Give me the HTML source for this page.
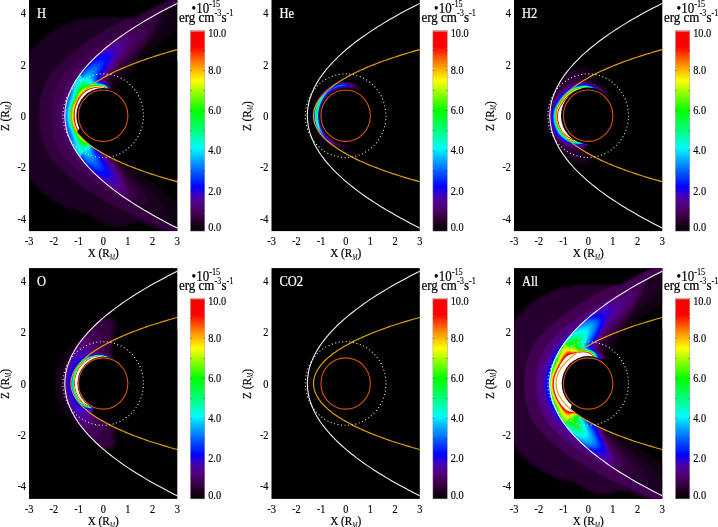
<!DOCTYPE html>
<html><head><meta charset="utf-8"><title>Energy deposition</title>
<style>
html,body{margin:0;padding:0;background:#fff;}
body{width:718px;height:527px;overflow:hidden;position:relative;font-family:"Liberation Serif","DejaVu Serif",serif;color:#000;}
svg{position:absolute;left:0;top:0;}
text{font-family:"Liberation Serif","DejaVu Serif",serif;}
.t{font-size:10.3px;fill:#000;stroke:#000;stroke-width:.14px;}
.l{font-size:11.2px;fill:#000;stroke:#000;stroke-width:.2px;}
.u{font-size:13px;fill:#000;stroke:#000;stroke-width:.2px;}
.n{font-size:12.5px;fill:#fff;stroke:#fff;stroke-width:.2px;}
</style></head><body>
<svg width="718" height="527" viewBox="0 0 718 527">
<defs>
<linearGradient id="cb" x1="0" y1="1" x2="0" y2="0">
<stop offset="0.000" stop-color="#000000"/>
<stop offset="0.040" stop-color="#1e0023"/>
<stop offset="0.080" stop-color="#3e004b"/>
<stop offset="0.120" stop-color="#500073"/>
<stop offset="0.160" stop-color="#4e00a0"/>
<stop offset="0.190" stop-color="#3200d2"/>
<stop offset="0.220" stop-color="#0000ff"/>
<stop offset="0.270" stop-color="#003cff"/>
<stop offset="0.320" stop-color="#007dff"/>
<stop offset="0.370" stop-color="#00beff"/>
<stop offset="0.410" stop-color="#00faff"/>
<stop offset="0.450" stop-color="#00ffc3"/>
<stop offset="0.500" stop-color="#00ff7d"/>
<stop offset="0.550" stop-color="#00ff3c"/>
<stop offset="0.600" stop-color="#00ff00"/>
<stop offset="0.650" stop-color="#55ff00"/>
<stop offset="0.700" stop-color="#aaff00"/>
<stop offset="0.750" stop-color="#ffff00"/>
<stop offset="0.800" stop-color="#ffb900"/>
<stop offset="0.850" stop-color="#ff6e00"/>
<stop offset="0.900" stop-color="#ff1e00"/>
<stop offset="0.920" stop-color="#ff0000"/>
<stop offset="1.000" stop-color="#ff0000"/>
</linearGradient>
<clipPath id="pc"><rect x="0" y="0" width="148.3" height="230.8"/></clipPath>
</defs>
<g transform="translate(29.0,0.3)">
<rect x="0" y="-1.0" width="148.3" height="231.8" fill="#000"/>
<g clip-path="url(#pc)">
<path fill="#110014" d="M135.2,.5l1-.5 12.1,0 0,28.5 -26.6,20.6 -6,5.1 -4,4.3 -10.5,13.7 -2.5,2.6 -6.8,6.3 -3.3,3.5 -1.9,2.9 -1,3.1 -4,7.9 -6.5,15 -.1,.6 -.4,.5 0,2.6 4,13.6 3.9,10.9 .1,2 .5,1.7 1,2.4 1.5,2.8 3,4.3 3.5,3.4 8.5,6.9 47.6,37.1 0,28.5 -18.4,0 -1.8-1 -4.3-1.7 -1.6-.8 -5-1.8 -4-1 -4-.5 -3.5-.1 -3.5,.4 -9,2.1 -3.5,.5 -5.5-.3 -3.5-.7 -5.5-1.8 -5.1-2.5 -5-3.1 -5.5-3.9 -9.5-2.2 -7.5-2.3 -7.5-3.1 -8-4.1 -7.6-4.9 -7-5.4 -6.5-6.2 -6-6.8 0-128.4 4-4.7 4.5-4.6 5-4.5 5-3.9 5.5-3.8 5.1-2.9 6-3 6-2.5 5-1.7 4.5-1.2 3.5-.6 5.5-.5 5.5-.9 37.1-.1 1.5-.4 3-.2 6.9-4.2 1.6-.7 2.5-1.5 1-.2 3.5-2 .8-.1 1-.5 1.3-.8 4.3-2.2 1.2-.8z"/>
<path fill="#1c0021" d="M138.2,.5l1-.5 9.1,0 0,3.4 -.5,0 -.5,.5 -.5,0 -.5,.5 -.5,0 -.5,.5 -.5,0 -.5,.5 -.5,0 -.5,.5 -.5,0 -.5,.5 -.5,0 -.5,.5 -.5,0 -.5,.5 -.5,0 -.5,.5 -.5,0 -.5,.5 -.5,0 -.5,.5 -.5,0 -.5,.6 -.5,0 -.7,.5 -.6,3 -.1,2 .3,1.5 1,2.5 0,1.5 -.4,1.5 -.6,1.5 -2.3,3.5 -11.2,13.5 -11,16.2 -3.5,4.5 -4,3.8 -14.1,11.1 -3.2,3 -1.6,2 -.6,1.4 -.2,1.1 .5,6 -4.3,11.5 -3.5,10 -.3,1 -.2,.5 -.2,1 -.3,.5 -.1,2.6 .6,4.2 2,9.6 1.5,5.8 1.9,5.9 -.3,2.5 .2,1.5 .9,2 6.3,9.7 3,4.1 3.5,3.7 24.1,23 8.1,8.1 5.2,6 1.9,2.5 1.1,2 .8,2 .3,2 -.4,1.1 -1,1.1 -1.5,.7 -2,.5 -3,.1 -3.5-.3 -.1,.3 .6,.5 .5,0 .5,.5 .5,0 .5,.5 .5,0 .5,.5 .5,0 1,1 .5,0 .5,.5 .5,0 .5,.5 .5,0 .5,.6 .5,0 .5,.5 .5,0 1,1 .5,0 .5,.5 .5,0 .5,.5 .5,0 .5,.5 .5,0 .5,.5 .5,0 .5,.5 .5,0 .5,.5 .5,0 .5,.5 .5,0 .5,.5 .5,0 .5,.5 .5,0 .5,.5 .5,0 .5,.5 .5,0 .5,.5 .5,0 .5,.5 .5,0 0,3.4 -14,0 -3.5-1.6 -2-1.1 -4.4-1.8 -1.2-.7 -5-1.8 -4-1.2 -4-.6 -3.5-.2 -3.5,.3 -10.4,2.2 -3.6,.5 -2,.1 -2-.1 -1.5-.7 -.5,0 -.5-.4 -.5,0 -.5-.4 -.5-.1 -.5-.3 -3.7-1.1 -2.3-1 -4-2 -6.4-4 -3.7-2.7 -8.7-1.8 -8.3-2.5 -8.5-3.5 -7.5-4 -7.6-5 -3.9-3.1 -3.5-3 -6.6-6.4 -6-7.3 0-120.2 1-1.3 4.5-5.4 3.9-4 4.3-4 4.9-4.1 5-3.5 5.7-3.5 5.8-3 5.8-2.5 4.2-1.5 5-1.5 4.5-1 5-.6 .5-.3 .5,0 1-.8 2-.5 35.1-.1 1-.1 .5-.4 .5,0 .5-.4 1,0 .5-.2 4,0 14.5-8.4 3.1-1.3 1.5-1 1-.2 1.5-.9 1-.2 .5-.4 .5-.1 .5-.5 .5,0 .5-.5 1-.1 1.5-.9 .8-.1 1.7-1z"/>
<path fill="#280030" d="M139.5,.5l1-.5 7.8,0 0,3.2 -.5,0 -.5,.5 -.5,0 -.5,.5 -.5,0 -.5,.5 -.5,0 -.5,.5 -.5,0 -.5,.5 -.5,0 -.5,.5 -.5,0 -.5,.5 -.5,0 -.5,.5 -.5,0 -.5,.5 -.5,0 -.5,.5 -.5,0 -.5,.5 -.5,0 -.5,.5 -.5,.1 -.5,.5 -.5,0 -1,1 -.5,.1 -.5,.5 -.6,.1 -.3,.5 -1,4 -1.8,5 -3.5,8 -3,5.5 -3.6,6.1 -4.3,6.7 -3,4.3 -2.5,3 -3,3.1 -12.2,10.4 -7.5,6 -3.2,3 -1.6,2 -.7,1.5 -.1,1.5 1.7,7 -4.4,13.5 -2.7,9 -.3,.6 -.1,.9 -.4,.8 -.2,3.3 .7,5.9 1.5,9.2 1,4.9 1.4,5.5 -1.2,3 -.1,1 .5,1.5 1,1.5 5.9,6.9 6,9 2.5,3.3 14.5,15.8 5.6,6.5 3.2,4.6 1.8,3.5 .3,1.5 0,1.5 -.4,.8 -.5,.7 -1,.6 -1.5,.5 -2,.2 -2.5-.1 -4-.4 0,.2 .5,0 1,1 .5,0 1,1.1 .5,0 .5,.5 .5,0 1,1 .5,0 .5,.5 .5,0 1,1 .5,0 .5,.6 .5,0 1,1 .5,0 .5,.5 .5,0 .5,.5 .5,0 1,1 .5,0 .5,.5 .5,0 .5,.5 .6,0 1,1 .5,0 .5,.5 .5,0 .5,.5 .5,0 .5,.5 .5,0 1,1 .5,0 .5,.5 .5,0 .5,.6 .5,0 .5,.5 .5,0 .5,.5 .5,0 1,1 .5,0 .5,.5 .5,0 .5,.5 .5,0 .5,.5 .5,0 .5,.5 .5,0 .5,.5 .5,0 .5,.5 .5,0 .5,.5 .5,0 .5,.5 .5,0 .5,.5 .5,0 .5,.5 .5,0 .5,.5 .5,0 .5,.5 .5,0 .5,.5 .5,0 0,3.2 -7.9,0 -.6-.2 -.5-.5 -1,0 -.5-.5 -1,0 -.5-.5 -.5,0 -.5-.5 -1,0 -.5-.5 -.5,0 -.5-.5 -1,0 -.5-.5 -.5,0 -.5-.5 -.5,0 -.5-.5 -1,0 -.5-.5 -.5,0 -.5-.5 -1,0 -.5-.5 -.5,0 -.5-.5 -.5,0 -.6-.5 -1,0 -.5-.5 -.5,0 -.5-.5 -.5,0 -.5-.5 -.5,0 -.5-.5 -1,0 -.5-.5 -.5,0 -.5-.5 -.5,0 -.5-.5 -1,0 -.5-.5 -.5,0 -.5-.5 -.5,0 -.5-.5 -1,0 -.5-.5 -.5,0 -.5-.5 -.5,0 -.5-.5 -.5,0 -.5-.5 -.5,0 -.5-.5 -.5,0 -.5-.5 -.5,0 -.5-.5 -.5,0 -.5-.5 -.5,0 -.5-.5 -1,0 -.5-.5 -.5,0 -.5-.5 -.5,0 -.5-.5 -.5,0 -.5-.5 -.5,0 -.5-.5 -.5,0 -.5-.5 -.5,0 -.5-.5 -.5,0 -.5-.5 -.5,0 -.5-.5 -.5,0 -.5-.5 -.5,0 -.5-.5 -.5,0 -.5-.5 -.5,0 -.5-.5 -.5,0 -.5-.5 -.5,0 -.5-.5 -.5,0 -1-1 -.5,0 -.5-.5 -.5,0 -.5-.5 -.5,0 -.5-.5 -.5,0 -.5-.5 -.5,0 -1-1 -.5,0 -.5-.5 -.5,0 -.5-.5 -.5,0 -1-1 -.5,0 -.5-.5 -.5,0 -.5-.5 -.6,0 -1-1 -.5,0 -.5-.5 -.5,0 -1-1 -.5,0 -.5-.5 -.5,0 -1-1 -.5,0 -.5-.5 -.5,0 -1-1 -.5,0 -1-1 -.5,0 -.5-.5 -.5,0 -1.5-1.5 -.5,0 -1-1 -.5,0 -1.5-1.5 -.5,0 -.5-.5 -.5,0 -1-1 -.5,0 -1-1 -.5,0 -1.5-1.5 -.5,0 -1.5-1.5 -.5,0 -2.5-2.5 -.5,0 -1.5-1.5 -.5,0 -2-2 -.5,0 -3.5-3.5 -.5,0 -5-5 -.5,0 -.9-.9 0-.5 -7-7 0-.5 -2-2 0-.5 -2-2 0-.5 -1-1 0-.5 -.5-.5 0-.5 -.5-.5 0-.5 -.5-.5 0-1 -.5-.5 0-.5 -.5-.5 0-.5 -.5-.5 0-1 -.5-.5 0-1 -.5-.5 0-1 -.5-.5 0-1 -.5-.5 0-1 -.5-.5 0-1 -.5-.5 0-1.5 -.5-.5 0-1.5 -.5-.5 0-2 -.5-.5 0-2.5 -.5-.5 0-3.5 -.5-.5 0-18.6 .5-.5 0-3.5 .5-.5 0-2.5 .5-.5 0-2 .5-.5 0-1.5 .5-.5 0-1.5 .5-.5 0-1 .5-.5 0-1 .5-.5 0-1 .5-.5 0-1 .5-.5 0-1 .5-.5 0-1 .5-.5 0-.5 .5-.5 0-.5 .5-.5 0-1 .5-.5 0-.5 .5-.5 0-.5 .5-.5 0-.5 1-1 0-.5 2-2 0-.5 2-2 0-.5 7-7 0-.5 .9-.9 .5,0 5-5 .5,0 3.5-3.5 .5,0 2-2 .5,0 1.5-1.5 .5,0 2.5-2.5 .5,0 1.5-1.5 .5,0 1.5-1.5 .5,0 1-1 .5,0 1-1 .5,0 .5-.5 .5,0 1.5-1.5 .5,0 1-1 .5,0 1.5-1.5 .5,0 .5-.5 .5,0 1-1 .5,0 1-1 .5,0 .5-.5 .5,0 1-1 .5,0 .5-.5 .5,0 1-1 .5,0 .5-.5 .5,0 1-1 .6,0 .5-.5 .5,0 .5-.5 .5,0 1-1 .5,0 .5-.5 .5,0 .5-.5 .5,0 1-1 .5,0 .5-.5 .5,0 .5-.5 .5,0 .5-.5 .5,0 .5-.5 .5,0 1-1 .5,0 .5-.5 .5,0 .5-.5 .5,0 .5-.5 .5,0 .5-.5 .5,0 .5-.5 .5,0 .5-.5 .5,0 .5-.5 .5,0 .5-.5 .5,0 .5-.5 .5,0 .5-.5 .5,0 .5-.5 .5,0 .5-.4 .5,0 .5-.4 .5,0 .5-.4 6.5-.1 .5-.1 7-4.3 5.5-3 1.6-1 3-1.4 1.6-1.1 4.4-2 1.5-1 1-.2 1.5-.9 1-.1 1.5-1 1,0 .5-.5 1-.1z"/>
<path fill="#34003f" d="M141.9,.5l1-.5 5.4,0 0,3 -.5,0 -.5,.5 -.5,0 -.5,.5 -.5,0 -.5,.5 -.5,0 -.5,.5 -.5,0 -.5,.5 -.5,0 -.5,.5 -.5,0 -.5,.5 -.5,0 -.5,.5 -.5,0 -.5,.5 -.5,0 -.5,.5 -.5,0 -.5,.5 -.5,0 -.5,.5 -.5,0 -.5,.5 -.5,0 -1,1.1 -.5,0 -.5,.5 -.5,0 -.5,.5 -.5,0 -.5,.5 -.5,0 -.5,.5 -.5,0 -1,1 -.5,0 -.5,.5 -.5,0 -.5,.6 -.5,0 -.5,.5 -.5,0 -1,1 -.6,0 -.5,.6 -.5,0 -.5,.6 -.5-.1 -.1,.2 -.4,.6 3.6-.4 2,.2 .5,.3 .3,.8 0,1.5 -1.2,4 -2.1,4.8 -3.1,5.7 -4,6.5 -3.5,4.7 -4,4.3 -17.6,16.6 -7.9,7 -2.5,2.5 -1.1,1.5 -.6,1.5 -.1,1.5 2,5.5 .7,2 -.1,.5 -4.8,16 -2,6.9 -.2,1.1 -.3,.6 -.3,3 .3,4.3 1,8.9 1,6.8 1.2,6 -.1,.5 -1.1,1.5 -.8,1.5 -.1,1 .2,1 1.4,2 6.8,7.3 2.5,3.1 7.5,11.8 8.5,10.8 3,4 2.1,3.5 1.1,2.6 .3,2 -.2,1 -.3,.6 -.8,.9 -.7,.4 -3.5,1.1 -.5,.4 -.5,.8 -.2,.8 .2,.5 .5,.5 .5,.1 1,1 .5,0 1,1 .5,0 .5,.6 .5,0 .8,.8 .2,.4 .5,0 1,1 .5,0 .5,.5 .5,0 1,1 .5,0 .5,.5 .5,0 1,1 .5,0 .5,.5 .5,0 1,1 .5,0 .5,.5 .5,0 .5,.5 .5,0 1,1 .5,0 .5,.5 .5,0 .5,.5 .6,0 1,1.1 .5,0 .5,.5 .5,0 .5,.5 .5,0 .5,.5 .5,0 1,1 .5,0 .5,.5 .5,0 .5,.5 .5,0 .5,.5 .5,0 .5,.5 .5,0 1,1 .5,0 .5,.5 .5,0 .5,.5 .5,0 .5,.5 .5,0 .5,.5 .5,0 .5,.5 .5,0 .5,.5 .5,0 .5,.5 .5,0 .5,.5 .5,0 .5,.5 .5,0 .5,.5 .5,0 .5,.5 .5,0 .5,.5 .5,0 .5,.5 .5,0 0,3 -7.5,0 -.5-.5 -.5,0 -.5-.5 -1,0 -.5-.5 -1,0 -.5-.5 -.5,0 -.5-.5 -1,0 -.5-.5 -.5,0 -.5-.5 -1,0 -.5-.5 -.4,0 -1.6-1 -3.5-1.4 -1.5-.8 -3.8-1.3 -1.8-1 -1,0 -.5-.5 -.5,0 -.5-.5 -.5,0 -.5-.5 -1,0 -.5-.5 -.5,0 -.5-.5 -.5,0 -.5-.5 -1,0 -.5-.5 -.5,0 -.5-.5 -.5,0 -.5-.5 -.5,0 -.5-.5 -.5,0 -.5-.5 -.5,0 -.5-.5 -.5,0 -.5-.5 -.5,0 -.5-.5 -.5,0 -.5-.5 -1,0 -.5-.5 -.5,0 -.5-.5 -.5,0 -.5-.5 -.5,0 -.5-.5 -.5,0 -.5-.5 -.5,0 -.5-.5 -.5,0 -.5-.5 -.5,0 -.5-.5 -.5,0 -.5-.5 -.5,0 -.5-.5 -.5,0 -.5-.5 -.5,0 -.5-.5 -.5,0 -.5-.5 -.5,0 -.5-.5 -.5,0 -.5-.5 -.5,0 -1-1 -.5,0 -.5-.5 -.5,0 -.5-.5 -.5,0 -.5-.5 -.5,0 -.5-.5 -.5,0 -1-1 -.5,0 -.5-.5 -.5,0 -.5-.5 -.5,0 -1-1 -.5,0 -.5-.5 -.5,0 -.5-.5 -.6,0 -1-1 -.5,0 -.5-.5 -.5,0 -1-1 -.5,0 -.5-.5 -.5,0 -1-1 -.5,0 -.5-.5 -.5,0 -1-1 -.5,0 -1-1 -.5,0 -.5-.5 -.5,0 -1.5-1.5 -.5,0 -1-1 -.5,0 -1.5-1.5 -.5,0 -.5-.5 -.5,0 -1-1 -.5,0 -1-1 -.5,0 -1.5-1.5 -.5,0 -1.5-1.5 -.5,0 -2.5-2.5 -.5,0 -1.5-1.5 -.5,0 -2-2 -.5,0 -3.5-3.5 -.5,0 -5-5 -.5,0 -.6-.6 0-.5 -7-7 0-.5 -2-2 0-.5 -2-2 0-.5 -1-1 0-.5 -.5-.5 0-.5 -.5-.5 0-.5 -.5-.5 0-1 -.5-.5 0-.5 -.5-.5 0-.5 -.5-.5 0-1 -.5-.5 0-1 -.5-.5 0-1 -.5-.5 0-1 -.5-.5 0-1 -.5-.5 0-1 -.5-.5 0-1.5 -.5-.5 0-1.5 -.5-.5 0-2 -.5-.5 0-2.5 -.5-.5 0-3.5 -.5-.5 0-18.6 .5-.5 0-3.5 .5-.5 0-2.5 .5-.5 0-2 .5-.5 0-1.5 .5-.5 0-1.5 .5-.5 0-1 .5-.5 0-1 .5-.5 0-1 .5-.5 0-1 .5-.5 0-1 .5-.5 0-1 .5-.5 0-.5 .5-.5 0-.5 .5-.5 0-1 .5-.5 0-.5 .5-.5 0-.5 .5-.5 0-.5 1-1 0-.5 2-2 0-.5 2-2 0-.5 7-7 0-.5 .6-.6 .5,0 5-5 .5,0 3.5-3.5 .5,0 2-2 .5,0 1.5-1.5 .5,0 2.5-2.5 .5,0 1.5-1.5 .5,0 1.5-1.5 .5,0 1-1 .5,0 1-1 .5,0 .5-.5 .5,0 1.5-1.5 .5,0 1-1 .5,0 1.5-1.5 .5,0 .5-.5 .5,0 1-1 .5,0 1-1 .5,0 .5-.5 .5,0 1-1 .5,0 .5-.5 .5,0 1-1 .5,0 .5-.5 .5,0 1-1 .6,0 .5-.5 .5,0 .5-.5 .5,0 1-1 .5,0 .5-.5 .5,0 .5-.5 .5,0 1-1 .5,0 .5-.5 .5,0 .5-.5 .5,0 .5-.5 .5,0 .5-.5 .5,0 1-1 .5,0 .5-.5 .5,0 .5-.5 .5,0 .5-.5 .5,0 .5-.5 .5,0 .5-.5 .5,0 .5-.5 .5,0 .5-.5 .5,0 .5-.5 .5,0 .5-.5 .5,0 .5-.5 1-.2 10,0 2-1 6-3.7 2.5-1.3 4.8-2.8 2.8-1.3 1.8-1.2 3.7-1.7 1.9-1.3z"/>
<path fill="#420053" d="M108.1,25l.1-.1 .3,.1 -.3,.3zM107.1,25.5l.1-.1 .8,.1 -.3,.3 -.5,0zM105.6,26l.1-.1 1.3,.1 -.3,.4 -.5,0 -1,1.1 -.5,0 0,.3 4-.7 3.5-.3 2.5,.3 1.3,.4 .8,.5 .8,1 .3,1.5 -.4,2 -1.1,2.5 -3.4,5.1 -5.4,6.5 -15.9,17 -11,10.9 -2,2.4 -.9,1.7 -.1,1 .1,1 2.6,5 1.2,3 -6.4,23.1 -.3,1.4 -.2,.5 -.1,1.5 -.3,.6 .4,8.6 .5,6.5 1.4,12.4 -2.1,2.5 -.7,1.5 .3,1.5 1,1.5 3.1,3.5 7.5,8 2,2.6 2.1,3.4 8.1,14.5 1.5,3 .8,2 .4,1.5 .1,2 -.5,7.1 -.4,2 .2,.5 .7,.2 1,1.1 .5,0 1,1.1 .5,0 1,1 .5,0 1,1 .5,0 0,.2 -1,0 -1-1 -.5,0 -.5-.5 -1,0 -1-1 -1,0 -.5-.5 -.5,0 -1-1 -1,0 -1-1 -1,0 -.5-.5 -.5,0 -1-1 -1,0 -1-1 -.5,0 -.5-.5 -.5,0 -.5-.5 -.5,0 -.5-.5 -.5,0 -.5-.5 -.5,0 -1-1 -.5,0 -.5-.5 -.5,0 -.5-.5 -.5,0 -.5-.5 -.5,0 -1-1 -.5,0 -.5-.5 -.5,0 -1-1 -.5,0 -.5-.5 -.5,0 -1-1 -.5,0 -.5-.5 -.5,0 -1-1 -.6,0 -.5-.5 -.5,0 -.5-.5 -.5,0 -1.5-1.5 -.5,0 -.5-.5 -.5,0 -1-1 -.5,0 -1-1 -.5,0 -1.5-1.5 -.5,0 -1-1 -.5,0 -.5-.5 -.5,0 -1.5-1.5 -.5,0 -1-1 -.5,0 -1.5-1.5 -.5,0 -.6-.7 0-.5 -.4-.3 -.5,0 -1-1.1 -.5,0 -1.5-1.5 -.5,0 -2.5-2.5 -.5,0 -3.5-3.5 -.5,0 -.1-.6 -.4-.4 -.5,0 -5.7-5.6 -1.5-1.5 0-.5 -3-3 0-.5 -.5-.5 0-.5 -.5-.5 0-.5 -.5-.5 0-.5 -.5-.5 0-.5 -.5-.5 0-.5 -.5-.5 0-.5 -.5-.5 0-.5 -.5-.5 0-1 -.5-.5 0-.5 -.5-.5 0-.5 -.5-.5 0-1 -.5-.5 0-1 -.5-.5 0-1 -.5-.5 0-1 -.5-.5 0-1.5 -.5-.5 0-1.5 -.5-.5 0-1.5 -.5-.5 0-2.5 -.5-.5 0-3.5 -.5-.5 0-15.6 .5-.5 0-3.5 .5-.5 0-2.5 .5-.5 0-1.5 .5-.5 0-1.5 .5-.5 0-1.5 .5-.5 0-1 .5-.5 0-1 .5-.5 0-1 .5-.5 0-1 .5-.5 0-.5 .5-.5 0-.5 .5-.5 0-1 .5-.5 0-.5 .5-.5 0-.5 .5-.5 0-.5 .5-.5 0-.5 .5-.5 0-.5 .5-.5 0-.5 .5-.5 0-.5 .5-.5 0-.5 3-3 0-.5 7.2-7.1 .5,0 .4-.4 .1-.6 .5,0 3.5-3.5 .5,0 2.5-2.5 .5,0 1.5-1.5 .5,0 1-1.1 .5,0 .4-.3 0-.5 .6-.7 .5,0 1.5-1.5 .5,0 1-1 .5,0 1.5-1.5 .5,0 .5-.5 .5,0 1-1 .5,0 1.5-1.5 .5,0 1-1 .5,0 1-1 .5,0 .5-.5 .5,0 1.5-1.5 .5,0 .5-.5 .5,0 .5-.5 .6,0 1-1 .5,0 .5-.5 .5,0 1-1 .5,0 .5-.5 .5,0 1-1 .5,0 .5-.5 .5,0 1-1 .5,0 .5-.5 .5,0 .5-.5 .5,0 .5-.5 .5,0 1-1 .5,0 .5-.5 .5,0 .5-.5 .5,0 .5-.5 .5,0 .5-.5 .5,0 1-1 1,0 1-1 .5,0 .5-.5 1,0 1-1 1,0 1-1 .5,0 .5-.5 1,0 1-1 1,0 .5-.5 .5,0zM107.1,205.3l.7,0 -.6,.1zM108.1,205.8l.2,0 -.1,.1z"/>
<path fill="#4b0067" d="M100.9,33.5l2.3,0 2,.4 1.3,.6 .7,.9 .4,1.1 -.1,1.5 -.6,2.1 -1,2 -2.6,4 -4.2,5.5 -12,14 -8.4,8.9 -1.9,2.6 -.6,1.5 -.1,1 .3,1 3,4 1,2 .8,2 -6,22.9 -.2,1.1 -.3,.9 -.1,1.6 -.4,.6 .5,14.8 .5,7.5 .6,5.2 -2.7,2.5 -.6,1 -.2,1 .2,1 .6,1 2.3,3 9.8,10.7 2,2.4 2.5,3.9 3.2,6 2.1,4.5 1.4,3.5 .9,3 .6,2.5 .3,3.6 -.1,2 -.5,1 -.4,.3 -1,.2 -2-.4 -1-.6 -.5,0 -1.5-1.4 -.5,0 -1-.9 -.5,0 -1.5-1.5 -.5,0 -1.5-1.4 -.5-.1 -1.5-1.4 -.5,0 -2-2 -.5,0 -2-2 -.5,0 -2-2 -.5,0 -3.1-3 -.5,0 -6-5.9 -.5,0 -2-1.8 -.5,0 -1.5-1.5 -.5,0 -.2-.2 0-.5 -.3-.3 -.5,0 -1.5-1.5 -.5,0 -1.5-1.5 -.5,0 -2.5-2.5 -.5,0 -3-3 -.5,0 -.2-.2 0-.5 -.3-.3 -.5,0 -6.2-6.2 0-.5 -1-1 0-.5 -.5-.5 0-.5 -1-1 0-.5 -.5-.5 0-.5 -.5-.5 0-.5 -.5-.5 0-.5 -.5-.5 0-.5 -.5-.5 0-.5 -.5-.5 0-1 -.5-.5 0-.5 -.5-.5 0-.5 -.5-.5 0-1 -.5-.5 0-1 -.5-.5 0-1 -.5-.5 0-1 -.5-.5 0-1 -.5-.5 0-1.5 -.5-.5 0-1.5 -.5-.5 0-2.5 -.5-.5 0-3.5 -.5-.5 0-12.6 .5-.5 0-3.5 .5-.5 0-2.5 .5-.5 0-1.5 .5-.5 0-1.5 .5-.5 0-1 .5-.5 0-1 .5-.5 0-1 .5-.5 0-1 .5-.5 0-1 .5-.5 0-.5 .5-.5 0-.5 .5-.5 0-1 .5-.5 0-.5 .5-.5 0-.5 .5-.5 0-.5 .5-.5 0-.5 .5-.5 0-.5 .5-.5 0-.5 1-1 0-.5 .5-.5 0-.5 1-1 0-.5 6.2-6.2 .5,0 .3-.3 0-.5 .2-.2 .5,0 3-3 .5,0 2.5-2.5 .5,0 1.5-1.5 .5,0 1.5-1.5 .5,0 .3-.3 0-.5 .2-.2 .5,0 1.5-1.5 .5,0 2-1.8 .5,0 6-5.9 .5,0 3.1-3 .5,0 2-2 .5,0 2-2 .5,0 2-2 .5,0 1.5-1.4 .5-.1 1.5-1.4 .5,0 1.5-1.5 .5,0 1-.9 .5,0 1.5-1.4 .5,0 1-.7 2-.5z"/>
<path fill="#50007c" d="M92.1,39.1l2.6-.4 2,.1 1.5,.4 1,.7 .5,.7 .4,1.5 -.2,1.5 -.7,2 -2.2,4 -3.5,5 -8.2,10.5 -8.3,9.5 -1.4,2 -.8,2 .1,1 .3,1 3.7,4 1.4,2.5 .5,1.5 -5.6,22.7 -.2,1.3 -.3,.8 -.1,1.7 -.5,.6 .2,17.5 .3,6 .4,4 -3,2.5 -.7,1 -.3,1 .2,1 .5,1 2.5,3.2 10.6,12.3 2.3,3 2.6,3.9 2,3.6 1.5,3.2 1.5,3.8 1.2,5 .1,2 -.3,1.4 -.8,.6 -1.2,.2 -3-.4 -4.5-1.3 -.5-.4 -.5,0 -1.5-1.5 -.5,0 -2-1.9 -.5,0 -2-2 -.5,0 -2-1.9 -.5,0 -3.1-3 -.5,0 -6-5.9 -.5,0 -.9-.9 -3-3 0-.5 -5-5 0-.5 -2.6-2.5 0-.5 -2-2 0-.5 -1.5-1.5 0-.5 -1.5-1.5 0-.5 -1-1 0-.5 -1-1 0-.5 -.5-.5 0-.5 -1-1 0-.5 -.5-.5 0-.5 -1-1 0-.5 -.5-.5 0-.5 -.5-.5 0-.5 -.5-.5 0-.5 -.5-.5 0-.5 -.5-.5 0-.5 -.5-.5 0-1 -.5-.5 0-.5 -.5-.5 0-.5 -.5-.5 0-1 -.5-.5 0-1 -.5-.5 0-1 -.5-.5 0-1 -.5-.5 0-1.5 -.5-.5 0-1.5 -.5-.5 0-2.5 -.5-.5 0-3.5 -.5-.5 0-9.6 .5-.5 0-3.5 .5-.5 0-2.5 .5-.5 0-1.5 .5-.5 0-1.5 .5-.5 0-1 .5-.5 0-1 .5-.5 0-1 .5-.5 0-1 .5-.5 0-.5 .5-.5 0-.5 .5-.5 0-1 .5-.5 0-.5 .5-.5 0-.5 .5-.5 0-.5 .5-.5 0-.5 .5-.5 0-.5 .5-.5 0-.5 1-1 0-.5 .5-.5 0-.5 1-1 0-.5 .5-.5 0-.5 1-1 0-.5 1-1 0-.5 1.5-1.5 0-.5 1.5-1.5 0-.5 2-2 0-.5 2.6-2.5 0-.5 5-5 0-.5 3.9-3.9 .5,0 6-5.9 .5,0 3.1-3 .5,0 2-1.9 .5,0 2-2 .5,0 2-1.9 .5,0 1.5-1.5 .5,0 .5-.4 2-.6z"/>
<path fill="#4f0092" d="M86.2,43.6l3.5-.5 1.5,.1 1.2,.4 .8,.5 .7,1 .2,1 0,1 -.5,2 -.9,2 -2.9,5 -6.1,8.5 -8,9.9 -1.4,2.1 -.6,1.5 0,1.5 .4,1 .9,1 2.7,2.1 .8,.9 1.3,2 .7,1.5 .1,.5 -5.4,22.5 -.2,1.5 -.3,.7 -.1,1.8 -.5,.6 -.2,18 .5,9.5 -3.3,2.5 -.8,1 -.3,1 .1,1 .8,1.5 3.8,5 9.7,12 3.8,5.3 2.5,4.4 2,4.8 .5,2 .1,1.5 -.3,1 -.8,1 -2,.5 -2.5-.2 -3.5-.8 -4.5-1.5 -1-.9 -.5,0 -2-2 -.5,0 -3.1-2.9 -.5,0 -6-5.9 -.5,0 -.8-.8 -3-3 0-.5 -5.1-5 0-.5 -2.5-2.5 0-.5 -2-2 0-.5 -1.5-1.5 0-.5 -1.5-1.5 0-.5 -1-1 0-.5 -1-1 0-.5 -.5-.5 0-.5 -1-1 0-.5 -.5-.5 0-.5 -1-1 0-.5 -.5-.5 0-.5 -.5-.5 0-.5 -.5-.5 0-.5 -.5-.5 0-.5 -.5-.5 0-.5 -.5-.5 0-1 -.5-.5 0-.5 -.5-.5 0-.5 -.5-.5 0-1 -.5-.5 0-1 -.5-.5 0-1 -.5-.5 0-1 -.5-.5 0-1.5 -.5-.5 0-1.5 -.5-.5 0-2.5 -.5-.5 -.1-3.5 -.5-.5 0-9.6 .5-.5 0-3.5 .5-.5 .1-2.5 .5-.5 0-1.5 .5-.5 0-1.5 .5-.5 0-1 .5-.5 0-1 .5-.5 0-1 .5-.5 0-1 .5-.5 0-.5 .5-.5 0-.5 .5-.5 0-1 .5-.5 0-.5 .5-.5 0-.5 .4-.5 0-.5 .5-.5 0-.5 .5-.5 0-.5 .5-.5 0-.5 1-1 0-.5 .5-.5 0-.5 1-1 0-.5 .5-.5 0-.5 1.1-1 0-.5 1-1 0-.5 1.5-1.5 0-.5 1.5-1.5 0-.5 2-2 0-.5 2.5-2.5 0-.5 5.1-5 0-.5 3-3 .8-.8 .5,0 6-5.9 .5,0 3.1-2.9 .5,0 2-2 .5,0 1-.9 1-.4z"/>
<path fill="#4700ad" d="M83.4,47.1l1.8-.2 1.5,.1 1,.3 1,.8 .5,1 .1,1 -.5,2.5 -1.5,3.5 -2.4,4 -3,4.5 -7.2,9.5 -1.5,2.5 -.5,1.5 0,1.5 .4,1 1,1 2.6,1.7 1.5,1.3 1.3,2 .8,1.5 0,.5 -5.1,22.4 -.3,1.6 -.2,.6 -.1,1.9 -.5,.6 -.5,18 .2,9.5 -3,2 -1.1,1 -.6,1 -.1,1 .5,1.5 2.1,3.2 11.3,14.8 2.9,4.5 1.9,3.5 1.3,3.5 .2,1.5 -.1,1 -.4,1 -.6,.5 -.9,.5 -1.5,.2 -3-.3 -4-1.1 -4.5-1.8 -1.6-1.4 -.5,0 -6-5.9 -.5,0 -3.7-3.7 0-.5 -5.1-5 0-.5 -2.5-2.5 0-.5 -2-2 0-.5 -1.6-1.5 0-.5 -1.5-1.5 0-.5 -1-1 0-.5 -1-1 0-.5 -.5-.5 0-.5 -1-1 0-.5 -.5-.5 0-.5 -1-1 0-.5 -.5-.5 0-.5 -.5-.5 0-.5 -.5-.5 0-.5 -.5-.5 0-.5 -.5-.5 0-.5 -.5-.5 0-1 -.5-.5 0-.5 -.5-.5 0-.5 -.5-.5 0-1 -.5-.5 0-1 -.5-.5 0-1 -.5-.5 0-1 -.5-.5 0-1.5 -.5-.5 0-1.5 -.5-.5 0-2.5 -.5-.5 0-3.5 -.5-.5 0-9.6 .5-.5 0-3.5 .5-.5 0-2.5 .5-.5 0-1.5 .5-.5 0-1.5 .5-.5 0-1 .5-.5 0-1 .5-.5 0-1 .5-.5 0-1 .5-.5 0-.5 .5-.5 0-.5 .5-.5 0-1 .5-.5 0-.5 .5-.5 0-.5 .5-.5 0-.5 .5-.5 0-.5 .5-.5 0-.5 .5-.5 0-.5 1-1 0-.5 .5-.5 0-.5 1-1 0-.5 .5-.5 0-.5 1-1 0-.5 1-1 0-.5 1.5-1.5 0-.5 1.6-1.5 0-.5 2-2 0-.5 2.5-2.5 0-.5 5.1-5 0-.5 2.7-2.7 1-1 .5,0 6-5.9 .5,0 1.6-1.4 3-1.2 3.5-1.2z"/>
<path fill="#3400cf" d="M79.1,50.6l2.6-.3 2,.4 .5,.4 .8,1 .2,1 -.1,1 -.8,3 -2,4 -2.1,3.5 -7,10 -1.1,2 -.5,1.5 0,1 .5,1.5 1,1 3.6,2.1 1,.8 1.6,2.1 .8,1.5 0,.5 -4.9,22.2 -.3,1.8 -.2,.5 -.1,2 -.5,.6 -.9,18.5 .1,9 -3.9,2.5 -.8,1 -.4,1.5 .4,1.5 2,3.3 9.9,13.7 2.1,3.5 1.5,3 .9,3 .2,1.5 -.2,1 -.8,1 -.5,.4 -2,.4 -2.5-.3 -3-.8 -4.1-1.6 -3-1.6 -3-2.9 -.5,0 -3.6-3.6 0-.5 -5.1-5 0-.5 -2.5-2.5 0-.5 -2-2 -.1-.5 -1.6-1.5 0-.5 -1.5-1.5 0-.5 -1-1 0-.5 -1-1 0-.5 -.5-.5 0-.5 -1-1 0-.5 -.5-.5 0-.5 -1-1 0-.5 -.5-.5 0-.5 -.5-.5 0-.5 -.5-.5 0-.5 -.4-.5 0-.5 -.5-.5 0-.5 -.5-.5 0-1 -.5-.5 0-.5 -.5-.5 0-.5 -.5-.5 0-1 -.5-.5 0-1 -.5-.5 0-1 -.5-.5 0-1 -.5-.5 0-1.5 -.5-.5 0-1.5 -.5-.5 0-2.5 -.5-.5 -.1-3.5 -.4-.5 -.1-9.6 .5-.5 .1-3.5 .4-.5 .1-2.5 .5-.5 0-1.5 .5-.5 0-1.5 .5-.5 0-1 .5-.5 0-1 .5-.5 0-1 .5-.5 0-1 .5-.5 0-.5 .5-.5 0-.5 .4-.5 0-1 .5-.5 0-.5 .5-.5 0-.5 .5-.5 0-.5 .5-.5 0-.5 .5-.5 0-.5 .5-.5 0-.5 1-1 0-.5 .5-.5 0-.5 1-1 0-.5 .5-.5 0-.5 1-1 0-.5 1-1 0-.5 1.5-1.5 0-.5 1.6-1.5 .1-.5 2-2 0-.5 2.5-2.5 0-.5 5.1-5 0-.5 3.6-3.6 .5,0 3-2.9 1-.6 5.1-2.3z"/>
<path fill="#1400ed" d="M76.4,53.6l2.8-.1 1.5,.6 .5,.6 .3,.9 .1,1 -.2,1.5 -.9,2.5 -1.7,3.5 -7.2,11.3 -.8,2.2 -.2,1.5 .3,1 .6,1 1.5,1 3.7,1.9 1.3,1.1 1.4,2 .5,1 0,.5 -5.2,24.4 -.1,2.1 -.5,.6 -1.2,18 -.1,9.5 -4.1,2.5 -.9,1 -.4,1.5 .4,1.5 1.7,3 9,13.5 2.4,5 .6,2.5 .1,1 -.2,1 -.7,1 -.5,.3 -2,.4 -3-.4 -3.6-1.2 -4-2 -3.5-2.1 -2-2 -.1-.5 -5-5 0-.5 -2.6-2.5 0-.5 -2-2 0-.5 -1.6-1.5 0-.5 -1.5-1.5 0-.5 -1-1 0-.5 -1-1 0-.5 -.5-.5 0-.5 -1-1 0-.5 -.5-.5 0-.5 -1-1 0-.5 -.5-.5 0-.5 -.5-.5 0-.5 -.5-.5 0-.5 -.5-.5 0-.5 -.5-.5 0-.5 -.5-.5 0-1 -.5-.5 0-.5 -.5-.5 0-.5 -.5-.5 0-1 -.5-.5 0-1 -.5-.5 0-1 -.5-.5 0-1 -.5-.5 0-1.5 -.5-.5 0-1.5 -.5-.5 0-2.5 -.5-.5 0-3.5 -.5-.5 0-9.6 .5-.5 0-3.5 .5-.5 0-2.5 .5-.5 0-1.5 .5-.5 0-1.5 .5-.5 0-1 .5-.5 0-1 .5-.5 0-1 .5-.5 0-1 .5-.5 0-.5 .5-.5 0-.5 .5-.5 0-1 .5-.5 0-.5 .5-.5 0-.5 .5-.5 0-.5 .5-.5 0-.5 .5-.5 0-.5 .5-.5 0-.5 1-1 0-.5 .5-.5 0-.5 1-1 0-.5 .5-.5 0-.5 1-1 0-.5 1-1 0-.5 1.5-1.5 0-.5 1.6-1.5 0-.5 2-2 0-.5 2.6-2.5 0-.5 5-5 .1-.5 2-2 3-1.9 3.5-1.7 3-1.2z"/>
<path fill="#000aff" d="M73,56.6l2.2-.3 1,.1 1,.3 .5,.4 .6,1 0,2 -.5,2 -1,2.5 -6.3,11 -.7,2 -.1,1 .1,1 .4,1 1,1 4.5,2.1 2,1.4 1.2,1.5 .9,1.5 -5.1,24.9 -.1,2.1 -.5,.6 -1.5,17.9 -.3,9.6 -4.3,2.5 -1,1 -.4,1.5 .4,1.5 1.2,2.5 7.2,11.5 1.7,3 .7,2 .6,2.5 -.2,1.8 -.5,.7 -.5,.4 -1,.3 -1,.1 -2.6-.4 -3.5-1.2 -3.5-1.7 -4-2.5 -4.5-4.5 -.1-.5 -2.5-2.5 0-.5 -2-2 0-.5 -1.7-1.5 0-.5 -1.5-1.5 0-.5 -1-1 0-.5 -1-1 0-.5 -.5-.5 0-.5 -1-1 0-.5 -.5-.5 0-.5 -1-1 0-.5 -.5-.5 0-.5 -.5-.5 0-.5 -.5-.5 0-.5 -.5-.5 0-.5 -.4-.5 0-.5 -.5-.5 0-1 -.5-.5 0-.5 -.5-.5 0-.5 -.5-.5 0-1 -.5-.5 0-1 -.5-.5 0-1 -.5-.5 0-1 -.5-.5 0-1.5 -.5-.5 0-1.5 -.5-.5 0-2.5 -.5-.5 -.1-3.5 -.4-.5 -.1-9.6 .5-.5 .1-3.5 .4-.5 .1-2.5 .5-.5 0-1.5 .5-.5 0-1.5 .5-.5 0-1 .5-.5 0-1 .5-.5 0-1 .5-.5 0-1 .5-.5 0-.5 .4-.5 0-.5 .5-.5 0-1 .5-.5 0-.5 .5-.5 0-.5 .5-.5 0-.5 .5-.5 0-.5 .5-.5 0-.5 .5-.5 0-.5 1-1 0-.5 .5-.5 0-.5 1-1 0-.5 .5-.5 0-.5 1-1 0-.5 1-1 0-.5 1.5-1.5 0-.5 1.7-1.5 0-.5 2-2 0-.5 2.5-2.5 .1-.5 4-4 2.5-1.8 3.5-2 3-1.3z"/>
<path fill="#0028ff" d="M69.4,60.1l2.2-.4 1,0 1,.3 1,1.1 .3,1.5 -.2,1.5 -.8,2 -4.8,10 -.5,2 .3,2 .5,1 1.4,1 4.4,1.7 2,1.1 1.1,1.2 1.3,2 -4.9,24.8 -.1,2.2 -.5,.6 -1.8,18.5 -.4,8.5 -.1,.5 -3.9,2 -1.3,1 -.7,1 -.2,1 .1,1 1.3,3 5.4,9.5 2.2,5 .2,1.5 -.3,1.5 -1,1.1 -1.5,.3 -2.5-.3 -3-1.1 -3-1.5 -3.5-2.3 -2.8-2.2 -2.7-2.5 0-.5 -2-2 0-.5 -1.7-1.5 0-.5 -1.6-1.5 0-.5 -1-1 0-.5 -1-1 0-.5 -.4-.5 -.1-.5 -.9-1 0-.5 -.5-.5 0-.5 -1-1 0-.5 -.5-.5 0-.5 -.5-.5 0-.5 -.5-.5 0-.5 -.5-.5 0-.5 -.5-.5 0-.5 -.5-.5 0-1 -.5-.5 0-.5 -.5-.5 0-.5 -.4-.5 0-1 -.5-.5 0-1 -.5-.5 0-1 -.5-.5 0-1 -.5-.5 0-1.5 -.5-.5 -.1-1.5 -.5-.5 0-2.5 -.5-.5 0-3.5 -.5-.5 0-9.6 .5-.5 0-3.5 .5-.5 0-2.5 .5-.5 0-1.5 .5-.5 0-1.5 .5-.5 0-1 .5-.5 0-1 .5-.5 0-1 .5-.5 0-1 .5-.5 0-.5 .5-.5 0-.5 .5-.5 0-1 .5-.5 0-.5 .5-.5 0-.5 .5-.5 0-.5 .5-.5 0-.5 .5-.5 0-.5 .5-.5 0-.5 .9-1 0-.5 .5-.5 0-.5 1-1 0-.5 .5-.5 0-.5 1-1 0-.5 1-1 0-.5 1.5-1.5 0-.5 1.8-1.5 0-.5 2-2 0-.5 1.5-1.5 3.5-2.8 3.5-2.4 3.5-1.8z"/>
<path fill="#0046ff" d="M67.4,63.1l1.7-.2 1.2,.2 .8,.6 .4,1.4 -.5,3 -3.3,8.5 -.2,2 .5,2 .8,1 .8,.5 5.1,1.8 2,1 1.5,1.3 1.2,1.9 -4.7,24.7 -.2,2.3 -.4,.6 -2,17 -.7,10 -.2,.5 -3.2,1.5 -1.7,1 -1,1 -.5,1 .1,1.5 .9,2.5 4.1,8.5 1.5,4 .1,1.5 -.1,1 -.8,.8 -1.5,.4 -1.5-.1 -2-.6 -2.5-1.2 -2.5-1.5 -2.5-1.9 -2.5-2.2 -3.9-4.2 -.1,.5 -.5,.2 -.2-.2 0-.5 -1.5-1.5 0-.5 -1-1 0-.5 -1-1 0-.5 -.5-.5 0-.5 -1-1 0-.5 -.5-.5 0-.5 -1-1 0-.5 -.5-.5 0-.5 -.5-.5 0-.5 -.5-.5 .1-.5 -.5-.5 0-.5 -.5-.5 0-.5 -.5-.5 0-1 -.5-.5 0-.5 -.5-.5 0-.5 -.5-.5 0-1 -.5-.5 0-1 -.5-.5 0-1 -.5-.5 0-1 -.5-.5 0-1.5 -.5-.5 0-1.5 -.5-.5 0-2.5 -.5-.5 0-3.5 -.5-.5 0-9.6 .5-.5 0-3.5 .5-.5 0-2.5 .5-.5 0-1.5 .5-.5 0-1.5 .5-.5 0-1 .5-.5 0-1 .5-.5 0-1 .5-.5 0-1 .5-.5 0-.5 .5-.5 0-.5 .5-.5 0-1 .4-.5 0-.5 .5-.5 0-.5 .5-.5 0-.5 .5-.5 0-.5 .5-.5 0-.5 .5-.5 0-.5 1-1 0-.5 .5-.5 0-.5 1-1 0-.5 .5-.5 0-.5 1-1 0-.5 1-1 0-.5 1.5-1.5 0-.5 .2-.2 .5,.2 0,.2 4-4.1 5-3.9 3.5-2z"/>
<path fill="#0067ff" d="M63.9,66.6l1.7-.4 1,0 1,.4 .6,1 .2,1 -.2,1.5 -1.5,5.5 -.3,2 .1,1.5 .7,2 1.2,1 1.1,.5 4.7,1.4 2,.8 1.7,1.3 1.4,2 -4.6,24.6 -.2,2.4 -.4,.6 -2.5,18.8 -.6,8.2 -.3,.5 -3.5,1.5 -1.7,1 -1.1,1 -.4,1 -.1,1 .7,3 2.9,7 .7,3 .1,1 -.3,1 -.9,.7 -1,.2 -2-.3 -3-1.4 -2.5-1.7 -2-1.6 -2.5-2.4 -1.8-2 -.2,0 0,.5 -.6,.5 0,.5 -.4,.2 -.2-.7 -1.5-1.5 0-.5 -1-1 0-.5 -1-1 0-.5 -.5-.5 0-.5 -.9-1 0-.5 -.5-.5 0-.5 -1-1 0-.5 -.5-.5 0-.5 -.5-.5 0-.5 -.5-.5 0-.5 -.5-.5 0-.5 -.5-.5 0-.5 -.4-.5 0-1 -.5-.5 0-.5 -.5-.5 .1-2 -.6-2.6 -1-2.8 -2-4.5 0-1.6 -.5-.5 -.1-3.5 -.5-.5 0-9.6 .5-.5 0-3.5 .5-.5 .1-2.5 .4-.5 .1-1.5 .5-.5 0-1.5 .5-.5 0-1 .5-.5 0-1 .5-.5 0-1 .5-.5 0-1 .4-.5 0-.5 .5-.5 0-.5 .5-.5 0-1 .5-.5 0-.5 .5-.5 0-.5 .5-.5 0-.5 .5-.5 0-.5 .5-.5 0-.5 .5-.5 0-.5 .9-1 0-.5 .5-.5 0-.5 1-1 0-.5 .5-.5 0-.5 1-1 0-.5 1-1 0-.5 1.5-1.5 0-.5 .2-.2 .4,.2 0,.5 .6,.5 0,.2 3-3 3-2.5 3-1.9z"/>
<path fill="#0087ff" d="M62.3,69.6l1.8-.1 1,.6 .2,.5 .3,1.5 -.4,4.5 0,2 .5,1.5 .9,1.5 1.6,1 6,1.6 2,.8 1.5,1.1 1.4,2 -4.4,24.5 -.2,2.5 -.4,.6 -2.5,17 -1,10 -.5,.5 -4.7,2 -1.4,1 -.7,1 -.3,1 .3,3 1.7,6 .2,2 -.2,1 -.4,.5 -.5,.3 -1,.1 -2-.5 -3-1.7 -2.5-2 -2.7-2.7 -.3,0 -.1,.5 -.5,.5 -.1,.5 -.5,.5 0,.5 -.3,.1 -.1-.6 -1.5-1.5 0-.5 -1-1 0-.5 -1-1 0-.5 -.5-.5 0-.5 -1-1 0-.5 -.5-.5 0-.5 -1-1 0-.5 -.5-.5 0-.5 -.5-.5 .1-.5 -.5-.5 0-.5 -.5-.5 .1-3.5 -.6-3.5 -3.7-10.5 -1-3.5 -.7-3.5 -.2-4.1 .2-3.5 .6-3 3.3-11 .6-2.5 .1-2.5 .3-.5 0-1 .5-.5 0-.5 .4-.5 0-.5 .5-.5 0-.5 .5-.5 0-.5 .5-.5 0-.5 .5-.5 0-.5 1-1 0-.5 .5-.5 0-.5 1-1 0-.5 .5-.5 0-.5 1-1 0-.5 1-1 0-.5 1.5-1.5 .1-.6 .3,.1 0,.5 .6,.5 0,.5 .6,.5 0,.2 2.5-2.4 2.5-2 2.5-1.5z"/>
<path fill="#00a8ff" d="M60.5,72.6l1.6,.1 .9,.9 .4,1 .7,4.5 1,2 .9,1 2.3,1 5.3,1.2 2.1,.7 2,1.3 1.3,1.8 -4.3,24.4 -.2,2.6 -.4,.6 -2,11.9 -1.3,9.6 -.5,5.5 -.7,.5 -5,2 -.8,.5 -1.1,1 -.5,1 -.1,2.5 .3,4.5 -.1,1.5 -.5,1 -1.2,.4 -1.5-.4 -1.5-.7 -2-1.5 -2-1.8 -1.2,1 0,.5 -.6,.5 0,.5 -.5,.5 0,.5 -.2,.1 -.1-.6 -1.5-1.5 0-.5 -1-1 0-.5 -1-1 0-.5 -.5-.5 0-.5 -1-1 0-.5 -.4-.5 0-.5 -1-1 0-.5 -.5-.5 .2-3.5 -.5-4 -1.2-4 -2.8-7.5 -1-3.5 -.9-4.5 -.2-4.6 .2-3.5 .8-4 2.9-9.5 1-3.5 .5-3.5 0-3 .5-.5 0-.5 .5-.5 0-.5 .5-.5 -.1-.5 1-1 0-.5 .5-.5 0-.5 1-1 0-.5 .5-.5 0-.5 1-1 0-.5 1-1 0-.5 1.5-1.5 .1-.6 .2,.1 0,.5 .5,.5 .1,.5 .5,.5 .1,.5 .6,.5 .2,0 1.8-1.6 2-1.4 2-1.1z"/>
<path fill="#00caff" d="M51.1,74.1l.1,.5 .5,.5 0,.5 .6,.5 0,.5 1.2,1 .1,.5 .3,0 2.2-1.7 1.5-.7 1.5-.4 1.5,.2 1,1.1 1.7,3.5 1.5,2 2.1,1 6.2,1.3 2.1,.5 2,1.1 1,1 .6,1.1 -4.1,24.3 -.2,2.7 -.5,.6 -2.9,16.9 -.8,6.1 -.4,4 -.8,.4 -4.3,1.6 -2.6,1.5 -.9,1.5 -1.2,5 -.6,1 -.9,.4 -1-.1 -1.5-.7 -2-1.4 0,.3 -.6,.5 -.1,.5 -1.1,1 -.1,.5 -.5,.5 0,.5 -.5,.5 -.1,.5 0-.5 -1.5-1.5 0-.5 -1-1 0-.5 -1-1 0-.5 -.5-.5 0-.5 -.5-.5 -.2-.5 -.8-6.5 -.9-4.5 -1.1-3.5 -3.2-8.5 -1.1-4 -.6-3.5 -.2-4.1 .2-3.5 .5-3.5 1.1-4 3.3-10.2 .9-4.8 .6-5 .5-.5 0-.5 .5-.5 0-.5 1-1 0-.5 .5-.5 0-.5 1-1 0-.5 1-1 0-.5 1.5-1.5z"/>
<path fill="#00e8ff" d="M51.1,75.1l.5,0 0,.5 .6,.5 0,.5 1.2,1 0,.5 .6,.5 .1,.5 1.5-1 1.5-.7 1.5-.3 1,.3 1,.7 3,3.8 .9,.7 2.6,.9 5.5,.9 3.1,.9 1,.5 1,.8 1,1.5 -4.1,24.5 -.1,2.5 -.5,.6 -3.4,18.9 -1,8.1 -5.5,2 -2,1 -1.1,1 -.9,2.1 -1.5,2.4 -.5,.3 -1,.3 -1-.2 -1.5-.8 -.1,.4 -.6,.5 0,.5 -.6,.5 0,.5 -1.2,1 0,.5 -.5,.1 -1.9-2.6 -1.4-3 -3.3-12 -4.2-11.5 -1.4-5.5 -.4-5.6 .3-4 .7-4 .8-3 3.3-9.7 2.8-11.3 .8-2.5 1-2 1-1.5z"/>
<path fill="#00fbf3" d="M52.3,77.1l.3,0 .6,.5 0,.5 .6,.5 .1,.5 .6,.5 .1,.3 1.5-.8 1-.3 1-.1 1,.3 1,.6 3,2.8 1,.6 2.1,.6 5.9,.9 3.1,.7 2,1.1 1,1 .4,.8 -4,24.5 -.1,2.5 -.5,.6 -2.9,15 -1.1,7 -.6,5 -6,2 -2.1,1 -1.1,1 -.9,1.5 -1.2,1.1 -1.5,.6 -1.5-.2 -.1,.5 -.6,.5 -.1,.5 -.6,.5 0,.5 -.6,.5 0,.4 -1.5-1.5 -1.5-2 -1-1.9 -1-2.5 -2.6-8 -4.6-12.5 -1.1-5 -.3-4.6 .2-4.5 .8-4 1-3.5 3.1-8.9 2.5-8.7 1-2.6 1.2-2.3 1.3-1.8z"/>
<path fill="#00fed5" d="M53,78.6l.7,0 0,.5 .6,.5 .1,.5 .7,.7 2-.7 1.5,.2 2,1 2,1.5 1.5,.6 2.5,.6 6,.7 2.6,.6 2,1.1 1,1 .3,.7 -3.9,24.5 -.1,2.5 -.5,.6 -.1,1 -2.8,13.5 -1.4,8 -.6,4.5 -6.5,2 -2.2,1 -2.3,2.2 -1,.5 -1,.1 -1.3,1.2 0,.5 -.6,.5 -.1,.5 -1.5-.9 -1.5-1.6 -1.5-2.4 -1.2-2.6 -6.9-18.5 -1.2-5 -.4-4.5 .2-5.1 .9-4.5 6.4-19 1.2-2.9 1.2-2.1 1.3-1.8z"/>
<path fill="#00ffb8" d="M53.3,80.1l.8-.5 .1,.5 .6,.5 .1,.5 .7,.5 1.5-.3 1.5,.1 2,.8 1.3,.9 1.7,.6 2.1,.4 6.4,.7 2.6,.5 1.5,.6 1,.6 1,1.1 .2,.5 -3.8,24.5 -.1,2.5 -.5,.6 -.1,1 -2.8,12.6 -1.5,7.8 -.8,5.6 -5.5,1.5 -2.9,1 -1.7,1 -1.1,.9 -1,.2 -.1,.4 -.6,.5 -.1,.5 -1.2,.7 -1-.3 -1-.7 -1.5-1.5 -1.5-2.4 -1.3-2.8 -5-12.5 -1.5-4 -1.1-4.5 -.4-5 .2-4.6 .9-5 1.1-3.5 4.8-13.5 1.3-3.1 1.5-2.6 1.5-1.9z"/>
<path fill="#00ff95" d="M53.8,81.6l.8-.4 1.3,.9 .2,.5 1.5-.2 1.5,.3 2.1,.9 1.9,.5 8.5,.7 2.6,.5 2.5,1 1,.8 .6,1 -3.7,24.5 -.1,2.5 -.5,.6 -.1,1 -3.3,14.2 -1.3,6.8 -.7,4.5 -.5,.5 -5.9,1.5 -3.3,1 -1.3,.5 -.6,.5 -.1,.5 -.7,.5 -.1,.3 -.5,.1 -1.5-.2 -1-.5 -1-.7 -1.5-1.9 -1.8-3.1 -4.9-11.5 -1.5-4 -1.1-4.5 -.6-5 .2-5.1 1-5 1.4-4.5 3.6-9.5 1.7-4.2 1.5-2.7 2-2.4z"/>
<path fill="#00ff73" d="M54.9,82.6l.7-.2 .8,.7 .2,.4 1.5-.1 4,1 8.5,.5 3.6,.5 2.5,1 1,.8 .5,.9 -3.7,24.5 -.1,2.5 -.4,.6 -.1,1 -3.3,13.5 -1.5,7 -.8,5 -.5,.5 -.7,.2 -9,1.9 -.7,.4 -.3,.5 -.5,.4 -1,.2 -2-.5 -1.5-1.1 -1.5-1.8 -1.6-2.7 -4.7-10.5 -1.5-4 -1.3-5.5 -.4-5.1 .2-4.5 1.1-5 1.5-4.5 4-10 1.7-3.5 1.5-2.2 2-1.9z"/>
<path fill="#00ff52" d="M55.7,83.6l.4-.1 1,.8 3,.4 10,.4 3.5,.3 1.6,.4 1.5,.7 1,.9 .4,.7 -3.6,24.5 -.1,2.5 -.4,.6 -.1,1 -3.8,15 -1.4,6.5 -.6,4 -.5,.3 -1,.3 -8,1.4 -1,.5 -2.5,.5 -1-.2 -1-.6 -1.4-1.2 -1.1-1.5 -2-3.7 -3.2-6.8 -1.9-4.5 -1.2-4 -.7-4 -.2-4.1 .4-4.5 1.1-5 1.4-4 4.2-10 1.6-3 1.5-2 2-1.7z"/>
<path fill="#00ff32" d="M55.5,84.6l1.1-.2 1,.8 11.5,0 4,.3 1.6,.3 1.5,.6 1.5,1.1 .2,.6 -3.4,24.5 -.1,2.5 -.4,.6 -.1,1 -3.8,14.5 -1.5,6.5 -.8,4.5 -.7,.4 -2,.4 -6.5,.7 -.5,.3 -2,.2 -1.5-.2 -1-.4 -1-.7 -1-1.1 -2-3 -2.7-5.1 -2.5-5.5 -1.5-4.5 -.9-4.5 -.2-4.1 .3-5 1.2-5 1.6-4.5 3.5-8 1.5-3 1.7-2.4 2-1.7z"/>
<path fill="#00ff14" d="M55.3,85.6l1.8-.2 .5,.4 .5,0 9.5-.5 5,.2 2.1,.4 1.5,.6 1.5,1.1 .1,.5 -3.3,24.5 -.1,2.5 -.4,.6 -.2,1 -4.2,15.5 -1.4,6 -.7,4 -.9,.3 -4,.6 -4.5,.5 -1.5,0 -2-.4 -2-1.3 -1.1-1.2 -1.4-2 -3.3-6 -2.4-5.5 -1.7-5.5 -.6-4.5 .1-5.1 .7-4.5 1.4-4.5 2.9-7 3.4-6.5 1-1.5 1-1 1.5-1.1z"/>
<path fill="#0eff00" d="M65.5,85.6l5.1-.1 3.6,.4 1.5,.4 1,.6 .9,.7 .1,.5 -3.2,24.5 -.1,2.5 -.5,.6 -.1,1 -4.2,15 -1.5,6 -.8,4.5 -1.2,.3 -3.5,.5 -4,.2 -2-.1 -1.5-.4 -1.5-.8 -1.4-1.2 -1.1-1.3 -2.7-4.2 -3.1-6.5 -1.6-4.5 -1-4.5 -.3-5.1 .3-4.5 1.2-5 1.9-5 3.6-7.5 1.6-2.5 1.1-1.4 2-1.6 2-.8 1.5-.2 1,.2z"/>
<path fill="#38ff00" d="M69.6,85.6l3,.1 2.6,.5 2,1.1 .4,.8 -3.1,24.5 -.1,2.5 -.5,.6 -.1,1 -4.2,14.5 -1.6,6 -1.1,5 -2.3,.4 -3,.2 -3,.1 -2-.3 -1.5-.4 -1.5-.9 -1.2-1.1 -1.3-1.5 -3.1-5 -3.1-6.5 -1.5-5 -.7-4.5 0-5.1 .7-4.5 1.5-5 2.9-6.5 2.8-5.1 1-1.4 1.5-1.5 2-1.2 2.5-.8 1,.1 6.5-.9z"/>
<path fill="#63ff00" d="M64.3,86.1l5.3-.4 4,.3 2.6,.7 1.2,.9 .1,.5 -3,24 -.1,3 -.5,.6 -.1,1 -4.7,15.5 -1.4,5.5 -.9,4 -.3,.5 -1.9,.3 -6,.1 -3-.7 -1.5-.8 -1.5-1.3 -2.5-3.1 -2.6-4.5 -2.3-5 -1.5-5 -.7-5 0-5.1 .9-5 1.9-5.5 3.1-6.5 2.7-4.2 2-2 2.5-1.3 2-.6 .5,.1z"/>
<path fill="#8dff00" d="M65.8,86.1l3.8-.3 3.5,.2 2.1,.4 1,.4 1.1,.8 .1,.5 -2.9,24 -.1,3 -.5,.6 -.1,1 -4.7,15 -1.5,5.5 -1,4.5 -.5,.4 -2,.3 -5.5,0 -3-.9 -1.5-.9 -1.5-1.3 -1.4-1.6 -1.4-2 -2.8-5 -2.1-5 -1.2-4.5 -.5-5 .2-5.1 1-5 1.9-5 2.9-6 1.4-2.2 1.5-1.9 2-1.9 2.5-1.3 1.5-.4z"/>
<path fill="#b8ff00" d="M67.3,86.1l3.8-.1 3.1,.2 2,.7 1,.7 .1,.5 -2.8,24 -.1,3 -.5,.6 -.1,1 -5,15.5 -1.6,5.5 -.9,4 -.7,.4 -2,.2 -5-.2 -1.5-.3 -1.5-.6 -1.5-1 -1.5-1.3 -2.8-3.7 -3-5.5 -2-5 -1-4.5 -.4-5.1 .4-5 1-4.5 2.2-5.5 2.9-5.5 1.3-2 1.4-1.6 2-1.7 3-1.4 5-1.2z"/>
<path fill="#e2ff00" d="M69,86.1l3.1,0 2.6,.3 2,.9 .4,.3 .1,.5 -2.7,24 -.1,3 -.5,.6 -.2,1 -5.1,15.5 -1.6,5.5 -.9,4 -1,.3 -2,.1 -4.5-.2 -1.5-.4 -1.5-.7 -1.7-1.1 -1.6-1.5 -2.9-4 -2.6-5 -1.9-5 -1-5 -.3-5.1 .6-5 1.2-4.5 2.3-5.5 2.8-5 2.6-3.1 2.5-1.9 3-1.2 5-1.1z"/>
<path fill="#fff400" d="M65.4,86.6l3.7-.4 3.5,0 2.6,.5 1.8,.9 .1,.5 -2.6,24 -.2,3 -.4,.6 -.2,1 -5.3,15.5 -1.6,5.5 -.9,4 -.8,.2 -2,.1 -4-.2 -3-1 -1.5-.9 -1.5-1.3 -2.8-3.4 -2.6-4.5 -1.9-4.5 -1.4-5 -.5-4.5 .1-5.1 1-5 1.8-5 2.5-5 2.8-4.1 2.5-2.3 2.5-1.5 1.5-.5 3-.8z"/>
<path fill="#ffd100" d="M66.3,86.6l3.8-.3 3.5,.1 2.6,.8 .7,.4 .1,.5 -2.6,24 -.1,3 -.4,.6 -.2,1 -5.4,15.5 -1.7,5.5 -1,4 -2,.2 -2.5-.1 -2-.2 -1.5-.4 -1.5-.7 -1.5-1 -1.5-1.3 -1.4-1.5 -2.6-4 -2.7-5.5 -1.6-5 -.7-5 .1-5.1 .9-5 1.7-5 2.8-5.5 2.8-4 2.2-2.1 3-1.7 4.5-1.4z"/>
<path fill="#ffad00" d="M67.2,86.6l2.9-.2 3,0 2.1,.4 1.6,.8 .1,.5 -2.5,24 -.1,3 -.4,.6 -.2,1 -5.4,15 -3.1,10 -2.6,.1 -3.5-.4 -1.5-.4 -1.5-.7 -1.5-1 -1.5-1.4 -2.9-3.7 -2.5-4.5 -1.8-4.5 -1.3-5 -.3-5.1 .3-4.5 1.1-5 1.8-4.5 2.7-5 2.5-3.5 2.4-2.1 3-1.6 5-1.6z"/>
<path fill="#ff8800" d="M68.1,86.6l2.5-.2 2.5,.1 2.1,.4 1.5,.7 0,.5 -2.3,24 -.1,3 -.5,.6 -.1,1 -5.8,15.5 -1.6,5 -1.1,4 -.6,.4 -.5,.1 -4.5-.4 -2-.5 -1.5-.8 -2.9-2.3 -2.8-3.5 -2.5-4.5 -2-5 -1.1-4.5 -.4-5.1 .4-4.5 1-4.5 1.9-5 2.7-5 2.7-3.5 2.5-2.1 3-1.6 5-1.5z"/>
<path fill="#ff6100" d="M69.1,86.6l2.5-.1 2,.1 1.6,.3 1.3,.7 .1,.5 -2.2,24 -.1,3 -.5,.6 -.2,1 -5.8,15.5 -1.7,5 -1.1,4 -.4,.2 -1,.2 -4-.4 -3-1.1 -1.5-1 -1.6-1.4 -2.8-3.5 -2.8-5 -2-5 -1-4.5 -.3-5.1 .5-4.5 1.2-5 2.1-5 2.6-4.5 2.6-3.2 2.5-2 3-1.5 5-1.5z"/>
<path fill="#ff3900" d="M70.4,86.6l2.2,0 2.1,.3 1.7,.7 .1,.5 -2.1,24 -.1,3 -.5,.6 -.2,.9 -6.2,16.1 -1.5,4.5 -1.1,4 -.7,.3 -1,0 -3.5-.5 -3-1.1 -1.7-1.2 -1.6-1.5 -1.3-1.5 -1.8-2.5 -2.4-4.5 -1.8-5 -1-5 -.1-5.1 .5-4.5 1.5-5 2-4.5 2.3-4 1.4-1.8 1.5-1.5 1.5-1.2 2-1.3 3.5-1.4 4.5-1.2z"/>
<path fill="#ff1200" d="M66.7,87.1l3.4-.4 3.5,.1 2.6,.7 .1,.1 .1,.5 -2,23.5 -.1,3.5 -.5,.6 -.2,.9 -6.2,15.6 -1.7,5 -1.2,4 -.4,.2 -1.5-.1 -3.5-.5 -1.5-.6 -1.5-.8 -3-2.7 -2.7-3.5 -2.6-5 -1.8-5 -.9-5 0-5.1 .7-5 1.6-5 2.5-5 2.7-3.9 2.5-2.5 3-1.9 4-1.6z"/>
<path fill="#ff0000" d="M67.3,87.1l2.8-.3 2.5-.1 2.1,.3 1.5,.6 -1.8,24 -.1,3.5 -.5,.6 -.2,.9 -6.6,16.1 -1.6,4.5 -1.1,4 -1.7,0 -3.5-.6 -1.5-.5 -1.5-.9 -3-2.7 -2.8-3.8 -2.3-4.5 -1.8-5 -.9-5 0-5.6 .8-5 1.7-5 2.6-5 2.5-3.5 2.6-2.5 3.1-1.9 4-1.5z"/>
<path fill="#ff0000" d="M67.9,87.1l4.7-.3 2.1,.3 1.4,.5 -1.8,24 0,3.5 -.5,.6 -.2,.9 -6.7,16.1 -1.7,4.5 -1.1,3.7 -.5,.3 -1.5-.1 -3.5-.8 -1.5-.7 -1.4-.9 -1.6-1.4 -1.5-1.6 -2.7-4 -2.4-5 -1.5-5 -.6-4.5 .1-5.1 .8-4.5 1.7-5 2.3-4.5 2.8-4 2.7-2.5 3.3-1.9 4.5-1.7z"/>
<path fill="#ffffff" d="M69.2,87.1l3.9-.1 1.6,.2 1.2,.4 -1.6,23.5 -.1,4 -.4,.6 -.2,.8 -7.1,16.2 -1.7,4.5 -1.1,3.5 -.6,.2 -1,0 -3.5-.9 -1.5-.7 -1.5-1.1 -1.7-1.5 -1.7-2 -2.5-4 -2.3-5 -1.2-4.5 -.5-5 .2-5.1 1-4.5 1.9-5 2.5-4.5 2.8-3.5 2.5-2.1 3-1.7 5-1.8z"/>
<ellipse cx="74.15" cy="115.40" rx="26.82" ry="27.82" fill="#000"/>
<path fill="#000" d="M74.2,89.8 76.7,90.1 79.3,90.4 81.9,90.7 84.5,91.0 87.1,91.3 89.7,91.1 92.3,90.0 94.9,92.0 97.5,90.9 100.1,91.5 102.7,89.7 105.3,90.9 107.9,89.0 110.5,89.2 113.1,85.6 115.7,84.4 118.3,80.2 120.9,78.0 123.5,73.4 126.1,71.8 128.7,67.2 131.2,64.8 133.8,62.7 136.4,63.7 139.0,61.8 141.6,62.3 144.2,60.9 146.8,62.5 149.4,61.0 152.0,61.6 151.4,178.4 148.8,179.1 146.2,177.8 143.6,178.5 141.0,176.1 138.4,176.7 135.8,175.3 133.2,176.0 130.6,173.5 128.0,174.1 125.4,172.7 122.8,173.2 120.2,170.7 117.7,171.3 115.1,169.7 112.5,170.2 109.9,167.6 107.3,167.9 104.7,166.1 102.1,166.4 99.5,165.3 96.9,164.3 94.3,163.2 91.7,162.0 89.1,160.9 86.5,159.7 83.9,158.4 81.3,157.1 78.7,155.8 76.1,154.4 73.5,152.9 70.9,151.4 68.3,149.8 65.7,148.1 63.2,146.3 60.6,144.4 59.3,143.4 58.1,142.4 56.4,140.9 54.4,139.1 51.9,136.7 50.7,135.3 49.4,133.8 48.0,131.9Z"/>
<g fill="none">
<path d="M159.8,233.4 154.5,230.8 149.2,228.2 144.2,225.7 139.2,223.1 134.3,220.5 129.6,218.0 124.9,215.4 120.4,212.8 116.0,210.3 111.8,207.7 107.6,205.2 103.6,202.6 99.6,200.0 95.8,197.5 92.1,194.9 88.6,192.3 85.1,189.8 81.8,187.2 78.5,184.6 75.4,182.1 72.5,179.5 69.6,176.9 66.8,174.4 64.2,171.8 61.7,169.3 59.3,166.7 57.0,164.1 54.8,161.6 52.8,159.0 50.8,156.4 49.0,153.9 47.3,151.3 45.7,148.7 44.3,146.2 42.9,143.6 41.7,141.0 40.6,138.5 39.6,135.9 38.7,133.4 37.9,130.8 37.3,128.2 36.8,125.7 36.4,123.1 36.1,120.5 35.9,118.0 35.8,115.4 35.9,112.8 36.1,110.3 36.4,107.7 36.8,105.1 37.3,102.6 37.9,100.0 38.7,97.4 39.6,94.9 40.6,92.3 41.7,89.8 42.9,87.2 44.3,84.6 45.7,82.1 47.3,79.5 49.0,76.9 50.8,74.4 52.8,71.8 54.8,69.2 57.0,66.7 59.3,64.1 61.7,61.5 64.2,59.0 66.8,56.4 69.6,53.9 72.5,51.3 75.4,48.7 78.5,46.2 81.8,43.6 85.1,41.0 88.6,38.5 92.1,35.9 95.8,33.3 99.6,30.8 103.6,28.2 107.6,25.6 111.8,23.1 116.0,20.5 120.4,18.0 124.9,15.4 129.6,12.8 134.3,10.3 139.2,7.7 144.2,5.1 149.2,2.6 154.5,0.0 159.8,-2.6" stroke="#f2f2f2" stroke-width="1.1"/>
<path d="M155.7,47.4 151.9,48.4 148.1,49.4 144.4,50.4 140.8,51.4 137.3,52.5 133.8,53.5 130.3,54.6 127.0,55.6 123.7,56.7 120.4,57.7 117.3,58.8 114.2,59.9 111.1,61.0 108.2,62.1 105.3,63.2 102.4,64.3 99.6,65.4 96.9,66.5 94.3,67.6 91.7,68.8 89.2,69.9 86.7,71.0 84.3,72.2 82.0,73.3 79.8,74.5 77.6,75.6 75.5,76.8 73.4,78.0 71.4,79.1 69.5,80.3 67.6,81.5 65.8,82.7 64.1,83.8 62.4,85.0 60.8,86.2 59.3,87.4 57.8,88.6 56.4,89.8 55.1,91.0 53.8,92.2 52.6,93.4 51.5,94.6 50.4,95.8 49.4,97.0 48.4,98.3 47.5,99.5 46.7,100.7 46.0,101.9 45.3,103.1 44.7,104.4 44.1,105.6 43.6,106.8 43.2,108.0 42.8,109.3 42.5,110.5 42.3,111.7 42.1,112.9 42.1,114.2 42.0,115.4 42.1,116.6 42.1,117.9 42.3,119.1 42.5,120.3 42.8,121.5 43.2,122.8 43.6,124.0 44.1,125.2 44.7,126.4 45.3,127.7 46.0,128.9 46.7,130.1 47.5,131.3 48.4,132.5 49.4,133.8 50.4,135.0 51.5,136.2 52.6,137.4 53.8,138.6 55.1,139.8 56.4,141.0 57.8,142.2 59.3,143.4 60.8,144.6 62.4,145.8 64.1,147.0 65.8,148.1 67.6,149.3 69.5,150.5 71.4,151.7 73.4,152.8 75.5,154.0 77.6,155.2 79.8,156.3 82.0,157.5 84.3,158.6 86.7,159.8 89.2,160.9 91.7,162.0 94.3,163.2 96.9,164.3 99.6,165.4 102.4,166.5 105.3,167.6 108.2,168.7 111.1,169.8 114.2,170.9 117.3,172.0 120.4,173.1 123.7,174.1 127.0,175.2 130.3,176.2 133.8,177.3 137.3,178.3 140.8,179.4 144.4,180.4 148.1,181.4 151.9,182.4 155.7,183.4" stroke="#e0a000" stroke-width="1.2"/>
<ellipse cx="74.15" cy="115.40" rx="40.29" ry="41.80" stroke="#e4e4e4" stroke-width="1.1" stroke-dasharray="1 2.58" stroke-linecap="butt"/>
<ellipse cx="74.15" cy="115.40" rx="24.72" ry="25.64" stroke="#d8520a" stroke-width="1.1"/>
</g>
</g>
<text class="n" transform="translate(8.0,18.0) scale(1,1.16)" text-anchor="start">H</text>
<g>
<text class="t" transform="translate(-3.0,17.0) scale(1,1.16)" text-anchor="end">4</text>
<text class="t" transform="translate(-3.0,68.3) scale(1,1.16)" text-anchor="end">2</text>
<text class="t" transform="translate(-3.0,119.6) scale(1,1.16)" text-anchor="end">0</text>
<text class="t" transform="translate(-3.0,170.9) scale(1,1.16)" text-anchor="end">-2</text>
<text class="t" transform="translate(-3.0,222.2) scale(1,1.16)" text-anchor="end">-4</text>
<text class="t" transform="translate(0.1,245.0) scale(1,1.16)" text-anchor="middle">-3</text>
<text class="t" transform="translate(24.8,245.0) scale(1,1.16)" text-anchor="middle">-2</text>
<text class="t" transform="translate(49.5,245.0) scale(1,1.16)" text-anchor="middle">-1</text>
<text class="t" transform="translate(74.2,245.0) scale(1,1.16)" text-anchor="middle">0</text>
<text class="t" transform="translate(98.9,245.0) scale(1,1.16)" text-anchor="middle">1</text>
<text class="t" transform="translate(123.6,245.0) scale(1,1.16)" text-anchor="middle">2</text>
<text class="t" transform="translate(148.3,245.0) scale(1,1.16)" text-anchor="middle">3</text>
<text class="l" transform="translate(74.2,257.1) scale(1,1.16)" text-anchor="middle">X (R<tspan dy="2" font-size="6.3" font-style="italic" stroke-width="0">M</tspan><tspan dy="-2">)</tspan></text>
<text class="l" transform="translate(-20.4,115.9) rotate(-90) scale(1,1.16)" text-anchor="middle">Z (R<tspan dy="2" font-size="6.3" font-style="italic" stroke-width="0">M</tspan><tspan dy="-2">)</tspan></text>
</g>
<g>
<rect x="161.4" y="30.1" width="14.4" height="200.7" fill="url(#cb)"/>
<rect x="161.4" y="30.1" width="14.4" height="1" fill="#e8e8e8"/>
<rect x="161.4" y="30.1" width="14.4" height="200.7" fill="none" stroke="#999" stroke-width="0.5"/>
<path d="M161.4,210.7h1.6M175.8,210.7h-1.6" stroke="#000" stroke-opacity=".45" stroke-width=".7"/>
<path d="M161.4,190.7h1.6M175.8,190.7h-1.6" stroke="#000" stroke-opacity=".45" stroke-width=".7"/>
<path d="M161.4,170.6h1.6M175.8,170.6h-1.6" stroke="#000" stroke-opacity=".45" stroke-width=".7"/>
<path d="M161.4,150.5h1.6M175.8,150.5h-1.6" stroke="#000" stroke-opacity=".45" stroke-width=".7"/>
<path d="M161.4,130.4h1.6M175.8,130.4h-1.6" stroke="#000" stroke-opacity=".45" stroke-width=".7"/>
<path d="M161.4,110.4h1.6M175.8,110.4h-1.6" stroke="#000" stroke-opacity=".45" stroke-width=".7"/>
<path d="M161.4,90.3h1.6M175.8,90.3h-1.6" stroke="#000" stroke-opacity=".45" stroke-width=".7"/>
<path d="M161.4,70.2h1.6M175.8,70.2h-1.6" stroke="#000" stroke-opacity=".45" stroke-width=".7"/>
<path d="M161.4,50.2h1.6M175.8,50.2h-1.6" stroke="#000" stroke-opacity=".45" stroke-width=".7"/>
<text class="t" transform="translate(179.2,230.9) scale(1,1.16)" text-anchor="start">0.0</text>
<text class="t" transform="translate(179.2,194.2) scale(1,1.16)" text-anchor="start">2.0</text>
<text class="t" transform="translate(179.2,154.0) scale(1,1.16)" text-anchor="start">4.0</text>
<text class="t" transform="translate(179.2,113.9) scale(1,1.16)" text-anchor="start">6.0</text>
<text class="t" transform="translate(179.2,73.7) scale(1,1.16)" text-anchor="start">8.0</text>
<text class="t" transform="translate(179.2,37.0) scale(1,1.16)" text-anchor="start">10.0</text>
<text class="u" transform="translate(176.9,12.6) scale(1,1.16)" text-anchor="middle">•10<tspan dy="-5" font-size="8.3" stroke-width=".1">-15</tspan></text>
<text class="u" transform="translate(150.0,21.6) scale(1,1.16)" text-anchor="start">erg cm<tspan dy="-5" font-size="8.3" stroke-width=".1">-3</tspan><tspan dy="5">s</tspan><tspan dy="-5" font-size="8.3" stroke-width=".1">-1</tspan></text>
</g>
</g>
<g transform="translate(271.5,0.3)">
<rect x="0" y="-1.0" width="148.3" height="231.8" fill="#000"/>
<g clip-path="url(#pc)">
<path fill="#110014" d="M71,81.1l3.2-.1 3.5,.3 4,1 2.5,1 3,1.7 2.5,2.1 1.6,2 .3,1 -.1,.5 -.8,.3 -1-.1 -7-1.7 -3.1-.5 -5.4-.2 -2.7,.2 -2.7,.5 -3.3,1 -3.3,1.5 -3,2 -2.6,2.3 -2.5,3 -2,3.2 -1.5,3.3 -1,3.1 -.5,2.4 -.3,4.8 .3,4.5 1,4.1 1,2.6 1.5,3 1.5,2.3 2,2.4 2.1,2.1 2.5,2 2.4,1.5 4.4,2 3.5,1 2.1,.4 3.1,.3 5.5,.3 .7,.5 -1,1 -3.2,1.4 -3.5,.7 -3.1,.2 -3-.1 -3-.5 -3.5-1 -2.5-1 -2.5-1.3 -2.5-1.6 -2.5-2.1 -1.8-1.7 -2.6-3 -1.4-2 -1.4-2.5 -1.6-3.5 -1.5-5 -.6-3 -.2-4 .4-6.1 .9-4 1.1-3 2.4-5 2.1-3 1.6-2 2.1-2.1 3-2.6 3-2.1 2.5-1.5 5-2.1 3.5-.8z"/>
<path fill="#1c0021" d="M70.6,81.6l3-.2 3.1,.3 3,.6 2,.6 2.5,1.1 2.6,1.6 1.6,1.5 .6,1 .1,.5 -.3,.5 -1.1,.2 -8.5-1.3 -3.5-.1 -3.9,.2 -2.9,.5 -3.4,1 -2.3,1 -2.7,1.5 -2.6,2 -2.3,2.3 -2.5,3.2 -1.5,2.6 -1.5,3.4 -1,3.3 -.5,2.7 -.2,3.5 .2,4.4 .5,2.7 1,3.3 1,2.4 1.5,2.8 2,2.9 1.5,1.7 2.5,2.4 1.9,1.5 4.3,2.5 4.8,1.9 6.5,1.6 .6,.5 -.4,.5 -1.6,.6 -2.1,.3 -2.5,.1 -3-.2 -2.5-.5 -2.5-.7 -3-1.3 -3-1.6 -2-1.4 -2-1.7 -2.1-2.1 -2.1-2.5 -2-3 -1.6-3 -1-2.5 -1.4-5.5 -.5-3.5 0-2.6 .4-5.5 .5-2.5 1.1-3.5 2.3-5 1.6-2.5 1.9-2.5 2.4-2.5 2.5-2.3 5-3.4 3-1.5 2.5-1 3.5-.9z"/>
<path fill="#280030" d="M69.2,82.1l2.4-.3 3.1,0 3.5,.5 2,.5 3,1.2 2,1.1 1.7,1.5 .5,1 -.2,.6 -1,.2 -9.5-.8 -3.1,0 -3.7,.5 -2.2,.5 -3,1 -2.2,1 -2.5,1.5 -2.5,2 -2.9,3 -1.5,2 -2,3.5 -1,2.3 -1,3 -.7,3.7 -.3,4.1 .5,5.4 1,3.8 1.5,3.7 2,3.4 2,2.6 1.5,1.7 4,3.4 4.3,2.5 7.4,3 .6,.5 -.8,.6 -3,.3 -2.5-.2 -2.5-.4 -3-1 -2.5-1.1 -2.5-1.4 -2-1.4 -2-1.7 -2.2-2.2 -2-2.5 -1.7-2.5 -1.3-2.5 -1.1-2.5 -1-3 -.6-2.5 -.4-3 -.2-3.6 .3-4.5 .5-2.5 .9-3.5 1-2.5 1.4-3 1.6-2.5 1.9-2.5 1.9-2.1 2-1.9 2-1.7 3-2.1 2.5-1.4 3.5-1.5 3-.9z"/>
<path fill="#34003f" d="M71.1,82.1l2.5-.1 2.6,.2 4.5,1 2,.9 1.7,1 1.2,1 .5,1 -.3,.5 -1.1,.2 -9-.5 -4.1,.3 -2.5,.4 -2.3,.6 -2.7,1 -2.1,1 -2.4,1.5 -2.5,2 -2,2.1 -2,2.6 -1.5,2.4 -1.5,3.1 -1,2.9 -.5,1.9 -.6,4.5 0,4.6 .6,3.8 1.5,4.8 2,4 3,4.2 2,2.1 2,1.8 4,2.7 6.8,3.6 .1,.5 -.4,.1 -2.5,.2 -2.5-.3 -3-.9 -2.5-1 -2.5-1.3 -2.5-1.7 -2-1.7 -3.6-3.9 -1.7-2.5 -1.4-2.5 -2.1-5 -.9-3.5 -.4-3 -.2-2.5 .1-3.1 .4-3.5 .5-2.5 1.5-4.5 2.6-5 1.3-2 2.6-3 2.3-2.2 2.5-2.1 5-3.1 3-1.4 2.5-.8 2.5-.6z"/>
<path fill="#420053" d="M69.1,82.6l2.5-.3 2.6,0 4.5,.7 2,.6 2,1 1.4,1 .4,.5 .2,.5 -.5,.4 -1,.2 -8-.1 -5.3,.5 -2.2,.5 -3.1,1 -3.1,1.5 -2.3,1.5 -2.4,2 -2.2,2.3 -2,2.7 -1.5,2.6 -1.5,3.4 -1,3.2 -.5,2.4 -.3,2.9 0,4.6 .8,4.7 1,3.3 2,4.2 2.5,3.8 3.5,3.8 3.5,2.8 4.7,2.9 1.3,1 -.5,.5 -1.5,0 -2.5-.5 -2.5-.8 -2-1 -2.5-1.4 -2-1.5 -2.5-2.2 -3.4-4.1 -1.3-2 -1.5-3 -1.7-4.5 -1-5.5 -.2-3 .1-3.1 .8-5 .8-3 1-2.5 2.1-4 3.4-4.5 3.9-3.8 2.5-1.9 2.5-1.6 5-2.4 2-.6z"/>
<path fill="#4b0067" d="M70.9,82.6l3.8,0 4,.7 3.2,1.3 1.3,1 .2,.5 -.6,.5 -.6,.1 -8,.2 -5.4,.7 -4.7,1.5 -2.1,1 -2.5,1.5 -2.4,1.9 -2,2.1 -2,2.5 -1.5,2.3 -1.5,3 -1,2.6 -1,3.7 -.4,2.4 -.1,5.1 .5,4.3 1,3.8 1.5,3.6 2.5,4.3 2.5,3.1 3.5,3.3 4.8,3.6 .6,.5 .2,.5 -1.6,.1 -2.5-.6 -2-.8 -2.5-1.4 -2-1.4 -3.7-3.4 -2.1-2.5 -1.3-2 -1.2-2 -1.4-3 -1-3 -.6-2.5 -.6-5 .2-5.6 .9-4.5 1-3 1.1-2.5 1.3-2.5 1.7-2.5 3.2-3.7 4-3.5 3-2 2.5-1.4 2.5-1.1 2.5-.9 2.5-.6z"/>
<path fill="#50007c" d="M68.7,83.1l3.9-.4 4.1,.3 3.5,1.1 1.6,1 .4,.5 -.2,.5 -.8,.2 -8.1,.5 -5.1,.8 -3.2,1 -2.2,1 -4,2.4 -2,1.8 -2,2.1 -2,2.6 -1.5,2.5 -1.5,3.2 -1,2.9 -1,4.9 -.2,3.7 .3,4 .9,4.5 1.5,4.1 2,3.7 2.5,3.5 2.5,2.7 4.7,4 .9,1 -.6,.3 -.5-.1 -1.5-.3 -2-.8 -2.5-1.4 -2-1.5 -2-1.7 -1.9-2 -2.9-4 -2-4 -1.6-5 -.8-5.5 .1-5.1 .8-5 1.6-4.5 2.3-4.5 1.8-2.5 1.6-1.9 4-3.8 4.5-3.1 5-2.4z"/>
<path fill="#4f0092" d="M69.8,83.1l3.8-.2 3.6,.5 2,.6 1.2,.6 .6,.5 .1,.5 -1.3,.5 -7.2,.5 -5.3,1 -4.2,1.5 -2,1.1 -2.2,1.4 -1.8,1.5 -2,2 -2,2.4 -1.5,2.3 -1.5,2.9 -1,2.4 -1,3.4 -.5,2.5 -.3,4.1 .2,4.6 .6,3.1 1.5,4.7 1.5,3.1 2.5,3.9 2.5,3 4.7,4.7 -.2,.4 -.5,0 -1.5-.5 -2-.9 -2.5-1.7 -2-1.6 -3.4-3.7 -2.8-4.5 -2-5 -1.1-4.5 -.3-5.1 .3-5 1.1-4.5 2-5 2.5-4 3.2-3.8 4-3.4 4.5-3 4.5-2 3-.9z"/>
<path fill="#4700ad" d="M71.8,83.1l2.9,.1 2.4,.4 1.5,.5 1,.5 .5,.5 -.3,.5 -.6,.2 -7.6,.8 -4.9,1 -4,1.5 -3.6,2.2 -2,1.6 -1.8,1.7 -1.7,2 -1.5,2.2 -2.5,4.7 -1.5,4.6 -.8,4.5 -.1,4.1 .4,4.3 1,4.1 1.5,3.8 1.5,2.9 3,4.3 4.6,5.1 0,.5 -.6,0 -2-.8 -2-1.3 -3.5-2.9 -3.3-4 -2.5-4.5 -1.6-4.5 -.9-5 -.2-5.6 .7-5 1.6-5 2-4 2.8-4 3.9-3.9 4.5-3.4 4.5-2.4 4.5-1.6 2.5-.5z"/>
<path fill="#3400cf" d="M68.8,83.6l3.3-.3 3.1,.2 2.6,.6 .9,.5 .4,.5 -.9,.5 -7.6,.9 -4.5,1.1 -4,1.6 -3.7,2.4 -1.8,1.5 -2,2.1 -3,4.1 -1.5,2.8 -1,2.3 -1.5,5.3 -.5,3.9 0,4.1 .5,4 1,3.8 1.5,3.8 2,3.6 2,2.8 3.7,4.5 .1,.5 -.8,0 -2-1 -1.5-1.1 -3-2.7 -3-3.9 -2.3-4.3 -1.6-4.5 -.9-5 -.1-5.1 .7-4.5 1.1-4 2-4.5 2.2-3.5 3.4-3.9 4-3.3 4.5-2.8 4-1.9z"/>
<path fill="#1400ed" d="M69.8,83.6l2.8-.2 2.6,.3 1.7,.4 1,.5 .1,.5 -1.6,.5 -6.8,1 -3.5,.8 -4,1.6 -3.5,2.2 -3.5,3.2 -3,3.9 -2.5,4.6 -1.6,4.7 -.9,4.5 -.2,3.6 .3,4 .9,4.5 1,3 1.5,3.4 2,3.3 3.9,5.3 .2,.5 -.6,.1 -1.5-.8 -1.5-1 -2-1.8 -1.5-1.7 -2.7-3.8 -2.1-4.5 -1.4-5 -.6-4.5 .1-4.6 .9-5 1.6-4.5 2.1-4 2.6-3.5 3-3.1 4-3.1 4.8-2.8 3.7-1.5z"/>
<path fill="#000aff" d="M67.9,84.1l2.7-.4 2.5,0 2.8,.4 1,.5 -.1,.5 -.6,.2 -7.1,1.2 -4.5,1.3 -3.5,1.6 -3.5,2.4 -3.5,3.6 -3,4.3 -2,4.2 -1.5,4.8 -.6,3.4 -.2,3.6 .2,3.5 .6,3.5 1,3.5 1.4,3.5 1.9,3.5 3.4,5 .2,.5 -.4,.1 -1.5-.7 -1.5-1.2 -3-3.2 -2.3-3.5 -1.9-4 -1.4-5 -.5-4 0-4.6 .8-5 1.5-4.5 1.7-3.5 2.4-3.5 2.7-3 3.5-3 4.7-3 4.3-2z"/>
<path fill="#0028ff" d="M69.1,84.1l2-.2 2,0 1.3,.2 1.2,.5 -.5,.5 -6.5,1.3 -4.5,1.3 -3.5,1.7 -2.5,1.7 -3,2.9 -3,3.8 -2.5,4.6 -1.6,4.2 -.9,4.1 -.4,3.9 .1,4.1 .6,3.5 .7,2.9 1.3,3.6 2,4 2.7,4.5 0,.5 -1-.4 -1.5-1.2 -3-3.4 -2.2-3.5 -1.9-4.5 -1.1-4.5 -.4-4.5 .3-4.6 .9-4.5 1.2-3.5 2.1-4 2.6-3.6 3-3.1 3.6-2.8 5-3 3.5-1.5z"/>
<path fill="#0046ff" d="M67.7,84.6l3.9-.4 2.4,.4 -.6,.5 -5.8,1.3 -3.5,1 -3,1.4 -3,2 -3,2.9 -3,3.9 -2.5,4.5 -1.6,4 -.9,4 -.4,3.5 -.1,3.6 .4,3.5 .6,3 .9,3 1.4,3.5 2.9,5.5 .2,.5 -.4,.2 -1-.7 -1.5-1.4 -2.5-3.3 -2-3.8 -1.3-3.5 -.9-4.5 -.3-4.1 .3-4.5 .9-4 1.5-4 1.8-3.4 2.5-3.5 2.5-2.6 3.1-2.5 4.7-3 4.2-2z"/>
<path fill="#0067ff" d="M69.5,84.6l2.1,0 -.1,.5 -5.4,1.4 -4,1.3 -2,1.1 -3,2.4 -2.5,2.7 -2.7,3.6 -2,3.5 -1.5,3.5 -1,3.5 -.7,4 -.2,3.6 .2,3.5 .4,3 .9,3.5 1.5,4 2.2,4.5 .1,.5 -.2,.5 -1-.8 -1.5-1.6 -2-3 -2-4.2 -1.2-3.9 -.6-4 0-4.6 .5-4 1.1-4 1.5-3.5 2-3.5 2.2-2.7 3-2.9 4.1-2.9 5.4-3 3.9-1.5z"/>
<path fill="#0087ff" d="M56.1,91.1l.5,0 -4.2,5.5 -2.9,5 -1.8,5 -1.1,5 -.2,5.1 .5,5 1.4,5.5 2.5,6 .1,.5 -.3,.1 -1.5-1.4 -2-2.9 -1.5-3 -1-2.8 -.7-3 -.5-3 0-3.6 .2-3 .5-3 .9-3 1.1-2.6 1.5-2.9 2-2.8 2-2.3 2-1.7z"/>
<path fill="#00a8ff" d="M54.6,92.6l-.1,.5 -3.5,5.5 -2,4 -1.6,4.5 -.9,4.5 -.2,4.6 .3,4.5 1.3,5.5 2.1,6 -.4,.2 -1.5-1.7 -1.5-2.4 -1-2.2 -1-2.9 -.7-3 -.4-3 0-3.1 .2-3 .5-3 .9-2.9 1-2.5 1.5-2.8 1.5-2.3 2-2.3 2-1.8z"/>
<path fill="#00caff" d="M53,94.1l.2,0 -.1,.5 -2.9,5 -1.8,4 -1.3,4.5 -.7,4 -.2,4.1 .3,4.5 .8,4 1.8,5.8 0,.7 -1-.9 -1.5-2.4 -1-2.1 -1-3 -.6-2.6 -.4-3 0-3.1 .1-2.5 .4-2.5 .8-3 1.1-3 1-2 1.6-2.5 1.5-1.9 1.5-1.6z"/>
<path fill="#00e8ff" d="M52.1,95.1l.1,.5 -2.8,5.5 -1.4,3.5 -1,3.5 -.7,4 -.2,3.6 .2,4 .6,4 1.6,6 -.4,.1 -1-1.3 -1-1.9 -1.6-4.4 -.5-2.5 -.3-3 .1-5.1 1.1-5 1.7-4.4 2.5-4.1 1.5-1.7z"/>
<path fill="#00fbf3" d="M50.7,96.6l.4-.3 .3,.3 -2.2,4.5 -1.3,3.5 -1.1,4 -.7,4 -.1,3.6 .1,3 .7,4.5 1,4.5 0,.5 -.2,0 -1.5-2.4 -1-2.6 -.6-2 -.7-4.5 .1-5.1 .7-4.2 1.5-4.4 2-3.7 1.5-2.1z"/>
<path fill="#00fed5" d="M50,97.6l.6-.4 0,.6 -2.1,4.8 -1.2,3.5 -.8,3.5 -.5,3.5 0,5.6 .4,3.5 .9,4.5 0,.5 -.2,.3 -1.5-2.8 -1.1-3.5 -.6-4.5 .1-4.6 .6-3.8 1.5-4.6 2-3.7z"/>
<path fill="#00ffb8" d="M49.5,98.6l.1-.1 .2,.1 -.2,1 -1.6,4 -1.1,3.5 -.9,5.5 -.2,5.6 .9,7 -.1,1 -1-1.9 -.5-1.4 -.8-3.2 -.4-4 .2-4 .9-4.6 1.1-3.1 1.5-3 1-1.4z"/>
<path fill="#00ff95" d="M48.6,100.1l.3,0 -.1,.5 -1.9,6 -1.1,6 -.1,4.6 .5,6 -.1,1.3 -1-2.3 -.5-2 -.5-3.6 0-4 .5-3.3 1-3.6 1.5-3.4z"/>
<path fill="#00ff73" d="M48,101.6l.1-.1 0,.6zM47.5,102.1l.1-.1 .5,.1 -1.7,6 -.7,4 -.2,4.1 .2,5.5 -.1,.8 -.5-1.1 -.7-3.2 -.2-3.1 .1-3 .3-2.1 1-3.9 1-2.4z"/>
<path fill="#00ff52" d="M47,103.6l.1-.1 0,1.1 -.8,3 -.6,3.5 -.6,9 -.5-2 -.2-1.9 .2-5.2 1-4.3 1-2.4z"/>
<path fill="#00ff32" d="M46,106.6l.1-.4 0,1.6 -.8,4.3 -.2,3.9 -.5-.6 0-2.4 .5-3.7 .5-1.8z"/>
<ellipse cx="74.15" cy="115.40" rx="25.46" ry="26.41" fill="#000"/>
<g fill="none">
<path d="M159.8,233.4 154.5,230.8 149.2,228.2 144.2,225.7 139.2,223.1 134.3,220.5 129.6,218.0 124.9,215.4 120.4,212.8 116.0,210.3 111.8,207.7 107.6,205.2 103.6,202.6 99.6,200.0 95.8,197.5 92.1,194.9 88.6,192.3 85.1,189.8 81.8,187.2 78.5,184.6 75.4,182.1 72.5,179.5 69.6,176.9 66.8,174.4 64.2,171.8 61.7,169.3 59.3,166.7 57.0,164.1 54.8,161.6 52.8,159.0 50.8,156.4 49.0,153.9 47.3,151.3 45.7,148.7 44.3,146.2 42.9,143.6 41.7,141.0 40.6,138.5 39.6,135.9 38.7,133.4 37.9,130.8 37.3,128.2 36.8,125.7 36.4,123.1 36.1,120.5 35.9,118.0 35.8,115.4 35.9,112.8 36.1,110.3 36.4,107.7 36.8,105.1 37.3,102.6 37.9,100.0 38.7,97.4 39.6,94.9 40.6,92.3 41.7,89.8 42.9,87.2 44.3,84.6 45.7,82.1 47.3,79.5 49.0,76.9 50.8,74.4 52.8,71.8 54.8,69.2 57.0,66.7 59.3,64.1 61.7,61.5 64.2,59.0 66.8,56.4 69.6,53.9 72.5,51.3 75.4,48.7 78.5,46.2 81.8,43.6 85.1,41.0 88.6,38.5 92.1,35.9 95.8,33.3 99.6,30.8 103.6,28.2 107.6,25.6 111.8,23.1 116.0,20.5 120.4,18.0 124.9,15.4 129.6,12.8 134.3,10.3 139.2,7.7 144.2,5.1 149.2,2.6 154.5,0.0 159.8,-2.6" stroke="#f2f2f2" stroke-width="1.1"/>
<path d="M155.7,47.4 151.9,48.4 148.1,49.4 144.4,50.4 140.8,51.4 137.3,52.5 133.8,53.5 130.3,54.6 127.0,55.6 123.7,56.7 120.4,57.7 117.3,58.8 114.2,59.9 111.1,61.0 108.2,62.1 105.3,63.2 102.4,64.3 99.6,65.4 96.9,66.5 94.3,67.6 91.7,68.8 89.2,69.9 86.7,71.0 84.3,72.2 82.0,73.3 79.8,74.5 77.6,75.6 75.5,76.8 73.4,78.0 71.4,79.1 69.5,80.3 67.6,81.5 65.8,82.7 64.1,83.8 62.4,85.0 60.8,86.2 59.3,87.4 57.8,88.6 56.4,89.8 55.1,91.0 53.8,92.2 52.6,93.4 51.5,94.6 50.4,95.8 49.4,97.0 48.4,98.3 47.5,99.5 46.7,100.7 46.0,101.9 45.3,103.1 44.7,104.4 44.1,105.6 43.6,106.8 43.2,108.0 42.8,109.3 42.5,110.5 42.3,111.7 42.1,112.9 42.1,114.2 42.0,115.4 42.1,116.6 42.1,117.9 42.3,119.1 42.5,120.3 42.8,121.5 43.2,122.8 43.6,124.0 44.1,125.2 44.7,126.4 45.3,127.7 46.0,128.9 46.7,130.1 47.5,131.3 48.4,132.5 49.4,133.8 50.4,135.0 51.5,136.2 52.6,137.4 53.8,138.6 55.1,139.8 56.4,141.0 57.8,142.2 59.3,143.4 60.8,144.6 62.4,145.8 64.1,147.0 65.8,148.1 67.6,149.3 69.5,150.5 71.4,151.7 73.4,152.8 75.5,154.0 77.6,155.2 79.8,156.3 82.0,157.5 84.3,158.6 86.7,159.8 89.2,160.9 91.7,162.0 94.3,163.2 96.9,164.3 99.6,165.4 102.4,166.5 105.3,167.6 108.2,168.7 111.1,169.8 114.2,170.9 117.3,172.0 120.4,173.1 123.7,174.1 127.0,175.2 130.3,176.2 133.8,177.3 137.3,178.3 140.8,179.4 144.4,180.4 148.1,181.4 151.9,182.4 155.7,183.4" stroke="#e0a000" stroke-width="1.2"/>
<ellipse cx="74.15" cy="115.40" rx="40.29" ry="41.80" stroke="#e4e4e4" stroke-width="1.1" stroke-dasharray="1 2.58" stroke-linecap="butt"/>
<ellipse cx="74.15" cy="115.40" rx="24.72" ry="25.64" stroke="#d8520a" stroke-width="1.1"/>
</g>
</g>
<text class="n" transform="translate(8.0,18.0) scale(1,1.16)" text-anchor="start">He</text>
<g>
<text class="t" transform="translate(-3.0,17.0) scale(1,1.16)" text-anchor="end">4</text>
<text class="t" transform="translate(-3.0,68.3) scale(1,1.16)" text-anchor="end">2</text>
<text class="t" transform="translate(-3.0,119.6) scale(1,1.16)" text-anchor="end">0</text>
<text class="t" transform="translate(-3.0,170.9) scale(1,1.16)" text-anchor="end">-2</text>
<text class="t" transform="translate(-3.0,222.2) scale(1,1.16)" text-anchor="end">-4</text>
<text class="t" transform="translate(0.1,245.0) scale(1,1.16)" text-anchor="middle">-3</text>
<text class="t" transform="translate(24.8,245.0) scale(1,1.16)" text-anchor="middle">-2</text>
<text class="t" transform="translate(49.5,245.0) scale(1,1.16)" text-anchor="middle">-1</text>
<text class="t" transform="translate(74.2,245.0) scale(1,1.16)" text-anchor="middle">0</text>
<text class="t" transform="translate(98.9,245.0) scale(1,1.16)" text-anchor="middle">1</text>
<text class="t" transform="translate(123.6,245.0) scale(1,1.16)" text-anchor="middle">2</text>
<text class="t" transform="translate(148.3,245.0) scale(1,1.16)" text-anchor="middle">3</text>
<text class="l" transform="translate(74.2,257.1) scale(1,1.16)" text-anchor="middle">X (R<tspan dy="2" font-size="6.3" font-style="italic" stroke-width="0">M</tspan><tspan dy="-2">)</tspan></text>
<text class="l" transform="translate(-20.4,115.9) rotate(-90) scale(1,1.16)" text-anchor="middle">Z (R<tspan dy="2" font-size="6.3" font-style="italic" stroke-width="0">M</tspan><tspan dy="-2">)</tspan></text>
</g>
<g>
<rect x="161.4" y="30.1" width="14.4" height="200.7" fill="url(#cb)"/>
<rect x="161.4" y="30.1" width="14.4" height="1" fill="#e8e8e8"/>
<rect x="161.4" y="30.1" width="14.4" height="200.7" fill="none" stroke="#999" stroke-width="0.5"/>
<path d="M161.4,210.7h1.6M175.8,210.7h-1.6" stroke="#000" stroke-opacity=".45" stroke-width=".7"/>
<path d="M161.4,190.7h1.6M175.8,190.7h-1.6" stroke="#000" stroke-opacity=".45" stroke-width=".7"/>
<path d="M161.4,170.6h1.6M175.8,170.6h-1.6" stroke="#000" stroke-opacity=".45" stroke-width=".7"/>
<path d="M161.4,150.5h1.6M175.8,150.5h-1.6" stroke="#000" stroke-opacity=".45" stroke-width=".7"/>
<path d="M161.4,130.4h1.6M175.8,130.4h-1.6" stroke="#000" stroke-opacity=".45" stroke-width=".7"/>
<path d="M161.4,110.4h1.6M175.8,110.4h-1.6" stroke="#000" stroke-opacity=".45" stroke-width=".7"/>
<path d="M161.4,90.3h1.6M175.8,90.3h-1.6" stroke="#000" stroke-opacity=".45" stroke-width=".7"/>
<path d="M161.4,70.2h1.6M175.8,70.2h-1.6" stroke="#000" stroke-opacity=".45" stroke-width=".7"/>
<path d="M161.4,50.2h1.6M175.8,50.2h-1.6" stroke="#000" stroke-opacity=".45" stroke-width=".7"/>
<text class="t" transform="translate(179.2,230.9) scale(1,1.16)" text-anchor="start">0.0</text>
<text class="t" transform="translate(179.2,194.2) scale(1,1.16)" text-anchor="start">2.0</text>
<text class="t" transform="translate(179.2,154.0) scale(1,1.16)" text-anchor="start">4.0</text>
<text class="t" transform="translate(179.2,113.9) scale(1,1.16)" text-anchor="start">6.0</text>
<text class="t" transform="translate(179.2,73.7) scale(1,1.16)" text-anchor="start">8.0</text>
<text class="t" transform="translate(179.2,37.0) scale(1,1.16)" text-anchor="start">10.0</text>
<text class="u" transform="translate(176.9,12.6) scale(1,1.16)" text-anchor="middle">•10<tspan dy="-5" font-size="8.3" stroke-width=".1">-15</tspan></text>
<text class="u" transform="translate(150.0,21.6) scale(1,1.16)" text-anchor="start">erg cm<tspan dy="-5" font-size="8.3" stroke-width=".1">-3</tspan><tspan dy="5">s</tspan><tspan dy="-5" font-size="8.3" stroke-width=".1">-1</tspan></text>
</g>
</g>
<g transform="translate(514.0,0.3)">
<rect x="0" y="-1.0" width="148.3" height="231.8" fill="#000"/>
<g clip-path="url(#pc)">
<path fill="#110014" d="M62.6,66.6l5-.4 4.5,.4 2.6,.7 1.9,.8 1.7,1 1.2,1 1.2,1.5 .6,1.5 .1,1.5 -.2,2.5 .4,1.5 1.9,2 6.2,5.1 3.1,3.4 1.1,1.5 1.1,2 1.3,3 .4,2 -.1,1.5 -.3,.5 -21.6,15.5 -.1,6.6 1.5,22 -.4,2.3 -1.3,3.2 0,1 .5,1 .8,.8 4.1,3.2 .9,1.5 .1,1.5 -.4,1 -.6,1 -1,1 -1.6,1.1 -3.6,1.5 -4.5,.7 -4.5,0 -5-1 -2.5-.8 -2.5-1.1 -1.5-.9 -1-1 -.1-.5 -1.5-1.5 -.1-.5 -1.5-1.5 0-.5 -1-1 0-.5 -1-1 -.1-.5 -.9-1 -.1-.5 -1-1 0-.5 -.5-.5 0-.5 -.5-.5 0-.5 -1-1 -.1-.5 -.4-.5 -.1-.5 -.5-.5 0-.5 -.5-.5 -.1-.5 -.4-.5 -.1-.5 -3.2-4.5 -2-3.5 -1.6-3.5 -1.4-4 -.8-3 -.5-4 -.1-3.5 .3-3.6 .4-3 .6-2 1.9-4.5 4.4-8.7 .1-.8 1-1.5 .1-1 1-1.5 0-.5 .5-.5 0-.5 .5-.5 0-.5 .5-.5 .1-.5 .4-.5 .1-.5 .9-1 0-.5 .5-.5 .1-.5 .4-.5 .1-.5 .9-1 .1-.5 1-1 0-.5 1-1 0-.5 1-1 0-.5 1.5-1.5 .1-.5 1.5-1.5 .1-.5 1-1 2-1.1 2.5-1.1z"/>
<path fill="#1c0021" d="M64.2,69.6l2.4,0 2.5,.4 1.9,.6 1.5,1 1,1.5 .1,1 0,2.5 .5,1.5 1.5,1 7.6,3.9 3.5,2.4 2,1.6 2.9,3.1 1.5,2 1.8,4 .3,1.5 -20.5,17.4 -.2,.7 0,6 1.2,22 -1,2 -1.6,1.6 -2.8,2.4 -.7,.8 -.2,.7 0,.5 .4,1 2,2.5 .9,1.5 .1,1 -.4,1 -1,1 -1.8,.8 -2,.5 -2,.2 -2.5-.2 -3-.6 -2.5-.8 -2.5-1.2 -2.5-1.5 -2-1.6 -2-2 -1.7-2.1 -2.6-4 -4.1-7 -.3-1 -.9-1.5 -.3-1 -.4-.5 -.2-1 -1.8-4 -1.5-4.5 -.9-4 -.5-6 .1-3.1 .4-4 2-7 2.4-6 1.5-3.5 4.8-9.2 2.2-3.8 1.4-2 1.9-2.1 2-1.7 2-1.4 2.5-1.3 2.5-1 2.5-.7z"/>
<path fill="#280030" d="M62.5,73.1l2.1,.2 1.5,.7 .9,1.1 .9,2 1,1 .9,.5 4.4,2 3,.9 3.5,1.4 2,1 3.5,2.3 2.5,2.1 2.5,2.8 1.4,2 1.1,2.5 0,.6 -19,18.7 -.3,.8 0,5.5 .8,22.5 -.6,1 -1.5,1.4 -3.7,2.1 -3.8,2.5 -.4,.5 -.5,1 -.1,1 .5,2 -.2,1 -.4,.5 -.9,.4 -1.5,.2 -2-.2 -2.5-.9 -2-1 -2.5-1.7 -3-2.7 -3.5-3.7 -2.5-2.9 -2-2.8 -3.3-5.7 -1.6-4 -1.1-3.5 -1.4-6 -.4-6.5 .5-6.1 1.4-5.5 2.9-7.2 3-5.4 7.5-10.3 3.5-3.9 2.2-1.7 2.3-1.3 2.5-.8z"/>
<path fill="#34003f" d="M57.7,79.6l1.9-.4 2,0 8,1.1 6.6,1.7 4,1.5 3,1.5 4.5,3.3 3.1,3.3 1.1,1.5 .7,1.5 -.1,.5 -17.8,19.8 -.4,.8 .5,28 -1.2,1.3 -1.5,1 -4.5,2.1 -4.5,1.4 -2.5,.6 -2.5,.2 -2.5-.3 -1.5-.4 -2-1 -2-1.2 -2.5-1.9 -2.5-2.2 -2-2.1 -1.5-2 -2.4-4 -1.4-3.5 -1-3 -1-3.5 -.5-3 -.4-6 .3-6.1 1.1-4.5 1.5-4 1.8-3.9 1.5-2.7 3-4.1 3-3.4 2.5-2.5 4.5-3.6 2-1.2z"/>
<path fill="#420053" d="M61.6,81.6l4.5-.3 4.5,.2 5.6,1.3 3.5,1.2 3,1.5 4,2.8 3.3,3.3 1.3,2 -16.6,21.2 -.5,.9 0,28 -2.1,1.5 -4.5,1.9 -3.5,.8 -3.5,.2 -2.5-.2 -3-.6 -2.5-.8 -2-1 -2.5-1.6 -2.5-2 -2-1.9 -2-2.4 -1.3-1.9 -1.2-2.5 -1.3-3 -.9-3 -1.2-5.5 -.3-6.6 .5-5.5 1.3-5 .9-2 2.3-4.5 3-4.5 4.2-4.5 2-1.8 2.5-1.9 2.5-1.5 2-.9 2-.7z"/>
<path fill="#4b0067" d="M62.2,82.6l3.9-.4 4.5,0 5.1,1.1 2,.6 3.5,1.4 4,2.5 2.5,2.1 2,2.2 .2,.5 -14.7,21.3 -1,1.7 -.6,28.1 -2,1.2 -4,1.6 -2.5,.5 -2.5,.2 -3-.2 -3-.5 -2-.6 -2.5-1 -2.5-1.4 -2.5-1.7 -2.5-2.1 -1.9-2 -1.6-2.1 -1-1.7 -1.3-2.7 -1.1-3 -1.4-5.5 -.5-6 .1-3.6 .3-3 1.1-4 1.5-3.5 2.6-4.5 2-3 2.1-2.5 2.5-2.5 4.1-3.3 4.5-2.5 2.5-.9z"/>
<path fill="#50007c" d="M63.6,83.1l3.5-.4 4,.1 4.6,.9 2,.6 3,1.2 2.5,1.5 3.5,2.5 1.5,1.5 .3,.6 -14.3,24 -1,27.6 -.2,.5 -1.4,.7 -4,1.6 -2.5,.4 -2.5,.1 -2.5-.2 -3-.5 -2.5-.7 -2.5-1.1 -2.5-1.4 -2.5-1.8 -2.5-2.1 -1.8-2 -1.6-2 -1.1-2 -1.1-2.5 -1.1-3 -1.2-5 -.4-3 -.1-3.5 .5-5.6 1.4-4.5 1.2-2.5 2.6-4.5 2.9-4 4.3-4.4 2-1.7 2.5-1.7 2.5-1.4 2.5-1z"/>
<path fill="#4f0092" d="M63.9,83.6l3.2-.4 4,0 5.6,1.2 3,1.1 2.5,1.2 4,2.8 1.1,1.1 .1,.5 -13.2,24.5 -1.6,27.6 -.5,.6 -4,1.6 -2.5,.5 -2.5,.1 -2.5-.2 -3-.5 -2.5-.7 -2.5-1.1 -2.5-1.4 -2.5-1.7 -2.5-2.1 -2-2.1 -1.2-1.5 -1.4-2.5 -1.2-2.5 -1.1-3 -1.2-5 -.4-6 .5-5.6 1.3-4 1.2-2.5 2.7-4.5 3.3-4.5 4-4 2-1.7 2.5-1.6 2.5-1.4 2.5-1z"/>
<path fill="#4700ad" d="M67.9,83.6l4.2,.1 3.6,.8 3,.9 2,.9 2,1.1 3.5,2.6 .2,.6 -11.7,23.8 -.2,.7 -.3,.5 -2.1,27.6 -.5,.5 -3,1.2 -1.5,.4 -2.5,.3 -3-.1 -3-.5 -2.5-.6 -2.5-1 -2-1 -3-1.9 -2-1.6 -2-1.9 -2.1-2.3 -1.2-2 -1.5-3 -1.2-3 -.8-3 -.4-2 -.3-3 .1-6.1 .3-2.5 .4-1.5 2-4.5 4.4-7 2-2.5 2.8-2.9 4-3.2 2.5-1.5 2.5-1.2 4.5-1.5 2.5-.4z"/>
<path fill="#3400cf" d="M66.1,84.1l3-.2 2.5,.1 5.1,1 3.5,1.3 2,1.1 3.1,2.2 .1,.5 -10.7,24.1 -.2,.9 -.3,.4 -2.7,27.7 -.6,.5 -3.3,1.1 -2,.4 -2.5,0 -2.5-.2 -3-.7 -2.5-.8 -2.5-1.1 -2.5-1.5 -2.5-1.8 -2-1.7 -2.1-2.2 -1.1-1.5 -1.7-3 -2-5 -1-4.5 -.3-3.5 0-3.1 .5-4.5 1.7-4.5 4.2-7 1.4-2 2.1-2.5 4.3-3.9 2.5-1.8 2-1.2 4.5-1.9 3-.8z"/>
<path fill="#1400ed" d="M64.9,84.6l3.2-.4 3,0 4.6,.8 5,1.8 3.5,2.3 .2,.5 -9.7,24.5 -.2,1 -.3,.4 -3.2,27.7 -1.4,.7 -1.5,.5 -2,.4 -2.5,.1 -3-.3 -2.5-.5 -2-.6 -2.5-1 -2.5-1.4 -2.5-1.7 -2.1-1.7 -2-2 -1.4-1.7 -1.4-2.3 -1.4-3 -1-2.5 -1.2-4.5 -.3-3 0-3 .5-5.6 1.3-3.5 1.3-2.5 3-5 3.1-4 4.1-4 4-2.9 2.5-1.3 2.5-1z"/>
<path fill="#000aff" d="M67.1,84.6l4.5-.1 4.6,.9 3,1 2,1 1.9,1.2 .4,.5 -8.8,24.9 -.2,1.1 -.4,.6 -3.6,27.5 -1.4,.7 -2,.5 -4,.2 -2.5-.3 -3.5-.8 -2.5-1 -2-.9 -2.5-1.6 -2.5-1.8 -2-1.9 -1.9-2.1 -1.3-2 -1.5-3 -1.1-2.5 -.9-3 -.4-2 -.3-2.5 0-5.1 .5-4 1.8-4.5 4.2-7 1.5-2 2.2-2.5 4.2-3.7 4.5-2.9 2.5-1.1 2.5-.8 2.5-.6z"/>
<path fill="#0028ff" d="M65.7,85.1l2.4-.3 3-.1 3.6,.6 2,.5 3,1.1 3,1.7 -8,25.2 -.3,1.3 -.3,.6 -4.1,27.5 -.9,.4 -1.5,.4 -3.5,.3 -2.5-.2 -3-.6 -2-.6 -2.5-1 -2.5-1.4 -2.5-1.7 -2-1.6 -2-2 -1.3-1.5 -1.5-2.5 -1.4-3 -1-2.5 -1-4 -.3-3 -.1-3 .5-5.1 1.2-3.5 1.3-2.5 3-5 3.1-4 4-3.9 4-2.9 2.5-1.3 2.5-1.1 3-.9z"/>
<path fill="#0046ff" d="M68,85.1l3.6-.1 4.1,.7 4.5,1.7 1.3,.7 .4,.5 -7.2,25.1 -.3,1.4 -.3,.6 -4.5,27.5 -3,.7 -3.5,.1 -2.5-.4 -3-.7 -2.5-.9 -2-1 -2.5-1.5 -2.4-1.8 -2.1-2 -1.8-2 -2.6-4.5 -1-2.5 -1-3 -.5-2 -.2-2.5 0-5.6 .5-3.5 .9-2.5 1.2-2.5 4.4-7 2-2.5 2.1-2.1 4-3.3 4-2.4 2.5-1 2.5-.8z"/>
<path fill="#0067ff" d="M66,85.6l4.1-.4 3,.2 4.1,1 3.9,1.7 -6.4,25.3 -.3,1.7 -.3,.6 -4.8,27 -.3,.5 -.9,.2 -2,.3 -2,.1 -2.5-.3 -3-.6 -2.5-.8 -2.5-1.2 -4.5-2.9 -2-1.8 -1.9-2 -1.2-1.5 -1.6-3 -2-5 -.9-4 -.3-5.6 .5-4.5 1.5-4 4.2-7 3.1-4 4.1-3.9 4-2.7 4.5-2.1 3-.9z"/>
<path fill="#0087ff" d="M67.8,85.6l3.8-.2 3.1,.5 4.5,1.5 1.2,.7 -5.7,25.1 -.3,1.9 -.3,.6 -5.3,27 -.5,.5 -1.2,.2 -3.5,.1 -2-.2 -3.5-.8 -2.5-.9 -2-1 -2.5-1.6 -2.5-1.8 -2-1.9 -1.9-2.1 -2.5-4.5 -1-2.5 -.9-3 -.7-4 0-5.1 .6-4 1.6-4 4-6.5 1.4-2 2.2-2.5 4.2-3.8 2-1.4 2.5-1.4 2.5-1.1 2.5-.9z"/>
<path fill="#00a8ff" d="M65.8,86.1l3.8-.4 3,.1 4.6,1 2.1,.8 .3,.5 -4.9,24.8 -.4,2.2 -.2,.6 -5.7,27 -1.2,.5 -2.6,.1 -2.5-.2 -3-.6 -2-.6 -2.5-1.1 -4.5-2.8 -2.2-1.8 -2-2 -1.2-1.5 -1.4-2.5 -2.1-5 -1.1-4 -.3-5.5 .5-5.1 1.1-3 1.3-2.5 3.1-5 2.6-3.5 3.7-3.7 4-3 2.5-1.4 2.5-1.1z"/>
<path fill="#00caff" d="M67.1,86.1l3.5-.3 2.5,.2 4.1,1 1.6,.6 0,.5 -4.5,27 -.2,.6 -6.1,27 -.9,.3 -3,.1 -2-.2 -3-.7 -2.5-.8 -2-.9 -2.5-1.4 -2.5-1.8 -3.7-3.6 -1.2-1.5 -1.4-2.5 -2-5 -.8-3 -.2-1.5 -.1-5.6 .4-4 1.6-4 4.2-7 3.2-3.9 4-3.7 4-2.7 4.5-2 2.5-.7z"/>
<path fill="#00e8ff" d="M68.3,86.1l3.3-.2 1.5,.2 3.1,.7 2,.8 -3.9,27.5 -6.6,27.6 -1.6,.3 -2.5-.1 -5-1 -2.5-.9 -2.5-1.2 -2.5-1.6 -2-1.6 -2.1-1.9 -1.7-2 -2.5-4.5 -1-2.5 -.9-3 -.5-4 0-5.1 .6-3.5 2-4.5 4.4-7 3.7-4.2 3.5-3 4.5-2.7 4.5-1.7z"/>
<path fill="#00fbf3" d="M70.1,86.1l1.5,0 2.6,.3 2.5,.7 1,.5 -3.4,27.5 -6.8,27.1 -.4,.5 -2,.2 -2-.2 -5-1.1 -2-.7 -2.5-1.3 -2.5-1.6 -2-1.6 -3.6-3.7 -1.2-2 -1.5-3 -.9-2.5 -.9-3 -.5-4.5 .2-5.1 .7-3 1-2.5 1.1-2 4.5-7 1.7-2 2.5-2.5 1.9-1.6 2.5-1.7 4-2.1 4.5-1.4z"/>
<path fill="#00fed5" d="M66.7,86.6l2.9-.3 2.5-.1 3.6,.7 .8,.2 .7,.5 -2.9,27.5 -7.2,27.1 -.5,.4 -2,.1 -2.5-.3 -2.5-.5 -2.5-.8 -2.5-1.1 -4.5-3 -2.1-1.8 -1.8-2 -.8-1 -1.7-3 -2-5 -.8-4 -.2-5.1 .5-4.5 1.2-3 1-2 3.4-5.5 2.7-3.5 4.1-4 4-2.7 4.5-2.1z"/>
<path fill="#00ffb8" d="M67.5,86.6l2.6-.3 2,.1 3.6,.6 1,.6 -2.5,27.5 -7.4,27.1 -.7,.3 -1.5,.1 -2.5-.3 -3-.7 -4-1.6 -2.5-1.4 -2.5-1.8 -1.8-1.6 -1.9-2 -1.1-1.5 -1.4-2.5 -2-5 -.8-3.5 -.2-5.6 .5-4.5 1.4-3.5 4.2-7 3.1-3.9 4-3.8 4-2.6 4.5-2z"/>
<path fill="#00ff95" d="M68.7,86.6l2.4-.1 1.5,.1 3,.5 .6,.5 -2,27.5 -7.8,27.1 -.8,.2 -1.5,0 -2.5-.4 -2.5-.6 -2.5-.9 -2-.9 -4.5-3.1 -2-1.8 -1.9-2 -1.2-2 -1.3-2.5 -1.8-5 -.5-2 -.2-2 0-5.6 .6-3.5 1-2.5 1-2 4.1-6.5 1.7-2.1 2.3-2.4 3.7-3 4-2.4 4.5-1.7z"/>
<path fill="#00ff73" d="M70.6,86.6l1.5,0 2.6,.4 .4,.1 .5,.5 -1.4,27.5 -8.2,27.1 -.9,.1 -2-.2 -5-1.2 -4-1.8 -2.5-1.6 -2-1.6 -3.5-3.7 -1.2-2 -1.4-3 -1.7-5 -.5-4.5 .2-5.1 .3-2 .6-1.5 1.9-4 4.2-6.5 1.7-2 2.9-2.8 4-3 4.5-2.3 4-1.3z"/>
<path fill="#00ff52" d="M67.1,87.1l4.5-.4 3,.4 .4,.5 -.8,27.5 -8.6,26.8 -.5,.2 -1,0 -2-.3 -3-.7 -4-1.7 -4.5-2.9 -2-1.8 -1.9-2 -1-1.5 -1.4-2.5 -1.9-5 -.6-2.5 -.2-1.5 -.1-5.1 .5-4 1.4-3.5 3.9-6.5 3.2-4 3.6-3.5 4-2.7 4.5-2.1z"/>
<path fill="#00ff32" d="M67.9,87.1l4.2-.2 1.9,.2 .4,.5 -.2,27.5 -8.9,26.6 -1.2,.3 -5-1.1 -2.5-.9 -2-1 -2.5-1.6 -2-1.6 -1.8-1.6 -1.7-2 -2.3-4 -1-2.5 -1-3 -.6-4 0-4.6 .5-3.5 1.7-4 4-6.5 3.2-3.9 3.5-3.3 4-2.6 4.5-2z"/>
<path fill="#00ff14" d="M68.9,87.1l3.2-.1 1.2,.1 .5,.5 .3,27.5 -9.3,26.6 -.7,.1 -2-.3 -3-.7 -2.5-1 -2-1 -4-2.7 -2-1.9 -1.8-2 -2.5-4.5 -1-2.5 -.9-3 -.5-4 .1-4.6 .4-3 1-2.5 1-2 4-6.5 1.7-2.1 2.3-2.4 3.2-2.7 4-2.5 2.5-1.1 2.5-.9z"/>
<path fill="#0eff00" d="M70.2,87.1l2.2,0 .8,.5 .9,27.5 -9.5,26.1 -.5,.5 -4.5-.9 -2.5-.9 -2-1 -2.5-1.5 -2-1.5 -1.8-1.7 -1.8-2 -1.3-2 -1.3-2.5 -1.7-5 -.4-1.5 -.3-3 .2-5.1 .5-3 1.1-2.5 1.1-2 4.1-6.5 1.7-2 2.4-2.5 3.5-2.8 4.5-2.5 4.5-1.5z"/>
<path fill="#38ff00" d="M67.1,87.6l2-.3 2.5-.1 1.1,.4 1.4,27.5 -.2,1.1 -9.8,25 -1,.3 -4.5-1.2 -4-1.8 -2.5-1.7 -2-1.6 -3.3-3.5 -2.4-4.5 -1.6-4.5 -.6-4 .1-4.6 .4-3.5 1.5-3.5 3.9-6.5 3-3.7 3.5-3.4 4-2.8 4-1.9z"/>
<path fill="#63ff00" d="M67.7,87.6l1.9-.2 2.4,.2 2.1,27.5 -.2,1.1 -10.2,25 -.6,.1 -4.5-1.1 -4-1.9 -4-2.8 -1.9-1.8 -1.7-2 -1.5-2.5 -1.2-2.5 -1.4-4.5 -.5-3.5 0-4.6 .5-3.5 1.5-3.5 3.9-6.5 3.3-4 3.5-3.3 3.5-2.4 4.5-2.1z"/>
<path fill="#8dff00" d="M68.4,87.6l1.2-.1 1.5,.1 3,27.5 -.5,1.5 -10.5,24.6 -4.5-1.1 -4-1.9 -4-2.9 -3.5-3.6 -2.4-4.5 -.9-2.5 -.9-3 -.4-4 .2-4.6 .5-3 1.9-4 4.1-6.5 1.6-2 2.3-2.4 3.5-2.9 3.5-2.1 4.5-1.8z"/>
<path fill="#b8ff00" d="M69.3,87.6l.5,0 3.8,24.6 .4,3.5 -11,25 -.9,.2 -3.5-.9 -4-2 -4-2.9 -3.3-3.4 -2.4-4.5 -1.7-5 -.4-2 -.2-2.5 .3-5.1 .5-2.5 1.8-4 4.2-6.5 1.6-2 2.6-2.7 3.5-2.8 4-2.2 4-1.5z"/>
<path fill="#e2ff00" d="M66.7,88.1l1.9,0 5,24.8 .4,2.8 -11.4,25 -.5,.1 -3.5-1 -4-1.9 -4-2.9 -3.1-3.3 -1.3-2 -1.2-2.5 -1.7-5 -.5-4 .1-4.6 .4-3 1.5-3.5 4-6.5 2.8-3.5 3.5-3.3 3.5-2.5 4-2z"/>
<path fill="#fff400" d="M65.1,88.6l2-.3 .4,.3 6.5,26.5 -.4,1.4 -11.5,24.2 -4-1.2 -4-2.1 -3.5-2.6 -3-3.2 -2.2-3.9 -1.7-4.5 -.5-2 -.2-2 -.1-4.6 .5-3.5 1.3-3.5 3.6-6 2.6-3.5 3.2-3.3 3-2.4 3.5-2.1z"/>
<path fill="#ffd100" d="M65.5,88.6l.7,0 7.4,25.1 .4,2 -12.1,24.5 -.8,.2 -4-1.4 -3.5-2 -3.5-2.8 -2.7-3 -1.4-2.5 -1.1-2.5 -1.4-4.5 -.5-4 .2-4.1 .4-3 1.3-3 3.9-6.5 2.7-3.5 3.1-3.1 3.5-2.6 3.5-1.9 2.5-1 1-.1z"/>
<path fill="#ffad00" d="M64.2,89.1l.8,0 8.6,24.9 .4,1.7 -12.4,24.2 -.1,.3 -.4,.1 -4-1.4 -3.5-2.1 -3.3-2.6 -2.7-3 -2.2-4 -1.6-4.5 -.6-3.5 0-4.6 .4-3.5 1.2-3 3.8-6.5 2.2-3 3.3-3.5 3-2.4 3-1.9z"/>
<path fill="#ff8800" d="M63,89.6l.6,0 10,24.6 .4,1.5 -12.9,24.3 -1-.1 -2.5-.9 -3.5-2 -3.5-2.7 -2.9-3.1 -2.4-4.5 -1.3-4 -.6-3.5 -.1-4.1 .4-4 1-2.5 1.3-2.5 4.1-6.5 3.1-3.5 2.9-2.5 3-2.1 2-1.1 1.5-.4z"/>
<path fill="#ff6100" d="M62.1,90.1l11.5,24.2 .4,1.4 -13,24 -.4,.1 -.5,0 -2.5-.9 -3.5-2 -3.5-2.7 -2.8-3 -2.1-4 -1.5-4 -.7-3.5 -.1-4 .4-4.1 .6-2 1.4-3 4.1-6.5 2.2-2.6 3.5-3.4 3-2.2 2.5-1.3 .5-.1z"/>
<path fill="#ff3900" d="M60.5,91.1l.6,0 12.5,23.3 .3,1.3 -13.3,23.9 -.5,.1 -3-1.2 -3.5-2.1 -3-2.4 -2.6-2.8 -2.2-4 -1.4-4 -.6-2.5 -.3-4.5 .3-4.1 .7-2.5 1.4-3 3.4-5.5 2.3-3 3-3 3.1-2.5z"/>
<path fill="#ff1200" d="M59.6,91.6l14,23 .3,1.1 -13.4,23.5 -.4,.2 -1-.1 -2-.9 -3.5-2.1 -3-2.4 -2.5-2.7 -1.7-3 -1.6-4 -.9-3.5 -.3-3.5 .1-3.6 .5-3 1.6-3.5 3-5 2.1-3 3.2-3.4 2.5-2.2z"/>
<path fill="#ff0000" d="M58.1,92.6l.4,0 15.1,22.1 .3,1 -13.8,23.5 -.5,.1 -3-1.2 -3.5-2.2 -2.6-2.2 -2.3-2.5 -1.9-3.5 -1.4-3.5 -.9-3.5 -.3-3 .1-3.6 .4-3 .7-2 1.3-2.5 3.1-5 2.2-3 3.4-3.5z"/>
<path fill="#ff0000" d="M57.1,93.6l.3,0 16.2,21.1 .3,1 -14.3,23.5 -3-1.2 -3-1.9 -2.9-2.4 -2.3-2.5 -1.8-3 -1.4-3.5 -1-3.5 -.3-3 0-3.6 .4-3.5 1.7-4 3.4-5.5 1.8-2.5 3.4-3.6z"/>
<path fill="#ffffff" d="M55.1,95.6l18.5,19.2 .3,.9 -14.8,23 -.5,0 -1.5-.7 -3.5-2.1 -2.7-2.2 -2.3-2.6 -1.2-1.9 -1.7-3.5 -.9-3 -.6-3 -.2-3 .2-3.6 .3-2 1-2.5 1.3-2.5 3.9-6 1.9-2.3z"/>
<ellipse cx="74.15" cy="115.40" rx="27.19" ry="28.21" fill="#000"/>
<g fill="none">
<path d="M159.8,233.4 154.5,230.8 149.2,228.2 144.2,225.7 139.2,223.1 134.3,220.5 129.6,218.0 124.9,215.4 120.4,212.8 116.0,210.3 111.8,207.7 107.6,205.2 103.6,202.6 99.6,200.0 95.8,197.5 92.1,194.9 88.6,192.3 85.1,189.8 81.8,187.2 78.5,184.6 75.4,182.1 72.5,179.5 69.6,176.9 66.8,174.4 64.2,171.8 61.7,169.3 59.3,166.7 57.0,164.1 54.8,161.6 52.8,159.0 50.8,156.4 49.0,153.9 47.3,151.3 45.7,148.7 44.3,146.2 42.9,143.6 41.7,141.0 40.6,138.5 39.6,135.9 38.7,133.4 37.9,130.8 37.3,128.2 36.8,125.7 36.4,123.1 36.1,120.5 35.9,118.0 35.8,115.4 35.9,112.8 36.1,110.3 36.4,107.7 36.8,105.1 37.3,102.6 37.9,100.0 38.7,97.4 39.6,94.9 40.6,92.3 41.7,89.8 42.9,87.2 44.3,84.6 45.7,82.1 47.3,79.5 49.0,76.9 50.8,74.4 52.8,71.8 54.8,69.2 57.0,66.7 59.3,64.1 61.7,61.5 64.2,59.0 66.8,56.4 69.6,53.9 72.5,51.3 75.4,48.7 78.5,46.2 81.8,43.6 85.1,41.0 88.6,38.5 92.1,35.9 95.8,33.3 99.6,30.8 103.6,28.2 107.6,25.6 111.8,23.1 116.0,20.5 120.4,18.0 124.9,15.4 129.6,12.8 134.3,10.3 139.2,7.7 144.2,5.1 149.2,2.6 154.5,0.0 159.8,-2.6" stroke="#f2f2f2" stroke-width="1.1"/>
<path d="M155.7,47.4 151.9,48.4 148.1,49.4 144.4,50.4 140.8,51.4 137.3,52.5 133.8,53.5 130.3,54.6 127.0,55.6 123.7,56.7 120.4,57.7 117.3,58.8 114.2,59.9 111.1,61.0 108.2,62.1 105.3,63.2 102.4,64.3 99.6,65.4 96.9,66.5 94.3,67.6 91.7,68.8 89.2,69.9 86.7,71.0 84.3,72.2 82.0,73.3 79.8,74.5 77.6,75.6 75.5,76.8 73.4,78.0 71.4,79.1 69.5,80.3 67.6,81.5 65.8,82.7 64.1,83.8 62.4,85.0 60.8,86.2 59.3,87.4 57.8,88.6 56.4,89.8 55.1,91.0 53.8,92.2 52.6,93.4 51.5,94.6 50.4,95.8 49.4,97.0 48.4,98.3 47.5,99.5 46.7,100.7 46.0,101.9 45.3,103.1 44.7,104.4 44.1,105.6 43.6,106.8 43.2,108.0 42.8,109.3 42.5,110.5 42.3,111.7 42.1,112.9 42.1,114.2 42.0,115.4 42.1,116.6 42.1,117.9 42.3,119.1 42.5,120.3 42.8,121.5 43.2,122.8 43.6,124.0 44.1,125.2 44.7,126.4 45.3,127.7 46.0,128.9 46.7,130.1 47.5,131.3 48.4,132.5 49.4,133.8 50.4,135.0 51.5,136.2 52.6,137.4 53.8,138.6 55.1,139.8 56.4,141.0 57.8,142.2 59.3,143.4 60.8,144.6 62.4,145.8 64.1,147.0 65.8,148.1 67.6,149.3 69.5,150.5 71.4,151.7 73.4,152.8 75.5,154.0 77.6,155.2 79.8,156.3 82.0,157.5 84.3,158.6 86.7,159.8 89.2,160.9 91.7,162.0 94.3,163.2 96.9,164.3 99.6,165.4 102.4,166.5 105.3,167.6 108.2,168.7 111.1,169.8 114.2,170.9 117.3,172.0 120.4,173.1 123.7,174.1 127.0,175.2 130.3,176.2 133.8,177.3 137.3,178.3 140.8,179.4 144.4,180.4 148.1,181.4 151.9,182.4 155.7,183.4" stroke="#e0a000" stroke-width="1.2"/>
<ellipse cx="74.15" cy="115.40" rx="40.29" ry="41.80" stroke="#e4e4e4" stroke-width="1.1" stroke-dasharray="1 2.58" stroke-linecap="butt"/>
<ellipse cx="74.15" cy="115.40" rx="24.72" ry="25.64" stroke="#d8520a" stroke-width="1.1"/>
</g>
</g>
<text class="n" transform="translate(8.0,18.0) scale(1,1.16)" text-anchor="start">H2</text>
<g>
<text class="t" transform="translate(-3.0,17.0) scale(1,1.16)" text-anchor="end">4</text>
<text class="t" transform="translate(-3.0,68.3) scale(1,1.16)" text-anchor="end">2</text>
<text class="t" transform="translate(-3.0,119.6) scale(1,1.16)" text-anchor="end">0</text>
<text class="t" transform="translate(-3.0,170.9) scale(1,1.16)" text-anchor="end">-2</text>
<text class="t" transform="translate(-3.0,222.2) scale(1,1.16)" text-anchor="end">-4</text>
<text class="t" transform="translate(0.1,245.0) scale(1,1.16)" text-anchor="middle">-3</text>
<text class="t" transform="translate(24.8,245.0) scale(1,1.16)" text-anchor="middle">-2</text>
<text class="t" transform="translate(49.5,245.0) scale(1,1.16)" text-anchor="middle">-1</text>
<text class="t" transform="translate(74.2,245.0) scale(1,1.16)" text-anchor="middle">0</text>
<text class="t" transform="translate(98.9,245.0) scale(1,1.16)" text-anchor="middle">1</text>
<text class="t" transform="translate(123.6,245.0) scale(1,1.16)" text-anchor="middle">2</text>
<text class="t" transform="translate(148.3,245.0) scale(1,1.16)" text-anchor="middle">3</text>
<text class="l" transform="translate(74.2,257.1) scale(1,1.16)" text-anchor="middle">X (R<tspan dy="2" font-size="6.3" font-style="italic" stroke-width="0">M</tspan><tspan dy="-2">)</tspan></text>
<text class="l" transform="translate(-20.4,115.9) rotate(-90) scale(1,1.16)" text-anchor="middle">Z (R<tspan dy="2" font-size="6.3" font-style="italic" stroke-width="0">M</tspan><tspan dy="-2">)</tspan></text>
</g>
<g>
<rect x="161.4" y="30.1" width="14.4" height="200.7" fill="url(#cb)"/>
<rect x="161.4" y="30.1" width="14.4" height="1" fill="#e8e8e8"/>
<rect x="161.4" y="30.1" width="14.4" height="200.7" fill="none" stroke="#999" stroke-width="0.5"/>
<path d="M161.4,210.7h1.6M175.8,210.7h-1.6" stroke="#000" stroke-opacity=".45" stroke-width=".7"/>
<path d="M161.4,190.7h1.6M175.8,190.7h-1.6" stroke="#000" stroke-opacity=".45" stroke-width=".7"/>
<path d="M161.4,170.6h1.6M175.8,170.6h-1.6" stroke="#000" stroke-opacity=".45" stroke-width=".7"/>
<path d="M161.4,150.5h1.6M175.8,150.5h-1.6" stroke="#000" stroke-opacity=".45" stroke-width=".7"/>
<path d="M161.4,130.4h1.6M175.8,130.4h-1.6" stroke="#000" stroke-opacity=".45" stroke-width=".7"/>
<path d="M161.4,110.4h1.6M175.8,110.4h-1.6" stroke="#000" stroke-opacity=".45" stroke-width=".7"/>
<path d="M161.4,90.3h1.6M175.8,90.3h-1.6" stroke="#000" stroke-opacity=".45" stroke-width=".7"/>
<path d="M161.4,70.2h1.6M175.8,70.2h-1.6" stroke="#000" stroke-opacity=".45" stroke-width=".7"/>
<path d="M161.4,50.2h1.6M175.8,50.2h-1.6" stroke="#000" stroke-opacity=".45" stroke-width=".7"/>
<text class="t" transform="translate(179.2,230.9) scale(1,1.16)" text-anchor="start">0.0</text>
<text class="t" transform="translate(179.2,194.2) scale(1,1.16)" text-anchor="start">2.0</text>
<text class="t" transform="translate(179.2,154.0) scale(1,1.16)" text-anchor="start">4.0</text>
<text class="t" transform="translate(179.2,113.9) scale(1,1.16)" text-anchor="start">6.0</text>
<text class="t" transform="translate(179.2,73.7) scale(1,1.16)" text-anchor="start">8.0</text>
<text class="t" transform="translate(179.2,37.0) scale(1,1.16)" text-anchor="start">10.0</text>
<text class="u" transform="translate(176.9,12.6) scale(1,1.16)" text-anchor="middle">•10<tspan dy="-5" font-size="8.3" stroke-width=".1">-15</tspan></text>
<text class="u" transform="translate(150.0,21.6) scale(1,1.16)" text-anchor="start">erg cm<tspan dy="-5" font-size="8.3" stroke-width=".1">-3</tspan><tspan dy="5">s</tspan><tspan dy="-5" font-size="8.3" stroke-width=".1">-1</tspan></text>
</g>
</g>
<g transform="translate(29.0,268.1)">
<rect x="0" y="0.0" width="148.3" height="230.8" fill="#000"/>
<g clip-path="url(#pc)">
<path fill="#110014" d="M76.1,48.1l.6,.2 1-.3 1-.1 2.5,.4 2.5,.6 1.5,.7 1.5,1.1 1,1.4 .5,1.5 .2,1.5 -.4,5 -3.6,26.5 0,1 .4,1 2.6,3 .6,1 .1,.5 -5.4,9.3 -1.4,2.7 -1.4,10 1.3,9.5 4.2,26.6 2.7,20 .3,3 0,2 -.3,1.5 -.4,1 -.7,1 -1.3,1.2 -1.5,.8 -1.5,.5 -4.5,.7 -1.5-.4 -.5,.2 -.2-.5 -1.8-.7 -4.6-3.5 -4.5-3.9 -10.5-9.9 -8.5-6.9 -2.7-2.6 -4.3-4.8 -4.2-5.7 -2.1-3.5 -3-6.5 -1.7-5 -.8-3.5 -.3-2.5 -.5-2 -.1-2.5 .1-8.6 .5-2.5 .3-2.5 .8-3.5 1.5-4.5 1.5-3.5 1.4-3 2.4-4 4.4-6 4.1-4.5 2.6-2.5 8.6-7 10.5-9.9 4.5-3.9 4.6-3.5 1.8-.7z"/>
<path fill="#1c0021" d="M75.7,49.6l1.5-.1 2.5,.2 3.5,.9 1,.5 1,.7 .5,.8 .5,1 .2,2 -.2,2.5 -3.7,28 .1,1 .8,1.5 3.2,3 .7,1 -8.2,15.5 -.4,1 -.9,6 5.6,36.1 2.7,20.5 .2,4.5 -.1,1 -.5,1.1 -.8,.9 -1.2,.8 -3,.9 -4,.5 -1.5-.4 -2.6-1.2 -.4-.6 -1.6-1 -2-1.7 -6.2-5.8 -8.5-9 -4.5-5.5 -4.5-6 -5.5-8.5 -.5-1 -1.6-2.5 -2.8-6 -1.4-4 -.3-2 -.5-1.5 -.2-2.5 -.5-1.5 -.1-4 .1-6.6 .5-1.5 .3-3 .4-1 .2-1.5 .8-2.5 .7-2 2.8-6 5.9-9.5 4.6-6.5 4-5 7.7-8.5 4.6-4.7 5.5-5 2.6-1.8 .4-.6z"/>
<path fill="#280030" d="M73.8,51.1l1.4-.4 1,0 3,.3 2,.4 1.5,.6 .7,.6 1,1.5 .2,1.5 -.1,3 -3.5,27 .2,1 1,1.5 1,1.1 2.4,1.9 .9,1 -6,12.5 -3.7,7 -.3,1 -.4,2.5 5.7,36.6 2.6,20 .2,4 -.2,1 -.5,1 -1.2,1.1 -1.1,.4 -1.9,.5 -4,.4 -1.5-.2 -2.1-1.2 -5-3.9 -5-5.2 -.5-.1 -4.1-4.3 -5.2-6 -3.5-4.5 -3.5-5 -2.4-4 -2.4-4.5 -1.7-3.5 -2.1-5.5 -1.3-4.5 -.7-3 -.6-4 -.2-4.5 .2-6.1 .6-4 1.2-5 2.9-8 2.4-5 2.5-4.5 3.6-5.5 3-4 4.1-5 3.6-4 3.6-3.8 .5-.1 3.7-3.6 .2-.5 1.1-1.1 5-3.9z"/>
<path fill="#34003f" d="M72.6,52.6l2.1-.3 4.5,.6 2,.8 .9,1.4 .3,1.5 -.1,2.5 -2.2,19.5 -.7,5 0,1.5 .3,1 .7,1 2.8,2.6 2.5,1.9 -5.9,13.5 -3,6 -1.1,1.9 -.2,.6 -.8,1 -.2,1.1 .2,1.7 2,11.5 3.4,23.3 2.3,21.5 -.3,2 -.4,.9 -.8,.6 -1,.5 -1.7,.5 -3.5,.3 -2.1-.2 -1-.5 -2-1.5 -7.6-7.1 -4.9-5.2 -.5-.2 -1.9-2.6 -.6-.2 -1-1.3 -.5-1 -.5-.1 -1.3-1.9 -.9-1 -4.5-6.5 -2.1-3.5 -2.4-4.5 -1.6-3.5 -2-5.5 -1.4-5 -.6-3 -.5-4 -.1-3.5 .1-6.1 .5-4 1.1-5 1.2-4 1.7-4.5 2.1-4.5 2.4-4.5 3.5-5.5 1.8-2.4 .2-.1 .6-1 .9-1 1.3-1.9 .5-.1 .5-1 1-1.3 .6-.2 1.9-2.6 .5-.2 4.9-5.2 5.3-5 2.9-2.5z"/>
<path fill="#420053" d="M65.3,60.1l.8-.2 .5,.2 2,2 2.6,3.5 2.1,4 1.4,3.7 1,4.4 -.2,4.9 .3,1.5 1.5,1.5 7.4,5.5 -5.8,15 -2.1,4.5 -1.8,3.5 -.3,.4 -.1,.6 -.5,.6 -.1,5.5 .2,7.3 1.5,23.7 -.5,3.4 -1.6,4.8 -2,4.1 -3,4.2 -1.5,1.6 -1,.6 -1-.3 -2-1.4 -3.5-3.2 -4-4.2 -4.5-5.5 -.4-.1 -.1-.5 -1-1.4 -.4-.1 0-.5 -.6-.8 -.5-.1 0-.6 -.5-.8 -.5-.1 0-.6 -.5-.2 -.6-.8 .1-.5 -.5-.2 -1.1-1.8 .1-.6 -.5-.1 -.2-.3 .2-.5 -.5-.1 -.3-.4 -3.4-7 -2.5-7 -1.6-7 -.5-4 -.2-4 .2-6.1 .5-3.5 1-5 1.1-3.5 1.4-4 3.5-7.5 .8-1.4 .5-.1 -.2-.5 .2-.3 .5-.1 -.1-.6 1.1-1.8 .5-.2 -.1-.5 .4-.5 .2-.3 .5-.2 -.1-.5 .6-.2 .5-.8 -.1-.5 .6-.2 .6-.8 0-.5 .4-.1 1-1.4 .1-.5 .4-.1 4-4.9 4.5-4.8 3.5-3.2z"/>
<path fill="#4b0067" d="M57.1,69.1l1.1,0 2.4,1.3 2.5,1.9 2.5,2.4 3.2,3.9 .8,3.5 1.1,1.5 2.7,1.5 4.3,1.6 3.5,2 2,1.7 .5,.2 -1.8,6 -2.9,8 -2,5 -2.3,4.8 -.1,.7 -.5,.6 -1.4,8 -3.9,28.5 -2.3,3 -2.9,2.9 -3.5,2.6 -1.5,.8 -1,.3 -1-.4 -1-.7 -2-2 -2.5-2.9 -4.1-5.6 -1.4-2.4 -.5-.1 .1-.5 -1.6-3 -.3,0 0-.5 -.2-.4 -.5-.1 .2-.5 -.2-.4 -.5-.1 .2-.5 -.2-.5 -.4,0 .2-.5 -.3-.6 -.5,0 -.2-.4 .3-.5 -.1-.2 -.5,0 -.2-.3 .4-.5 -.2-.4 -.5,0 -.1-.1 .3-.5 -.2-.7 -.5,.1 -.2-.4 .4-.5 -.2-.5 -.5,.1 -.2-.6 .3-.5 -.1-.5 -.5,.2 -.3-.7 .4-.5 -.1-.5 -.5,.1 -.2-.6 .4-.5 -.2-.8 -.5,.3 -.3-1 .5-.5 -.2-.7 -.5,.3 -.3-1.1 .5-.5 -.2-1 -.5,.4 -.4-1.9 .5-.5 -.1-1 -.5,.7 -.1-.7 -.3-2.5 .5-.5 -.1-2.3 -.5,1.8 -.2-4 .2-4.6 .5,1.8 .1-2.3 -.5-.5 .3-2.5 .1-.7 .5,.7 .1-1 -.5-.5 .2-1 .2-.9 .5,.4 .2-1 -.5-.5 .3-1.1 .5,.3 .2-.7 -.5-.5 .3-1 .5,.3 .2-.8 -.4-.5 .2-.6 .5,.1 .1-.5 -.4-.5 .3-.7 .5,.2 .1-.5 -.3-.5 .2-.6 .5,.1 .2-.5 -.4-.5 .2-.4 .5,.1 0-.2 .2-.5 -.3-.5 .1-.1 .5,0 .2-.4 -.4-.5 .2-.3 .5,0 .1-.2 -.3-.5 .2-.4 .5,0 .3-.6 -.2-.5 .4,0 .2-.5 -.2-.5 .5-.1 .2-.4 -.2-.5 .5-.1 .2-.4 0-.5 .3,0 1.6-3 -.1-.5 .5-.1 1.4-2.4 2.1-2.9 4-5.1 2.5-2.5z"/>
<path fill="#50007c" d="M52.3,75.1l.8-.4 1.5,.1 2,.6 2.5,1.1 2.5,1.5 2.2,1.6 1.1,2.5 .7,1 .6,.5 1.1,.5 9.9,2.8 4,2 1.5,1.2 .3,.5 -4.7,14.5 -3.3,8.5 -.3,.7 -.1,.8 -.4,.5 -.2,1.1 -.4,.4 -.1,1.1 -.4,.4 0,1.1 -.5,.7 -.6,2.8 -.3,.5 -.2,1 -.3,.5 -.1,1 -7.1,24.5 -.3,.5 -1.6,1.3 -3,1.8 -3,1.3 -2.5,.5 -1-.2 -1-.7 -2.5-2.8 -3.5-5.2 -2.5-4.6 -2-4.3 -1.5-3.9 -1.5-5 -1-4.6 -.5,.5 -.2-.6 .6-.5 -.4-3 -.5,.9 -.2-1.4 .6-.5 -.2-4.5 .2-5.1 -.6-.5 .2-1.4 .5,.9 .4-3 -.6-.5 .2-.6 .5,.5 1-4.7 1.5-4.9 2.5-6.2 3.5-6.6 4-5.8 1.5-1.7z"/>
<path fill="#4f0092" d="M51,79.6l3.1,0 3.5,.7 2,.8 1.5,2.1 1.5,1.1 2,.5 5.5,.6 6.1,1.5 1.5,.5 3,1.4 1.8,1.3 0,.5 -4.5,14.5 -2.5,7 -.8,2.1 -.1,.9 -.4,.5 -.2,1.1 -.4,.3 -.2,1.2 -.3,.3 -.2,1.2 -.3,.5 -.2,1 -.3,.5 -.2,1 -6,18 -.8,1.1 -2.1,1.9 -.8,1 -2.2,4.5 -.4,.4 -3,1.2 -3.5,.5 -3-.3 -1-.5 -1-.9 -2.5-3.4 -3-5.5 -2.5-5.9 -2-6.7 -1-5.2 -.5-6.1 .2-5.7 .8-6.1 1-4.3 2-6 3-6.6 3-5.1 2-2.3 1-.7z"/>
<path fill="#4700ad" d="M51.4,83.6l2.2-.3 2,0 .5,.2 1.2,1.1 .8,.5 2,.5 9,.1 3.5,.5 4.6,1.2 3.5,1.6 1.6,1.1 -4.9,16 -2.7,8 -.1,1 -.5,.5 0,.6 -1,2.2 -7.5,22.1 -1,.8 -2,.8 -4.1,2.1 -1.1,1 -1.4,2 -.9,.3 -2,0 -1.5-.3 -1.5-.5 -1.5-.7 -1.5-1.1 -1-1 -2.5-3.4 -2.5-5 -2-5.6 -1.5-6.7 -.5-4.7 0-6.2 .5-4.7 1.5-6.8 2-5.6 2.5-4.9 2.5-3.4 1-1 1.5-1.1z"/>
<path fill="#3400cf" d="M64.8,86.1l4.3-.2 3.5,.5 5.1,1.3 3.5,1.7 .8,.7 -4.6,15.5 -2.7,8.4 -.1,1.1 -.4,.5 -.1,.6 -1,2 -7.6,22 -.9,.7 -3.5,1 -8,.6 -2.5,.4 -.5,0 -1-.7 -2-2 -3.2-4 -2.6-4.5 -1.7-4.5 -1.3-5.5 -.5-5.5 .3-5.4 1-5.6 1.5-4.6 2.3-4.5 3.2-4.5 2-2.2 1.5-1.4 1.5-.7 3.5,.1z"/>
<path fill="#1400ed" d="M63.5,86.6l5.1-.4 3.5,.3 5.6,1.4 3,1.4 1,.8 -7,23.8 -.1,1.2 -.4,.5 -.1,.6 -1,1.9 -8,22.1 -.5,.3 -3,.8 -3.5,0 -2-.3 -2-.6 -2-.9 -1.5-1 -1.6-1.3 -1.9-2 -2.9-4 -2.3-4.5 -1.5-5 -.6-4.5 .1-5.1 .9-5 1.6-4.5 2.3-4.5 3.2-4 3.2-3 3-1.8 4-1.5z"/>
<path fill="#000aff" d="M65.4,86.6l3.7-.3 4,.5 4.6,1.2 3,1.4 .4,.2 .3,.5 -6.7,23.7 -.1,1.3 -.4,.5 -.1,.6 -.5,.5 -8.8,23.5 -3.2,.8 -3-.1 -3.5-1 -2-.9 -2-1.4 -1.5-1.3 -1.9-2.1 -2.8-4 -2.2-4.5 -1.3-4.5 -.5-5 .3-5.1 1.1-5 2-5 2.1-3.5 3.2-3.8 3.5-3 3.5-1.9 4.5-1.5z"/>
<path fill="#0028ff" d="M67.6,86.6l1.5-.1 3,.3 4.6,1 4,1.7 .2,.1 .1,.5 -6.3,23.6 -.1,1.4 -.4,.5 -.1,.6 -.5,.5 -9.1,23 -.4,.4 -2,.5 -3-.1 -3.5-1 -2-1 -2-1.4 -1.5-1.3 -1.9-2.1 -2.7-4 -2.1-4.5 -1.2-4 -.4-3 -.1-2.5 .1-3.1 .3-2.5 1.3-5 2-4.5 2.3-3.5 3.4-3.8 3-2.4 4-2.1 4.5-1.4z"/>
<path fill="#0046ff" d="M65,87.1l4.1-.4 3,.2 4.6,1 4,1.7 -6,23.9 -.1,1.6 -.4,.5 -.1,.6 -.5,.5 -9.5,23 -1.5,.6 -1.5,.1 -3.5-.6 -2-.7 -2-1.1 -3-2.4 -3.3-3.9 -2.5-4.5 -1.5-4 -.5-2 -.4-3 -.1-5.1 .6-4 1.5-5 1.1-2.5 1.4-2.5 2.6-3.5 3.6-3.4 3.5-2.3 3.5-1.5z"/>
<path fill="#0067ff" d="M66.1,87.1l3.5-.3 4,.5 4.1,1 2.6,1.3 -5.6,23.8 -.2,1.7 -.3,.5 -.1,.6 -.5,.5 -9.8,23 -.7,.3 -1,.2 -2.5-.2 -3.5-1 -2-1.1 -2-1.4 -2.8-2.8 -2.5-3.5 -2-4 -1.6-5 -.5-4.5 .2-5.1 .9-4.5 1.6-4.5 1.9-3.5 3.2-4 3.1-2.9 3.5-2.2 4-1.7z"/>
<path fill="#0087ff" d="M67,87.1l2.6-.2 4,.5 4.1,1 2.2,1.2 -5.2,23.6 -.2,1.9 -.3,.4 -.2,.7 -.4,.5 -10,22.8 -1,.5 -2.5-.1 -2-.4 -1.5-.6 -2-1 -2-1.4 -1.5-1.3 -1.4-1.5 -2.8-4 -2.2-4.5 -1.3-4.5 -.4-5 .3-4.6 1.1-5 1.9-4.5 2.1-3.5 2.9-3.5 3.3-2.8 4-2.3 4.5-1.7z"/>
<path fill="#00a8ff" d="M68.1,87.1l2-.1 3.5,.4 3.6,.9 1.8,.8 .6,.5 -4.9,23.5 -.2,2 -.3,.4 -.2,.7 -.9,1.5 -9.5,21.5 -.4,.5 -.6,.1 -3-.2 -3.5-1.2 -2-1.1 -2-1.5 -2.9-3.1 -2.3-3.5 -2.1-4.5 -1.1-4 -.5-5 .2-3.1 .3-2.5 1.1-4.5 2-4.5 2.7-4 2.7-3 3.4-2.7 3.5-2 4.5-1.5z"/>
<path fill="#00caff" d="M69.6,87.1l3,.2 4.1,.9 2.1,.9 .4,.5 -4.5,23.3 -.2,2.2 -.3,.4 -.2,.7 -.9,1.5 -9.6,21.5 -.4,.4 -.5,.1 -3-.2 -2-.6 -2-.9 -3.5-2.5 -2.6-2.8 -2.7-4 -1.9-4.5 -1.1-4 -.3-5.1 .4-5 1.4-5 2-4.5 2.4-3.5 3.3-3.5 3.6-2.6 4-2 4-1.3 2.5-.4z"/>
<path fill="#00e8ff" d="M65.8,87.6l3.3-.4 3.5,.2 4.6,1 1.5,.7 .1,.5 -4.1,23.1 -.2,2.4 -.3,.4 -.2,.7 -.9,1.5 -9.8,21.5 -.7,.4 -1.5,0 -3-.6 -2-.9 -2-1.2 -2.7-2.2 -3.2-4 -2.4-4.5 -1.5-4.5 -.6-4 .1-5.1 .6-4 1.4-4.5 2-4 3-4 2.8-2.8 3.5-2.5 4-1.9z"/>
<path fill="#00fbf3" d="M66.2,87.6l2.9-.4 3.5,.2 4.6,1.1 1.4,.6 0,.5 -3.9,23 -.2,2.5 -.3,.4 -.2,.7 -.9,1.5 -9.9,21.5 -.6,.3 -1,.1 -1.5-.2 -2-.6 -3.5-1.7 -3-2.4 -1.8-2 -1.4-2 -1.5-2.5 -1.1-2.5 -1.5-4.5 -.5-4 .1-4.6 .9-5 1.4-4 2.1-4 2.6-3.5 3.2-3 4-2.7 3.5-1.6z"/>
<path fill="#00fed5" d="M66.6,87.6l3-.3 3,.2 4.6,1 1.3,.6 0,.5 -3.8,22.8 -.2,2.7 -.3,.4 -.2,.7 -.9,1.5 -10,21.5 -.5,.3 -1,0 -2.5-.4 -1.5-.6 -3.5-1.9 -2.8-2.4 -3.1-4 -2.3-4.5 -1.4-4.5 -.6-4.5 .2-4.1 .7-4.5 1.5-4.5 2.1-4 2.7-3.5 3.5-3.3 3.5-2.3 4-1.8z"/>
<path fill="#00ffb8" d="M67,87.6l2.6-.3 4,.4 3.6,.9 1.1,.5 0,.5 -3.6,22.7 -.2,2.8 -.3,.4 -.2,.7 -.9,1.5 -10.1,21.5 -.4,.2 -1,0 -2-.3 -2-.7 -3.5-1.9 -2.7-2.3 -3-4 -2.1-4 -1.6-4.5 -.6-4.5 .1-5.1 1-5 1.5-4 2.2-4 2.8-3.5 2.9-2.7 4-2.6 3.5-1.5z"/>
<path fill="#00ff95" d="M67.5,87.6l2.1-.2 3.5,.3 3.6,.7 1.5,.7 -3.5,23.1 -.2,2.9 -.3,.4 -.2,.7 -.9,1.5 -10.3,21.5 -1.2,.1 -2-.3 -1.5-.5 -3-1.5 -3-2.3 -1.8-2 -1.5-2 -2.4-4.5 -1.5-4.5 -.7-4.5 .2-5.1 1-5 1.4-4 1.9-3.5 3.2-4 3.2-2.9 3.5-2.3 4-1.7 3-.8z"/>
<path fill="#00ff73" d="M68,87.6l2.1-.1 3,.2 3.1,.6 1.8,.8 -3.3,22.9 -.2,3.1 -1.4,2.6 -10.5,21.5 -2-.1 -2-.5 -1.5-.6 -2-1.1 -2-1.5 -2.6-2.7 -2.7-4 -1.8-4 -1.2-4 -.5-5 .4-5.1 1.1-4.5 1.7-4 2.4-4 2.7-3 2-1.9 2-1.4 3.5-2 4-1.4z"/>
<path fill="#00ff52" d="M68.5,87.6l1.6-.1 3,.3 3.1,.6 1.7,.7 -3.2,22.8 -.3,3.2 -1.4,2.6 -10.4,21.2 -.5,.2 -1.5-.1 -2-.5 -1.5-.6 -2.5-1.5 -1.5-1.1 -1.2-1.1 -1.7-2 -2.3-3.5 -2-4.5 -1.1-4 -.3-4.5 .3-5.1 1.1-4.5 1.9-4.5 2.7-4 2.6-2.9 3.5-2.8 3.5-2 4.5-1.6z"/>
<path fill="#00ff32" d="M69.1,87.6l4,.2 3.1,.6 1.5,.7 -3,22.6 -.3,3.4 -1.4,2.6 -10.4,21 -.5,.3 -1.5-.1 -2-.5 -2-.9 -3.5-2.4 -2.7-2.9 -2.6-4 -2-4.5 -.9-4 -.3-4.6 .4-4.5 1.2-5 1.8-4 2.2-3.5 3.2-3.5 3.2-2.6 4-2.2 4-1.4z"/>
<path fill="#00ff14" d="M66.1,88.1l3-.5 3,.1 4.1,.8 1.4,.6 -2.9,22.4 -.3,3.6 -12,23.6 -.8,.3 -2.5-.5 -1.5-.6 -3.5-2.1 -1.5-1.2 -1.3-1.4 -2.6-3.5 -2-4 -1.4-4.5 -.6-4 .1-4.6 .7-4 1.4-4.5 2.1-4 2.6-3.5 3.5-3.4 3.5-2.4 3.5-1.6z"/>
<path fill="#0eff00" d="M66.4,88.1l2.7-.4 3,.1 3.6,.6 1.7,.7 -2.7,22.2 -.3,3.8 -12.2,23.6 -.6,.2 -2-.3 -1.5-.6 -3.5-1.9 -2.7-2.4 -3-4 -2.1-4 -1.4-4.5 -.6-4 .1-4.6 .9-5 1.4-4 2.2-4 2.3-3 3.4-3.3 3.5-2.4 3.5-1.6z"/>
<path fill="#38ff00" d="M66.7,88.1l2.4-.4 3,.1 3.6,.6 1.6,.7 -2.6,22 -.3,4 -12.3,23.6 -.5,.2 -2-.4 -1.5-.5 -3.5-2 -2.6-2.3 -2.7-3.5 -2.4-4.5 -1.4-4.5 -.6-4.5 .1-4.1 .8-4.5 1.5-4.5 1.9-3.5 2.6-3.5 3.3-3.2 3.5-2.4 3.5-1.6z"/>
<path fill="#63ff00" d="M66.9,88.1l2.7-.4 2.5,.1 3.6,.7 1.4,.6 -2.4,21.8 -.3,4.2 -12.5,23.6 -.3,.1 -2-.4 -1.5-.5 -2-1 -2-1.4 -1.6-1.3 -1.3-1.5 -2.4-3.5 -2-4 -1.4-4.5 -.4-4.5 .2-4.1 .7-4 1.5-4.5 1.9-3.5 3.1-4 2.7-2.6 4-2.7 3.5-1.6z"/>
<path fill="#8dff00" d="M67.2,88.1l2.4-.3 2.5,.1 3.6,.6 1.2,.6 -2.2,21.6 -.3,4.4 -12.8,23.6 -1.5-.2 -2-.7 -2-1 -2-1.4 -1.4-1.2 -1.4-1.5 -2.4-3.5 -2-4 -1.4-4.5 -.4-4.5 .1-4.1 1-5 1.5-4 2-3.5 2.8-3.5 3.1-2.9 3.5-2.3 3.5-1.6z"/>
<path fill="#b8ff00" d="M67.4,88.1l2.2-.3 2.5,.1 3.6,.7 1.1,.5 -2.1,21.3 -.3,4.7 -12.8,23.5 -1-.1 -2-.5 -1.5-.7 -3.5-2.4 -2.6-2.7 -2.6-4 -1.6-3.5 -1.2-4 -.4-4.5 .2-4.6 .9-4.5 1.5-4 2-3.5 2.8-3.5 3-2.8 3.5-2.3 3.5-1.6z"/>
<path fill="#e2ff00" d="M67.7,88.1l1.9-.2 2.5,0 3.6,.7 .9,.5 -1.9,20.9 -.3,5.1 -12.8,23.2 -1,.2 -3-1 -2-1.2 -2-1.5 -1.2-1.1 -1.7-2 -2-3 -1.8-4 -1.2-4 -.5-4.5 .3-4.6 .9-4.5 1.5-4 2-3.5 2.8-3.5 2.9-2.7 4-2.7 4.5-1.8z"/>
<path fill="#fff400" d="M68,88.1l1.6-.2 2.5,.1 2.6,.4 .9,.2 .9,.5 -1.8,20.6 -.3,5.4 -12.9,23.1 -.9,.2 -2-.6 -2-.9 -3.5-2.6 -2.7-3.1 -2.1-3.5 -1.5-3.5 -1.1-4 -.4-4.5 .4-5.1 1.1-4.5 1.4-3.5 2.1-3.5 2.9-3.5 2.9-2.5 3.5-2.3 4.5-1.8z"/>
<path fill="#ffd100" d="M68.2,88.1l1.4-.2 2.5,.1 2.6,.4 1.6,.7 -1.6,20.1 -.4,5.9 -12.9,23.1 -.8,.2 -1.5-.4 -2-.9 -2-1.3 -2-1.6 -2.2-2.5 -2.5-4 -1.6-3.5 -1.1-4 -.3-4.5 .3-5.1 1.2-4.5 1.4-3.5 2.1-3.5 2.9-3.5 3.3-2.8 4-2.4 4-1.5z"/>
<path fill="#ffad00" d="M68.5,88.1l2.1-.1 2.5,.2 2.2,.4 .9,.5 -1.5,19.7 -.4,6.3 -13,23.1 -.7,.1 -1.5-.4 -2-.9 -3.5-2.4 -2.6-2.9 -2.6-4 -1.5-3.5 -1.1-4 -.4-4.5 .4-5.1 1-4 1.6-4 2.4-4 2.8-3.2 3-2.6 4-2.4 4-1.5z"/>
<path fill="#ff8800" d="M68.7,88.1l1.9-.1 3,.3 1.5,.3 .9,.5 -1.3,19.1 -.4,6.9 -13.2,23.1 -.5,.1 -1.5-.4 -2-.9 -3.5-2.5 -2.2-2.3 -2.6-4 -1.8-4 -1.1-4 -.4-4.5 .4-5.1 .9-4 1.9-4.5 2.2-3.5 2.7-3.1 3-2.6 4-2.4 4-1.6z"/>
<path fill="#ff6100" d="M69,88.1l2.1,0 2.5,.2 1.4,.3 .8,.5 -1.5,26 -13.2,22.9 -.5,.2 -1.5-.4 -2-.9 -3.5-2.5 -1.3-1.2 -1.6-2 -1.9-3 -1.9-4.5 -1-3.5 -.3-4.5 .3-5.1 1-4 1.9-4.5 2.5-4 2.8-3 3.5-2.8 3.5-2 4-1.5z"/>
<path fill="#ff3900" d="M69.3,88.1l4.3,.2 1.3,.3 .8,.5 -1.4,26 -13.2,22.7 -.5,.4 -2-.6 -1.5-.8 -3.5-2.4 -2.4-2.7 -2.3-3.5 -2-4.5 -1-4 -.3-4.6 .4-4.5 1-4 1.8-4.5 2.6-4 2.7-2.9 3.5-2.9 3.5-2 4-1.4z"/>
<path fill="#ff1200" d="M69.6,88.1l4,.2 1.2,.3 .7,.5 -1.2,26 -13.2,22.6 -.5,.4 -.5-.1 -1.5-.5 -2-1 -3.5-2.6 -2.2-2.7 -2.5-4 -1.6-4 -.9-4.5 -.2-4.6 .5-4.5 1.2-4 2-4.5 2.5-3.5 2.7-2.9 3-2.3 3.5-2 4.5-1.6z"/>
<path fill="#ff0000" d="M66.6,88.6l2.5-.4 2.5,0 2.6,.3 .5,.1 .7,.5 -1.1,26 -13.4,22.6 -.3,.3 -.5,0 -1.5-.5 -2-1.1 -3.5-2.6 -2.2-2.6 -2.1-3.5 -1.6-3.5 -1-3.5 -.5-4.5 .3-4.6 .8-4 1.4-4 1.6-3 3-4 2.8-2.7 3.5-2.4 3.5-1.7z"/>
<path fill="#ff0000" d="M66.7,88.6l2.9-.4 2.5,0 2.5,.4 .6,.5 -.9,26 -13.5,22.6 -.7,.2 -1.5-.5 -2-1 -3-2.2 -2.2-2.5 -2.6-4 -1.5-3.5 -1-3.5 -.5-4 .2-4.6 .8-4.5 1.5-4 1.9-3.5 2.7-3.5 2.7-2.6 4-2.8 3-1.4z"/>
<path fill="#ffffff" d="M67,88.6l2.6-.4 2.5,0 2.3,.4 .6,.5 -.8,26 -13.6,22.5 -.5,.2 -3-1.2 -3.5-2.5 -2.8-3.4 -1.9-3 -1.5-3.5 -1.1-4 -.4-4.5 .3-4.6 .8-3.5 1.4-4 1.9-3.5 2.7-3.5 3.1-2.9 3.5-2.4 3.5-1.6z"/>
<ellipse cx="74.15" cy="115.40" rx="25.71" ry="26.67" fill="#000"/>
<path fill="#000" d="M74.2,89.8 76.7,90.1 79.3,90.4 81.9,90.7 84.5,91.0 87.1,91.3 89.7,91.1 92.3,90.0 94.9,92.0 97.5,90.9 100.1,91.5 102.7,89.7 105.3,90.9 107.9,89.0 110.5,89.2 113.1,85.6 115.7,84.4 118.3,80.2 120.9,78.0 123.5,73.4 126.1,71.8 128.7,67.2 131.2,64.8 133.8,62.7 136.4,63.7 139.0,61.8 141.6,62.3 144.2,60.9 146.8,62.5 149.4,61.0 152.0,61.6 151.4,179.7 148.8,178.3 146.2,179.0 143.6,176.7 141.0,177.3 138.4,176.0 135.8,176.6 133.2,174.2 130.6,174.8 128.0,173.4 125.4,174.0 122.8,171.4 120.2,172.0 117.7,170.5 115.1,171.0 112.5,168.4 109.9,168.8 107.3,167.1 104.7,167.4 102.1,166.4 99.5,165.3 96.9,164.3 94.3,163.2 91.7,162.0 89.1,160.9 86.5,159.7 83.9,158.4 81.3,157.1 78.7,155.8 76.1,154.4 73.5,152.9 70.9,151.4 68.3,149.8 65.7,148.1 63.2,146.3Z"/>
<g fill="none">
<path d="M159.8,233.4 154.5,230.8 149.2,228.2 144.2,225.7 139.2,223.1 134.3,220.5 129.6,218.0 124.9,215.4 120.4,212.8 116.0,210.3 111.8,207.7 107.6,205.2 103.6,202.6 99.6,200.0 95.8,197.5 92.1,194.9 88.6,192.3 85.1,189.8 81.8,187.2 78.5,184.6 75.4,182.1 72.5,179.5 69.6,176.9 66.8,174.4 64.2,171.8 61.7,169.3 59.3,166.7 57.0,164.1 54.8,161.6 52.8,159.0 50.8,156.4 49.0,153.9 47.3,151.3 45.7,148.7 44.3,146.2 42.9,143.6 41.7,141.0 40.6,138.5 39.6,135.9 38.7,133.4 37.9,130.8 37.3,128.2 36.8,125.7 36.4,123.1 36.1,120.5 35.9,118.0 35.8,115.4 35.9,112.8 36.1,110.3 36.4,107.7 36.8,105.1 37.3,102.6 37.9,100.0 38.7,97.4 39.6,94.9 40.6,92.3 41.7,89.8 42.9,87.2 44.3,84.6 45.7,82.1 47.3,79.5 49.0,76.9 50.8,74.4 52.8,71.8 54.8,69.2 57.0,66.7 59.3,64.1 61.7,61.5 64.2,59.0 66.8,56.4 69.6,53.9 72.5,51.3 75.4,48.7 78.5,46.2 81.8,43.6 85.1,41.0 88.6,38.5 92.1,35.9 95.8,33.3 99.6,30.8 103.6,28.2 107.6,25.6 111.8,23.1 116.0,20.5 120.4,18.0 124.9,15.4 129.6,12.8 134.3,10.3 139.2,7.7 144.2,5.1 149.2,2.6 154.5,0.0 159.8,-2.6" stroke="#f2f2f2" stroke-width="1.1"/>
<path d="M155.7,47.4 151.9,48.4 148.1,49.4 144.4,50.4 140.8,51.4 137.3,52.5 133.8,53.5 130.3,54.6 127.0,55.6 123.7,56.7 120.4,57.7 117.3,58.8 114.2,59.9 111.1,61.0 108.2,62.1 105.3,63.2 102.4,64.3 99.6,65.4 96.9,66.5 94.3,67.6 91.7,68.8 89.2,69.9 86.7,71.0 84.3,72.2 82.0,73.3 79.8,74.5 77.6,75.6 75.5,76.8 73.4,78.0 71.4,79.1 69.5,80.3 67.6,81.5 65.8,82.7 64.1,83.8 62.4,85.0 60.8,86.2 59.3,87.4 57.8,88.6 56.4,89.8 55.1,91.0 53.8,92.2 52.6,93.4 51.5,94.6 50.4,95.8 49.4,97.0 48.4,98.3 47.5,99.5 46.7,100.7 46.0,101.9 45.3,103.1 44.7,104.4 44.1,105.6 43.6,106.8 43.2,108.0 42.8,109.3 42.5,110.5 42.3,111.7 42.1,112.9 42.1,114.2 42.0,115.4 42.1,116.6 42.1,117.9 42.3,119.1 42.5,120.3 42.8,121.5 43.2,122.8 43.6,124.0 44.1,125.2 44.7,126.4 45.3,127.7 46.0,128.9 46.7,130.1 47.5,131.3 48.4,132.5 49.4,133.8 50.4,135.0 51.5,136.2 52.6,137.4 53.8,138.6 55.1,139.8 56.4,141.0 57.8,142.2 59.3,143.4 60.8,144.6 62.4,145.8 64.1,147.0 65.8,148.1 67.6,149.3 69.5,150.5 71.4,151.7 73.4,152.8 75.5,154.0 77.6,155.2 79.8,156.3 82.0,157.5 84.3,158.6 86.7,159.8 89.2,160.9 91.7,162.0 94.3,163.2 96.9,164.3 99.6,165.4 102.4,166.5 105.3,167.6 108.2,168.7 111.1,169.8 114.2,170.9 117.3,172.0 120.4,173.1 123.7,174.1 127.0,175.2 130.3,176.2 133.8,177.3 137.3,178.3 140.8,179.4 144.4,180.4 148.1,181.4 151.9,182.4 155.7,183.4" stroke="#e0a000" stroke-width="1.2"/>
<ellipse cx="74.15" cy="115.40" rx="40.29" ry="41.80" stroke="#e4e4e4" stroke-width="1.1" stroke-dasharray="1 2.58" stroke-linecap="butt"/>
<ellipse cx="74.15" cy="115.40" rx="24.72" ry="25.64" stroke="#d8520a" stroke-width="1.1"/>
</g>
</g>
<text class="n" transform="translate(8.0,18.0) scale(1,1.16)" text-anchor="start">O</text>
<g>
<text class="t" transform="translate(-3.0,17.0) scale(1,1.16)" text-anchor="end">4</text>
<text class="t" transform="translate(-3.0,68.3) scale(1,1.16)" text-anchor="end">2</text>
<text class="t" transform="translate(-3.0,119.6) scale(1,1.16)" text-anchor="end">0</text>
<text class="t" transform="translate(-3.0,170.9) scale(1,1.16)" text-anchor="end">-2</text>
<text class="t" transform="translate(-3.0,222.2) scale(1,1.16)" text-anchor="end">-4</text>
<text class="t" transform="translate(0.1,245.0) scale(1,1.16)" text-anchor="middle">-3</text>
<text class="t" transform="translate(24.8,245.0) scale(1,1.16)" text-anchor="middle">-2</text>
<text class="t" transform="translate(49.5,245.0) scale(1,1.16)" text-anchor="middle">-1</text>
<text class="t" transform="translate(74.2,245.0) scale(1,1.16)" text-anchor="middle">0</text>
<text class="t" transform="translate(98.9,245.0) scale(1,1.16)" text-anchor="middle">1</text>
<text class="t" transform="translate(123.6,245.0) scale(1,1.16)" text-anchor="middle">2</text>
<text class="t" transform="translate(148.3,245.0) scale(1,1.16)" text-anchor="middle">3</text>
<text class="l" transform="translate(74.2,257.1) scale(1,1.16)" text-anchor="middle">X (R<tspan dy="2" font-size="6.3" font-style="italic" stroke-width="0">M</tspan><tspan dy="-2">)</tspan></text>
<text class="l" transform="translate(-20.4,115.9) rotate(-90) scale(1,1.16)" text-anchor="middle">Z (R<tspan dy="2" font-size="6.3" font-style="italic" stroke-width="0">M</tspan><tspan dy="-2">)</tspan></text>
</g>
<g>
<rect x="161.4" y="30.1" width="14.4" height="200.7" fill="url(#cb)"/>
<rect x="161.4" y="30.1" width="14.4" height="1" fill="#e8e8e8"/>
<rect x="161.4" y="30.1" width="14.4" height="200.7" fill="none" stroke="#999" stroke-width="0.5"/>
<path d="M161.4,210.7h1.6M175.8,210.7h-1.6" stroke="#000" stroke-opacity=".45" stroke-width=".7"/>
<path d="M161.4,190.7h1.6M175.8,190.7h-1.6" stroke="#000" stroke-opacity=".45" stroke-width=".7"/>
<path d="M161.4,170.6h1.6M175.8,170.6h-1.6" stroke="#000" stroke-opacity=".45" stroke-width=".7"/>
<path d="M161.4,150.5h1.6M175.8,150.5h-1.6" stroke="#000" stroke-opacity=".45" stroke-width=".7"/>
<path d="M161.4,130.4h1.6M175.8,130.4h-1.6" stroke="#000" stroke-opacity=".45" stroke-width=".7"/>
<path d="M161.4,110.4h1.6M175.8,110.4h-1.6" stroke="#000" stroke-opacity=".45" stroke-width=".7"/>
<path d="M161.4,90.3h1.6M175.8,90.3h-1.6" stroke="#000" stroke-opacity=".45" stroke-width=".7"/>
<path d="M161.4,70.2h1.6M175.8,70.2h-1.6" stroke="#000" stroke-opacity=".45" stroke-width=".7"/>
<path d="M161.4,50.2h1.6M175.8,50.2h-1.6" stroke="#000" stroke-opacity=".45" stroke-width=".7"/>
<text class="t" transform="translate(179.2,230.9) scale(1,1.16)" text-anchor="start">0.0</text>
<text class="t" transform="translate(179.2,194.2) scale(1,1.16)" text-anchor="start">2.0</text>
<text class="t" transform="translate(179.2,154.0) scale(1,1.16)" text-anchor="start">4.0</text>
<text class="t" transform="translate(179.2,113.9) scale(1,1.16)" text-anchor="start">6.0</text>
<text class="t" transform="translate(179.2,73.7) scale(1,1.16)" text-anchor="start">8.0</text>
<text class="t" transform="translate(179.2,37.0) scale(1,1.16)" text-anchor="start">10.0</text>
<text class="u" transform="translate(176.9,12.6) scale(1,1.16)" text-anchor="middle">•10<tspan dy="-5" font-size="8.3" stroke-width=".1">-15</tspan></text>
<text class="u" transform="translate(150.0,21.6) scale(1,1.16)" text-anchor="start">erg cm<tspan dy="-5" font-size="8.3" stroke-width=".1">-3</tspan><tspan dy="5">s</tspan><tspan dy="-5" font-size="8.3" stroke-width=".1">-1</tspan></text>
</g>
</g>
<g transform="translate(271.5,268.1)">
<rect x="0" y="0.0" width="148.3" height="230.8" fill="#000"/>
<g clip-path="url(#pc)">
<g fill="none">
<path d="M159.8,233.4 154.5,230.8 149.2,228.2 144.2,225.7 139.2,223.1 134.3,220.5 129.6,218.0 124.9,215.4 120.4,212.8 116.0,210.3 111.8,207.7 107.6,205.2 103.6,202.6 99.6,200.0 95.8,197.5 92.1,194.9 88.6,192.3 85.1,189.8 81.8,187.2 78.5,184.6 75.4,182.1 72.5,179.5 69.6,176.9 66.8,174.4 64.2,171.8 61.7,169.3 59.3,166.7 57.0,164.1 54.8,161.6 52.8,159.0 50.8,156.4 49.0,153.9 47.3,151.3 45.7,148.7 44.3,146.2 42.9,143.6 41.7,141.0 40.6,138.5 39.6,135.9 38.7,133.4 37.9,130.8 37.3,128.2 36.8,125.7 36.4,123.1 36.1,120.5 35.9,118.0 35.8,115.4 35.9,112.8 36.1,110.3 36.4,107.7 36.8,105.1 37.3,102.6 37.9,100.0 38.7,97.4 39.6,94.9 40.6,92.3 41.7,89.8 42.9,87.2 44.3,84.6 45.7,82.1 47.3,79.5 49.0,76.9 50.8,74.4 52.8,71.8 54.8,69.2 57.0,66.7 59.3,64.1 61.7,61.5 64.2,59.0 66.8,56.4 69.6,53.9 72.5,51.3 75.4,48.7 78.5,46.2 81.8,43.6 85.1,41.0 88.6,38.5 92.1,35.9 95.8,33.3 99.6,30.8 103.6,28.2 107.6,25.6 111.8,23.1 116.0,20.5 120.4,18.0 124.9,15.4 129.6,12.8 134.3,10.3 139.2,7.7 144.2,5.1 149.2,2.6 154.5,0.0 159.8,-2.6" stroke="#f2f2f2" stroke-width="1.1"/>
<path d="M155.7,47.4 151.9,48.4 148.1,49.4 144.4,50.4 140.8,51.4 137.3,52.5 133.8,53.5 130.3,54.6 127.0,55.6 123.7,56.7 120.4,57.7 117.3,58.8 114.2,59.9 111.1,61.0 108.2,62.1 105.3,63.2 102.4,64.3 99.6,65.4 96.9,66.5 94.3,67.6 91.7,68.8 89.2,69.9 86.7,71.0 84.3,72.2 82.0,73.3 79.8,74.5 77.6,75.6 75.5,76.8 73.4,78.0 71.4,79.1 69.5,80.3 67.6,81.5 65.8,82.7 64.1,83.8 62.4,85.0 60.8,86.2 59.3,87.4 57.8,88.6 56.4,89.8 55.1,91.0 53.8,92.2 52.6,93.4 51.5,94.6 50.4,95.8 49.4,97.0 48.4,98.3 47.5,99.5 46.7,100.7 46.0,101.9 45.3,103.1 44.7,104.4 44.1,105.6 43.6,106.8 43.2,108.0 42.8,109.3 42.5,110.5 42.3,111.7 42.1,112.9 42.1,114.2 42.0,115.4 42.1,116.6 42.1,117.9 42.3,119.1 42.5,120.3 42.8,121.5 43.2,122.8 43.6,124.0 44.1,125.2 44.7,126.4 45.3,127.7 46.0,128.9 46.7,130.1 47.5,131.3 48.4,132.5 49.4,133.8 50.4,135.0 51.5,136.2 52.6,137.4 53.8,138.6 55.1,139.8 56.4,141.0 57.8,142.2 59.3,143.4 60.8,144.6 62.4,145.8 64.1,147.0 65.8,148.1 67.6,149.3 69.5,150.5 71.4,151.7 73.4,152.8 75.5,154.0 77.6,155.2 79.8,156.3 82.0,157.5 84.3,158.6 86.7,159.8 89.2,160.9 91.7,162.0 94.3,163.2 96.9,164.3 99.6,165.4 102.4,166.5 105.3,167.6 108.2,168.7 111.1,169.8 114.2,170.9 117.3,172.0 120.4,173.1 123.7,174.1 127.0,175.2 130.3,176.2 133.8,177.3 137.3,178.3 140.8,179.4 144.4,180.4 148.1,181.4 151.9,182.4 155.7,183.4" stroke="#e0a000" stroke-width="1.2"/>
<ellipse cx="74.15" cy="115.40" rx="40.29" ry="41.80" stroke="#e4e4e4" stroke-width="1.1" stroke-dasharray="1 2.58" stroke-linecap="butt"/>
<ellipse cx="74.15" cy="115.40" rx="24.72" ry="25.64" stroke="#d8520a" stroke-width="1.1"/>
</g>
</g>
<text class="n" transform="translate(8.0,18.0) scale(1,1.16)" text-anchor="start">CO2</text>
<g>
<text class="t" transform="translate(-3.0,17.0) scale(1,1.16)" text-anchor="end">4</text>
<text class="t" transform="translate(-3.0,68.3) scale(1,1.16)" text-anchor="end">2</text>
<text class="t" transform="translate(-3.0,119.6) scale(1,1.16)" text-anchor="end">0</text>
<text class="t" transform="translate(-3.0,170.9) scale(1,1.16)" text-anchor="end">-2</text>
<text class="t" transform="translate(-3.0,222.2) scale(1,1.16)" text-anchor="end">-4</text>
<text class="t" transform="translate(0.1,245.0) scale(1,1.16)" text-anchor="middle">-3</text>
<text class="t" transform="translate(24.8,245.0) scale(1,1.16)" text-anchor="middle">-2</text>
<text class="t" transform="translate(49.5,245.0) scale(1,1.16)" text-anchor="middle">-1</text>
<text class="t" transform="translate(74.2,245.0) scale(1,1.16)" text-anchor="middle">0</text>
<text class="t" transform="translate(98.9,245.0) scale(1,1.16)" text-anchor="middle">1</text>
<text class="t" transform="translate(123.6,245.0) scale(1,1.16)" text-anchor="middle">2</text>
<text class="t" transform="translate(148.3,245.0) scale(1,1.16)" text-anchor="middle">3</text>
<text class="l" transform="translate(74.2,257.1) scale(1,1.16)" text-anchor="middle">X (R<tspan dy="2" font-size="6.3" font-style="italic" stroke-width="0">M</tspan><tspan dy="-2">)</tspan></text>
<text class="l" transform="translate(-20.4,115.9) rotate(-90) scale(1,1.16)" text-anchor="middle">Z (R<tspan dy="2" font-size="6.3" font-style="italic" stroke-width="0">M</tspan><tspan dy="-2">)</tspan></text>
</g>
<g>
<rect x="161.4" y="30.1" width="14.4" height="200.7" fill="url(#cb)"/>
<rect x="161.4" y="30.1" width="14.4" height="1" fill="#e8e8e8"/>
<rect x="161.4" y="30.1" width="14.4" height="200.7" fill="none" stroke="#999" stroke-width="0.5"/>
<path d="M161.4,210.7h1.6M175.8,210.7h-1.6" stroke="#000" stroke-opacity=".45" stroke-width=".7"/>
<path d="M161.4,190.7h1.6M175.8,190.7h-1.6" stroke="#000" stroke-opacity=".45" stroke-width=".7"/>
<path d="M161.4,170.6h1.6M175.8,170.6h-1.6" stroke="#000" stroke-opacity=".45" stroke-width=".7"/>
<path d="M161.4,150.5h1.6M175.8,150.5h-1.6" stroke="#000" stroke-opacity=".45" stroke-width=".7"/>
<path d="M161.4,130.4h1.6M175.8,130.4h-1.6" stroke="#000" stroke-opacity=".45" stroke-width=".7"/>
<path d="M161.4,110.4h1.6M175.8,110.4h-1.6" stroke="#000" stroke-opacity=".45" stroke-width=".7"/>
<path d="M161.4,90.3h1.6M175.8,90.3h-1.6" stroke="#000" stroke-opacity=".45" stroke-width=".7"/>
<path d="M161.4,70.2h1.6M175.8,70.2h-1.6" stroke="#000" stroke-opacity=".45" stroke-width=".7"/>
<path d="M161.4,50.2h1.6M175.8,50.2h-1.6" stroke="#000" stroke-opacity=".45" stroke-width=".7"/>
<text class="t" transform="translate(179.2,230.9) scale(1,1.16)" text-anchor="start">0.0</text>
<text class="t" transform="translate(179.2,194.2) scale(1,1.16)" text-anchor="start">2.0</text>
<text class="t" transform="translate(179.2,154.0) scale(1,1.16)" text-anchor="start">4.0</text>
<text class="t" transform="translate(179.2,113.9) scale(1,1.16)" text-anchor="start">6.0</text>
<text class="t" transform="translate(179.2,73.7) scale(1,1.16)" text-anchor="start">8.0</text>
<text class="t" transform="translate(179.2,37.0) scale(1,1.16)" text-anchor="start">10.0</text>
<text class="u" transform="translate(176.9,12.6) scale(1,1.16)" text-anchor="middle">•10<tspan dy="-5" font-size="8.3" stroke-width=".1">-15</tspan></text>
<text class="u" transform="translate(150.0,21.6) scale(1,1.16)" text-anchor="start">erg cm<tspan dy="-5" font-size="8.3" stroke-width=".1">-3</tspan><tspan dy="5">s</tspan><tspan dy="-5" font-size="8.3" stroke-width=".1">-1</tspan></text>
</g>
</g>
<g transform="translate(514.0,268.1)">
<rect x="0" y="0.0" width="148.3" height="230.8" fill="#000"/>
<g clip-path="url(#pc)">
<path fill="#110014" d="M134.2,.5l1-.5 13.1,0 0,34.9 -33.1,23.4 -3.5,2.8 -3,3.2 -4,5.3 -7.9,11.5 -1.3,2 -.7,1.5 -.3,1.5 -.1,1.5 .3,1.5 1.7,4.5 .5,2 .2,2 -.4,2 -8.5,6.2 -5.3,4.3 -.4,.5 -1,4.5 -.7,.6 1.9,11.9 2.5,10.6 .5,1.3 .5,.7 2,1.1 .4,.4 .2,.5 -.8,3 .2,1.5 1.5,2.4 6.3,8.1 4.6,4.5 5.7,4.5 42,29.7 0,34.9 -19.8,0 -.8-.5 -5.9-2.5 -4.6-1.6 -4.5-1.1 -4-.5 -3.5,0 -3.5,.5 -8.5,2 -2.5,.4 -5.5-.1 -5-.8 -5.5-1.9 -5.1-2.6 -5-3.2 -5.5-3.8 -9-2 -8-2.5 -7.5-3.1 -7.5-3.9 -8.1-5.2 -6.5-5 -6.5-6.2 -6-6.6 0-130.4 4.1-4.6 4.9-5 5-4.4 4.5-3.5 5-3.4 6.1-3.5 5-2.5 6-2.5 5.5-1.9 4.5-1 4-.6 5-.5 2.5-.5 4-.4 37.1-.1 1.5-.4 1.5-.1 .9-.3 6.1-3.7 1-.5 1-.2 1.5-1 2.6-1.1 6-3.4z"/>
<path fill="#1c0021" d="M136.1,.5l1-.5 11.2,0 0,3.5 -.5,0 -.5,.5 -.5,0 -.5,.5 -.5,0 -.5,.5 -.5,0 0,.4 3.5-.2 0,15.7 -7.6,7.1 -16.9,14.6 -4.1,3.7 -4,4.7 -7.1,10.1 -3.4,4.3 -3.5,3.8 -6.3,5.9 -3.7,4.3 -1,1.7 -.4,1 -.2,1 .1,1 .6,1.5 2.1,3.5 .9,2 1.6,6.5 -.2,.5 -7,6 -7.9,7.5 -.4,.5 -.5,3 -.8,.6 1.6,10.1 2.5,11.6 .9,3.3 .6,1 1.2,1.5 .1,.5 -.3,2.5 .2,1.5 1.8,4 3,5.5 3,4.1 4.5,4.6 40.2,34.4 6.1,5.5 4.3,4.1 0,15.7 -3.5-.2 0,.4 .5,0 .5,.5 .5,0 .5,.5 .5,0 .5,.5 .5,0 0,3.5 -17,0 -3-1.6 -5.6-2.4 -5-1.8 -4-1.1 -4.5-.6 -3-.1 -3.5,.3 -9.5,2.1 -4.5,.6 -1,.1 -1.5-.4 -2-.2 -3.5-.6 -5.5-1.8 -4.6-2.3 -5.2-3.2 -5.8-4.1 -5-.9 -4.2-1 -8-2.5 -7.3-3 -7.7-4 -7.7-5 -7-5.6 -6.7-6.3 -6-6.9 0-126.2 4-4.7 4.9-5 5-4.6 5.1-4 5.1-3.5 6-3.5 5-2.5 6-2.5 4.5-1.5 5.3-1.5 4.2-.7 5-.6 4-.8 36.6-.1 1.5-.2 .5-.3 1-.2 3-.1 11-6.4 1-.3 3.5-2 1-.2 2.6-1.5 .7-.1 2.8-1.4 2-1.2z"/>
<path fill="#280030" d="M138.3,.5l1-.5 9,0 0,3.4 -.5,0 -.5,.5 -.5,0 -.5,.5 -.5,0 -.5,.5 -.5,0 -.5,.5 -.5,0 -.5,.5 -.5,0 -.5,.5 -.5,0 -.5,.5 -.5,0 -.5,.5 -.5,0 -.5,.5 -.5,0 -.5,.5 -.5,0 -.5,.5 -.5,0 -.5,.6 -.5,0 -.5,.5 -.3,0 -.7,2.8 -.5,2.7 0,1.5 .3,3 -.2,1.5 -1,2.5 -1.5,2.5 -9.7,12.6 -10.5,15.9 -3.5,4.8 -3.5,3.6 -10.9,9.2 -2.6,2.9 -2,2.7 -.8,1.4 -.5,1.5 -.1,1 .2,1 .5,1 2.4,3 1.7,2.5 .8,2 1.2,4.5 -.3,.5 -4.1,4.2 -11.1,11.8 -.4,.5 -.3,2 -.9,.6 1.2,7.3 3,13.5 1.1,4.2 1.6,3.5 0,2.5 .3,1.5 3,7 3,5.8 2.5,3.6 3.5,4 22.4,21.6 7.3,7.6 4.7,5.5 2.5,4 .6,2 .1,1.5 -.5,1 -1,1 -1.3,.5 -1.7,.3 -3,.1 -4.1-.4 0,.5 .5,0 .5,.5 .6,0 1,1 .5,0 .5,.5 .5,0 .5,.5 .5,0 .5,.5 .5,0 1,1 .5,0 .5,.6 .5,0 .5,.5 .5,0 .5,.5 .5,0 .5,.5 .5,0 1,1 .5,0 .5,.5 .5,0 .5,.5 .5,0 .5,.5 .5,0 .5,.5 .5,0 .5,.5 .5,0 .5,.5 .5,0 .5,.5 .5,0 .5,.5 .5,0 .5,.5 .5,0 .5,.5 .5,0 .5,.5 .5,0 .5,.5 .5,0 .5,.5 .5,0 0,3.4 -13.7,0 -4.3-2 -1.5-.8 -4.1-1.7 -1.5-.8 -5-1.9 -4-1.1 -4-.7 -3.5-.1 -3.5,.2 -5.5,1.1 -3.1,.8 -4.9,.7 -3,.2 -2.5-.3 -1.5-.8 -.5,0 -.5-.4 -.5-.1 -.5-.4 -.5,0 -.5-.4 -.5-.1 -.5-.4 -3-1 -4.1-2 -7.5-4.5 -1.1-1 -.4-.1 -.5-.4 -.5-.1 -1-1 -9-1.9 -8.1-2.5 -8.4-3.5 -7.5-4 -7.6-5 -4.4-3.6 -3.5-3 -6.1-6.1 -6-7.3 0-118.8 1.5-2 4-4.7 4.5-4.8 5-4.4 5-4.1 5.2-3.5 5-3 4.9-2.5 5.8-2.5 4.1-1.5 4.9-1.5 4.3-1 5.4-.9 .5-.4 .5,0 1-.8 1.3-.4 5.2-.2 30.6,0 1-.2 .5-.4 .5,0 .5-.4 1,0 .5-.2 4,0 10.5-6.2 4-2.2 3.1-1.3 1.5-1 1-.2 1.5-.9 1-.2 .5-.4 .5-.1 .5-.4 .5-.1 .5-.5 1-.1 1.5-.9 1-.1 1.5-1 .5,0zM121.2,213.1l0,.2 1,0z"/>
<path fill="#34003f" d="M139.4,.5l.4-.3 .6-.2 7.9,0 0,3.3 -.5,0 -.5,.5 -.5,0 -.5,.5 -.5,0 -.5,.5 -.5,0 -.5,.5 -.5,0 -.5,.5 -.5,0 -.5,.5 -.5,0 -.5,.5 -.5,0 -.5,.5 -.5,0 -.5,.5 -.5,0 -.5,.5 -.5,0 -.5,.5 -.5,0 -.5,.5 -.5,0 -.5,.5 -.5,.1 -1,1 -.5,.1 -.6,.5 -2.7,8.5 -1.4,3.5 -2.1,4.5 -6,10.6 -8.3,12.9 -2.5,3.3 -2.5,2.8 -14.5,12.6 -2.5,2.6 -2.5,3.3 -1.8,3.5 -.3,1.5 .1,1.4 .6,1.1 3.2,3.5 1.4,2 .9,2 1.1,4 -7.7,9 -5.3,6.5 -2.9,3 -.4,.5 -.2,1 -1.1,.6 .4,2 5.5,22.5 1.7,4 .1,3 .2,1 2.5,5.9 3.5,7.4 2.5,4.4 2.5,3.5 3,3.5 11.6,12.3 5.3,6 3.9,5.1 1.3,2 .9,2 .5,1.5 0,1.5 -.5,1.1 -1,.9 -1.5,.5 -2,.3 -3-.1 -4-.6 0,.4 .5,0 1,1 .5,0 .5,.5 .5,0 1,1.1 .5,0 .5,.5 .5,0 1,1 .5,0 .5,.5 .5,0 1,1 .5,0 .5,.5 .5,0 .5,.5 .5,0 1,1 .5,0 .5,.5 .5,0 .5,.6 .6,0 1,1 .5,0 .5,.5 .5,0 .5,.5 .5,0 .5,.5 .5,0 1,1 .5,0 .5,.5 .5,0 .5,.5 .5,0 .5,.5 .5,0 .5,.5 .5,0 1,1 .5,0 .5,.5 .5,0 .5,.5 .5,0 .5,.5 .5,0 .5,.5 .5,0 .5,.5 .5,0 .5,.5 .5,0 .5,.5 .5,0 .5,.5 .5,0 .5,.5 .5,0 .5,.5 .5,0 .5,.5 .5,0 .5,.5 .5,0 .5,.5 .5,0 0,3.3 -7.9,0 -.6-.1 -.5-.5 -1,0 -.5-.5 -1,0 -.5-.5 -.5,0 -.5-.5 -1,0 -.5-.5 -.5,0 -.5-.5 -1,0 -.5-.5 -.5,0 -.5-.5 -.5,0 -.5-.5 -1,0 -.5-.5 -.5,0 -.5-.5 -1,0 -.5-.5 -.5,0 -.5-.5 -.5,0 -.6-.5 -1,0 -.5-.5 -.5,0 -.5-.5 -.5,0 -.5-.5 -.5,0 -.5-.5 -1,0 -.5-.5 -.5,0 -.5-.5 -.5,0 -.5-.5 -1,0 -.5-.5 -.5,0 -.5-.5 -.5,0 -.5-.5 -1,0 -.5-.5 -.5,0 -.5-.5 -.5,0 -.5-.5 -.5,0 -.5-.5 -.5,0 -.5-.5 -.5,0 -.5-.5 -.5,0 -.5-.5 -.5,0 -.5-.5 -.5,0 -.5-.5 -1,0 -.5-.5 -.5,0 -.5-.5 -.5,0 -.5-.5 -.5,0 -.5-.5 -.5,0 -.5-.5 -.5,0 -.5-.5 -.5,0 -.5-.5 -.5,0 -.5-.5 -.5,0 -.5-.5 -.5,0 -.5-.5 -.5,0 -.5-.5 -.5,0 -.5-.5 -.5,0 -.5-.5 -.5,0 -.5-.5 -.5,0 -.5-.5 -.5,0 -1-1 -.5,0 -.5-.5 -.5,0 -.5-.5 -.5,0 -.5-.5 -.5,0 -.5-.5 -.5,0 -1-1 -.5,0 -.5-.5 -.5,0 -.5-.5 -.5,0 -1-1 -.5,0 -.5-.5 -.5,0 -.5-.5 -.6,0 -1-1 -.5,0 -.5-.5 -.5,0 -1-1 -.5,0 -.5-.5 -.5,0 -1-1 -.5,0 -.5-.5 -.5,0 -1-1 -.5,0 -1-1 -.5,0 -.5-.5 -.5,0 -1.5-1.5 -.5,0 -1-1 -.5,0 -1.5-1.5 -.5,0 -.5-.5 -.5,0 -1-1 -.5,0 -1-1 -.5,0 -1.5-1.5 -.5,0 -1.5-1.5 -.5,0 -2.5-2.5 -.5,0 -1.5-1.5 -.5,0 -2-2 -.5,0 -3.5-3.5 -.5,0 -5-5 -.5,0 -1-1 0-.5 -7-7 0-.5 -2-2 0-.5 -2-2 0-.5 -1-1 0-.5 -.5-.5 0-.5 -.5-.5 0-.5 -.5-.5 0-1 -.5-.5 0-.5 -.5-.5 0-.5 -.5-.5 0-1 -.5-.5 0-1 -.5-.5 0-1 -.5-.5 0-1 -.5-.5 0-1 -.5-.5 0-1 -.5-.5 0-1.5 -.5-.5 0-1.5 -.5-.5 0-2 -.5-.5 0-2.5 -.5-.5 0-3.5 -.5-.5 0-18.6 .5-.5 0-3.5 .5-.5 0-2.5 .5-.5 0-2 .5-.5 0-1.5 .5-.5 0-1.5 .5-.5 0-1 .5-.5 0-1 .5-.5 0-1 .5-.5 0-1 .5-.5 0-1 .5-.5 0-1 .5-.5 0-.5 .5-.5 0-.5 .5-.5 0-1 .5-.5 0-.5 .5-.5 0-.5 .5-.5 0-.5 1-1 0-.5 2-2 0-.5 2-2 0-.5 7-7 0-.5 1-1 .5,0 5-5 .5,0 3.5-3.5 .5,0 2-2 .5,0 1.5-1.5 .5,0 2.5-2.5 .5,0 1.5-1.5 .5,0 1.5-1.5 .5,0 1-1 .5,0 1-1 .5,0 .5-.5 .5,0 1.5-1.5 .5,0 1-1 .5,0 1.5-1.5 .5,0 .5-.5 .5,0 1-1 .5,0 1-1 .5,0 .5-.5 .5,0 1-1 .5,0 .5-.5 .5,0 1-1 .5,0 .5-.5 .5,0 1-1 .5,0 .6-.5 .5,0 .5-.5 .5,0 1-1 .5,0 .5-.5 .5,0 .5-.5 .5,0 1-1 .5,0 .5-.5 .5,0 .5-.5 .5,0 .5-.5 .5,0 .5-.5 .5,0 1-1 .5,0 .5-.5 .5,0 .5-.5 .5,0 .5-.5 .5,0 .5-.5 .5,0 .5-.5 .5,0 .5-.5 .5,0 .5-.5 .5,0 .5-.5 .5,0 .5-.5 .5,0 .5-.5 .5,0 .5-.5 .5,0 .5-.4 .5,0 .5-.4 .5,0 .5-.4 1-.2 5.5,0 .5-.2 7-4.3 12.1-6.6 2.1-1.1 .9-.1 .5-.5 .5,0 .5-.5 .5-.1 .5-.4 1-.1 1.5-1 1-.1 1.5-.9 1-.1 .5-.5 1,0z"/>
<path fill="#420053" d="M139.8,.5l.5-.1 .5-.4 7.5,0 0,3.1 -.5,0 -.5,.5 -.5,0 -.5,.5 -.5,0 -.5,.5 -.5,0 -.5,.5 -.5,0 -.5,.5 -.5,0 -.5,.5 -.5,0 -.5,.5 -.5,0 -.5,.5 -.5,0 -.5,.5 -.5,0 -.5,.5 -.5,0 -.5,.5 -.5,0 -.5,.5 -.5,0 -.5,.5 -.5,0 -1,1.1 -.5,0 -.5,.5 -.5,0 -.5,.5 -.5,.1 -.5,.5 -.5,0 -.5,.5 -.5,0 -1,1.1 -.5,0 -.5,.5 -.5,0 -.5,.6 -.6,0 .1,.3 2,.1 .5,.2 .2,.4 .1,1.5 -.8,3.4 -2,5 -2.5,5.1 -3.1,5.5 -3.5,5.6 -3.5,4.9 -3,3.5 -15,14.1 -4.5,4.5 -2.5,3 -2.5,4 -1.5,3.5 -.2,1.5 .1,1 1,1.5 3,3 1.2,1.5 2.5,5.5 0,.5 -6.1,7.8 -7.3,9.7 -3.2,3.4 -.5,.1 -.1,2.1 5.4,22.5 .6,2 1.3,3 .2,3.5 1.6,4 5,10.5 4.5,8.3 3,4.4 6.7,8.3 2.9,4 2.2,3.5 1.1,2.6 .3,2 -.5,1.5 -1.2,1 -3,.8 -1,.5 -.6,.7 -.4,1.5 .5,.5 .5,0 1,1.1 .5,0 1,1 .5,0 .5,.5 .5,0 1,1.2 .5,0 1,1 .5,0 .5,.5 .5,0 1,1 .5,0 .5,.5 .5,0 1,1 .5,0 .5,.5 .5,0 1,1 .5,0 .5,.5 .5,0 .5,.5 .5,0 1,1.1 .5,0 .5,.5 .5,0 .5,.5 .6,0 1,1 .5,0 .5,.5 .5,0 .5,.5 .5,0 .5,.5 .5,0 1,1 .5,0 .5,.5 .5,0 .5,.5 .5,0 .5,.5 .5,0 .5,.5 .5,0 1,1 .5,0 .5,.5 .5,0 .5,.5 .5,0 .5,.5 .5,0 .5,.5 .5,0 .5,.5 .5,0 .5,.5 .5,0 .5,.5 .5,0 .5,.5 .5,0 .5,.5 .5,0 .5,.5 .5,0 .5,.5 .5,0 .5,.5 .5,0 .5,.5 .5,0 0,3.1 -7.6,0 -.4-.4 -.5,0 -.5-.5 -1,0 -.5-.5 -1,0 -.5-.5 -.5,0 -.5-.5 -1,0 -.5-.5 -.5,0 -.5-.5 -1,0 -.5-.5 -.5,0 -.5-.5 -.5,0 -.5-.5 -1,0 -.5-.5 -.5,0 -.5-.5 -1,0 -.5-.5 -.5,0 -.5-.5 -.5,0 -.6-.5 -1,0 -.5-.5 -.5,0 -.5-.5 -.5,0 -.5-.5 -.5,0 -.5-.5 -1,0 -.5-.5 -.5,0 -.5-.5 -.5,0 -.5-.5 -1,0 -.5-.5 -.5,0 -.5-.5 -.5,0 -.5-.5 -1,0 -.5-.5 -.5,0 -.5-.5 -.5,0 -.5-.5 -.5,0 -.5-.5 -.5,0 -.5-.5 -.5,0 -.5-.5 -.5,0 -.5-.5 -.5,0 -.5-.5 -.5,0 -.5-.5 -1,0 -.5-.5 -.5,0 -.5-.5 -.5,0 -.5-.5 -.5,0 -.5-.5 -.5,0 -.5-.5 -.5,0 -.5-.5 -.5,0 -.5-.5 -.5,0 -.5-.5 -.5,0 -.5-.5 -.5,0 -.5-.5 -.5,0 -.5-.5 -.5,0 -.5-.5 -.5,0 -.5-.5 -.5,0 -.5-.5 -.5,0 -.5-.5 -.5,0 -1-1 -.5,0 -.5-.5 -.5,0 -.5-.5 -.5,0 -.5-.5 -.5,0 -.5-.5 -.5,0 -1-1 -.5,0 -.5-.5 -.5,0 -.5-.5 -.5,0 -1-1 -.5,0 -.5-.5 -.5,0 -.5-.5 -.6,0 -1-1 -.5,0 -.5-.5 -.5,0 -1-1 -.5,0 -.5-.5 -.5,0 -1-1 -.5,0 -.5-.5 -.5,0 -1-1 -.5,0 -1-1 -.5,0 -.5-.5 -.5,0 -1.5-1.5 -.5,0 -1-1 -.5,0 -1.5-1.5 -.5,0 -.5-.5 -.5,0 -1-1 -.5,0 -1-1 -.5,0 -1.5-1.5 -.5,0 -1.5-1.5 -.5,0 -2.5-2.5 -.5,0 -1.5-1.5 -.5,0 -2-2 -.5,0 -3.5-3.5 -.5,0 -5-5 -.5,0 -.7-.7 0-.5 -7-7 0-.5 -2-2 0-.5 -2-2 0-.5 -1-1 0-.5 -.5-.5 0-.5 -.5-.5 0-.5 -.5-.5 0-1 -.5-.5 0-.5 -.5-.5 0-.5 -.5-.5 0-1 -.5-.5 0-1 -.5-.5 0-1 -.5-.5 0-1 -.5-.5 0-1 -.5-.5 0-1 -.5-.5 0-1.5 -.5-.5 0-1.5 -.5-.5 0-2 -.5-.5 0-2.5 -.5-.5 0-3.5 -.5-.5 0-18.6 .5-.5 0-3.5 .5-.5 0-2.5 .5-.5 0-2 .5-.5 0-1.5 .5-.5 0-1.5 .5-.5 0-1 .5-.5 0-1 .5-.5 0-1 .5-.5 0-1 .5-.5 0-1 .5-.5 0-1 .5-.5 0-.5 .5-.5 0-.5 .5-.5 0-1 .5-.5 0-.5 .5-.5 0-.5 .5-.5 0-.5 1-1 0-.5 2-2 0-.5 2-2 0-.5 7-7 0-.5 .7-.7 .5,0 5-5 .5,0 3.5-3.5 .5,0 2-2 .5,0 1.5-1.5 .5,0 2.5-2.5 .5,0 1.5-1.5 .5,0 1.5-1.5 .5,0 1-1 .5,0 1-1 .5,0 .5-.5 .5,0 1.5-1.5 .5,0 1-1 .5,0 1.5-1.5 .5,0 .5-.5 .5,0 1-1 .5,0 1-1 .5,0 .5-.5 .5,0 1-1 .5,0 .5-.5 .5,0 1-1 .5,0 .5-.5 .5,0 1-1 .6,0 .5-.5 .5,0 .5-.5 .5,0 1-1 .5,0 .5-.5 .5,0 .5-.5 .5,0 1-1 .5,0 .5-.5 .5,0 .5-.5 .5,0 .5-.5 .5,0 .5-.5 .5,0 1-1 .5,0 .5-.5 .5,0 .5-.5 .5,0 .5-.5 .5,0 .5-.5 .5,0 .5-.5 .5,0 .5-.5 .5,0 .5-.5 .5,0 .5-.5 .5,0 .5-.5 .5,0 .5-.5 .5,0 .5-.5 .5,0 .5-.4 .5,0 .5-.3 7.5,0 1-.3 7-4.3 2-1 5.4-3.1 2.7-1.3 1.9-1.2 3.6-1.7 1.9-1.3 5.1-2.5 .5,0 .5-.5 1-.1z"/>
<path fill="#4b0067" d="M114.9,23l4.8-.2 1.6,.2 1.2,.5 .7,1 0,1 -1,3.5 -1.5,3.1 -2,3.5 -4,5.5 -5.3,6 -17.2,17.6 -4,4.8 -3,4.8 -2,4.3 -.4,1.5 .1,1.5 .9,1.5 3.1,3 1.3,1.5 2.6,5.5 -3.6,4.9 -7.9,11.6 -2.3,3 -2.3,2.4 -.1,.7 .1,2.7 2.5,13.4 2,8.9 1.7,4.5 -.1,2.5 .2,1 10.7,21.7 3.5,6.5 4.2,7.3 1.7,3.5 .6,2 .1,1.5 -.7,4.1 -.3,5 .9,1.1 .5,0 1,1.1 .5,0 1,1 .5,0 1,1.1 .5,0 .5,.5 .5,0 .7,.7 -.2,.4 -.5-.5 -.5,0 -.5-.5 -1,0 -1-1 -.5,0 -.5-.5 -1,0 -1-1 -1,0 -.5-.5 -.5,0 -1-1 -1,0 -1-1 -1,0 -.5-.5 -.5,0 -1-1 -1,0 -1-1 -.5,0 -.5-.5 -.5,0 -.5-.5 -.5,0 -.5-.5 -.5,0 -.5-.5 -.5,0 -1-1 -.5,0 -.5-.5 -.5,0 -.5-.5 -.5,0 -.5-.5 -.5,0 -1-1 -.5,0 -.5-.5 -.5,0 -1-1 -.5,0 -.5-.5 -.5,0 -1-1 -.5,0 -.5-.5 -.5,0 -1-1 -.6,0 -.5-.5 -.5,0 -.5-.5 -.5,0 -1.5-1.5 -.5,0 -.5-.5 -.5,0 -1-1 -.5,0 -1-1 -.5,0 -1.5-1.5 -.5,0 -1-1 -.5,0 -.5-.5 -.5,0 -1.5-1.5 -.5,0 -1-1 -.5,0 -1.5-1.5 -.5,0 -.9-1 -.1-.5 -.5,0 -1-1 -.5,0 -1.5-1.5 -.5,0 -2.5-2.5 -.5,0 -3.5-3.5 -.5-.1 -.4-.4 -.1-.5 -.5-.1 -7.5-7.4 0-.5 -3-3 0-.5 -.5-.5 0-.5 -.5-.5 0-.5 -.5-.5 0-.5 -.5-.5 0-.5 -.5-.5 0-.5 -.5-.5 0-.5 -.5-.5 0-.5 -.5-.5 0-1 -.5-.5 0-.5 -.5-.5 0-.5 -.5-.5 0-1 -.5-.5 0-1 -.5-.5 0-1 -.5-.5 0-1 -.5-.5 0-1.5 -.5-.5 0-1.5 -.5-.5 0-1.5 -.5-.5 0-2.5 -.5-.5 0-3.5 -.5-.5 0-15.6 .5-.5 0-3.5 .5-.5 0-2.5 .5-.5 0-1.5 .5-.5 0-1.5 .5-.5 0-1.5 .5-.5 0-1 .5-.5 0-1 .5-.5 0-1 .5-.5 0-1 .5-.5 0-.5 .5-.5 0-.5 .5-.5 0-1 .5-.5 0-.5 .5-.5 0-.5 .5-.5 0-.5 .5-.5 0-.5 .5-.5 0-.5 .5-.5 0-.5 .5-.5 0-.5 .5-.5 0-.5 3-3 0-.5 2-2 5.5-5.4 .5-.1 .1-.5 .4-.4 .5-.1 3.5-3.5 .5,0 2.5-2.5 .5,0 1.5-1.5 .5,0 1-1 .5,0 .1-.5 .9-1 .5,0 1.5-1.5 .5,0 1-1 .5,0 1.5-1.5 .5,0 .5-.5 .5,0 1-1 .5,0 1.5-1.5 .5,0 1-1 .5,0 1-1 .5,0 .5-.5 .5,0 1.5-1.5 .5,0 .5-.5 .5,0 .5-.5 .6,0 1-1 .5,0 .5-.5 .5,0 1-1 .5,0 .5-.5 .5,0 1-1 .5,0 .5-.5 .5,0 1-1 .5,0 .5-.5 .5,0 .5-.5 .5,0 .5-.5 .5,0 1-1 .5,0 .5-.5 .5,0 .5-.5 .5,0 .5-.5 .5,0 .5-.5 .5,0 1-1 1,0 1-1 .5,0 .5-.5 1,0 1-1 1,0 1-1 .5,0 .5-.5 1,0 1-1 1,0 .5-.5 .5,0 1-1 1,0 .5-.5 .5,0 .5-.5 .5,.3 .5,0 1-.9 .5,0 .5-.3z"/>
<path fill="#50007c" d="M108.1,25l.3,0 -.2,.2zM107.1,25.5l.8,0 -.2,.2 -.5,0zM105.6,26l1.3,0 -.2,.2 -.5,0 -1,1.1 -.5,0 -1,1 -.5,0 -1,1.1 -.5,0 -.5,.8 3.5-.8 3-.4 2.5,0 2,.4 1.2,.6 .9,1 .2,1.5 -.4,2 -.9,2 -1.2,2.1 -3.6,5 -5.1,6 -10.1,11.2 -3.5,4.4 -3,4.3 -3.7,6.6 -.8,2 -.4,1.5 -.1,1 .3,1 .6,1 3.2,3 1.3,1.5 .6,1 1,2.5 .9,1.5 -.1,.5 -4.3,6.5 -6.4,10.5 -2.5,3.5 -1.6,1.8 -.2,1.3 .2,3.6 2,13.3 1.5,7.6 1.6,4.5 -.3,2.5 .2,1 12.3,24 3.5,7.5 1.9,4.5 1.2,4 .6,4.6 .1,4 -.7,2 .6,.1 1,1.2 .5,0 1,1.1 .5,0 1,1 .5,0 1,1 .5,0 1,1 .5,0 0,.2 -1,0 -1-1 -.5,0 -.5-.5 -1,0 -1-1 -1,0 -.5-.5 -.5,0 -1-1 -1,0 -1-1 -1,0 -.5-.5 -.5,0 -1-1 -1,0 -1-1 -.5,0 -.5-.5 -.5,0 -.5-.5 -.5,0 -.5-.5 -.5,0 -.5-.5 -.5,0 -1-1 -.5,0 -.5-.5 -.5,0 -.5-.5 -.5,0 -.5-.5 -.5,0 -1-1 -.5,0 -.5-.5 -.5,0 -1-1 -.5,0 -.5-.5 -.5,0 -1-1 -.5,0 -.5-.5 -.5,0 -1-1 -.6,0 -.5-.5 -.5,0 -.5-.5 -.5,0 -1.5-1.5 -.5,0 -.5-.5 -.5,0 -1-1 -.5,0 -1-1 -.5,0 -1.5-1.5 -.5,0 -1-1 -.5,0 -.5-.5 -.5,0 -1.5-1.5 -.5,0 -1-1 -.5,0 -1.5-1.5 -.5,0 -.6-.7 0-.5 -.4-.3 -.5,0 -1-1 -.5,0 -1.5-1.5 -.5,0 -2.5-2.5 -.5,0 -3.5-3.5 -.5,0 -.2-.7 -.3-.3 -.5,0 -5.2-5.2 -2-2 0-.5 -3-3 0-.5 -.5-.5 0-.5 -.5-.5 0-.5 -.5-.5 0-.5 -.5-.5 0-.5 -.5-.5 0-.5 -.5-.5 0-.5 -.5-.5 0-.5 -.5-.5 0-1 -.5-.5 0-.5 -.5-.5 0-.5 -.5-.5 0-1 -.5-.5 0-1 -.5-.5 0-1 -.5-.5 0-1 -.5-.5 0-1.5 -.5-.5 -.1-1.5 -.4-.5 -.1-1.5 -.5-.5 0-2.5 -.5-.5 0-3.5 -.5-.5 0-15.6 .5-.5 0-3.5 .5-.5 .1-2.5 .4-.5 .1-1.5 .5-.5 0-1.5 .5-.5 0-1.5 .5-.5 0-1 .5-.5 0-1 .5-.5 0-1 .5-.5 0-1 .5-.5 0-.5 .5-.5 0-.5 .5-.5 0-1 .5-.5 0-.5 .5-.5 0-.5 .5-.5 0-.5 .5-.5 0-.5 .5-.5 0-.5 .5-.5 0-.5 .5-.5 0-.5 .5-.5 0-.5 3-3 0-.5 2-2 5.2-5.2 .5,0 .3-.3 .2-.7 .5,0 3.5-3.5 .5,0 2.5-2.5 .5,0 1.5-1.5 .5,0 1-1 .5,0 .4-.3 0-.5 .6-.7 .5,0 1.5-1.5 .5,0 1-1 .5,0 1.5-1.5 .5,0 .5-.5 .5,0 1-1 .5,0 1.5-1.5 .5,0 1-1 .5,0 1-1 .5,0 .5-.5 .5,0 1.5-1.5 .5,0 .5-.5 .5,0 .5-.5 .6,0 1-1 .5,0 .5-.5 .5,0 1-1 .5,0 .5-.5 .5,0 1-1 .5,0 .5-.5 .5,0 1-1 .5,0 .5-.5 .5,0 .5-.5 .5,0 .5-.5 .5,0 1-1 .5,0 .5-.5 .5,0 .5-.5 .5,0 .5-.5 .5,0 .5-.5 .5,0 1-1 1,0 1-1 .5,0 .5-.5 1,0 1-1 1,0 1-1 .5,0 .5-.5 1,0 1-1 1,0 .5-.5 .5,0z"/>
<path fill="#4f0092" d="M97.5,34.5l2.7-.4 2,0 1.5,.1 1.5,.5 1,.8 .5,1 .1,1 -.3,1.6 -1.3,3 -2.5,4 -11,13.9 -3,4.2 -3.5,5.8 -3.9,7.6 -.5,1.5 -.1,1 .4,1.5 .9,1 4.1,4 2.6,5 -.5,1.5 -10.1,17 -3.4,4.8 -.2,.8 .2,5.8 1.5,12.7 1.1,6.5 1.4,4.5 0,1 -.5,1.5 0,1 .4,1 4.3,7 6.8,13.1 3.1,6.4 2.7,6.5 1.7,5.5 .6,4.6 -.1,1.5 -.5,1 -.5,.3 -1,.1 -3-.7 -1.5-1.1 -.5,0 -1-.9 -.5,0 -1.5-1.4 -.5-.1 -1.5-1.4 -.5,0 -1.5-1.5 -.5,0 -2-1.9 -.5,0 -2-2 -.5,0 -2-2 -.5,0 -4.1-3.1 -6.5-5.5 -3.6-3.4 -.4,0 -.4-.5 -.2-.5 -.4,0 -1.5-1.5 -.5,0 -1.5-1.5 -.5,0 -2.5-2.5 -.5,0 -3-3 -.5,0 -.5-.5 0-.5 -.5,0 -9.9-10 -4.5-5.5 -2.3-3.5 -3.5-7 -1.6-4.5 -1-4 -.8-5 -.1-5.6 .2-5.5 .8-4 1-4 1.7-4.5 3.5-7 2.2-3.5 4.6-6 3.2-3.2 0-.3 6.5-6.5 .5,0 0-.5 .5-.5 .5,0 3-3 .5,0 2.5-2.5 .5,0 1.5-1.5 .5,0 1.5-1.5 .4,0 .2-.5 .4-.5 .4,0 3.6-3.4 6.5-5.5 4.1-3.1 .5,0 2-2 .5,0 2-2 .5,0 2-1.9 .5,0 1.5-1.5 .5,0 1.5-1.4 .5-.1 1.5-1.4 .5,0 1-.9 .5,0 1.5-1.1z"/>
<path fill="#4700ad" d="M93.6,38.6l3.1-.2 1.5,.2 1,.5 .7,.5 .5,1 .2,1 -.3,1.5 -.9,2.5 -1.7,3 -7.5,11 -2.5,4.1 -6.8,12.4 -.9,2 -.3,1.5 .3,1.5 .8,1 4.4,4 .7,1 .8,2 1.2,2 -.4,2 -10,17.5 -2.8,4.2 -.3,1.4 .2,5.5 1.1,12.4 .5,4.7 .5,2.7 .5,1.7 0,.6 .4,1.9 -.7,2 -.1,1 .4,1 3.5,5 2.3,4 7.2,13.8 3,6.7 2,5.6 .8,4.4 0,1.5 -.3,.8 -.5,.4 -1,.3 -3-.4 -4-1.1 -1-.4 -.5-.5 -.5,0 -1.5-1.4 -.5,0 -2-1.9 -.5-.1 -2-1.9 -.5,0 -2-1.9 -.5,0 -3.1-2.9 -.5,0 -7-6.5 -.5-.1 -1-1 -.5-.1 -1.5-1.5 -.5-.1 -.5-.9 -.5-.1 -1.5-1.5 -.5,0 -1.5-1.5 -.5,0 -2.5-2.5 -.5,0 -3-3 -.5,0 -.2-.2 0-.5 -.3-.3 -.5,0 -6.2-6.2 0-.5 -1-1 -.1-.5 -.5-.5 0-.5 -1-1 0-.5 -.5-.5 0-.5 -.5-.5 0-.5 -.5-.5 0-.5 -.5-.5 0-.5 -.5-.5 0-.5 -.5-.5 -.1-1 -.5-.5 0-.5 -.5-.5 0-.5 -.5-.5 0-1 -.5-.5 0-1 -.5-.5 -.1-1 -.4-.5 -.1-1 -.5-.5 0-1 -.5-.5 0-1.5 -.5-.5 0-1.4 -.5-.6 0-.8 -.8-2.7 -.7-4 -.2-4.5 .3-6.6 .9-4 0-1 .5-.5 0-2.5 .5-.5 0-1.5 .5-.5 .1-1.5 .4-.5 .1-1 .5-.5 0-1 .5-.5 0-1 .5-.5 0-1 .5-.5 0-1 .5-.5 0-.5 .5-.5 .1-.5 .4-.5 .1-1 .5-.5 0-.5 .5-.5 0-.5 .5-.5 0-.5 .5-.5 0-.5 .5-.5 0-.5 .5-.5 0-.5 1-1 0-.5 .5-.5 .1-.5 1-1 0-.5 6.2-6.2 .5,0 .3-.3 0-.5 .2-.2 .5,0 3-3 .5,0 2.5-2.5 .5,0 1.5-1.5 .5,0 1.5-1.5 .5-.1 .5-.9 .5-.1 1.5-1.5 .5-.1 1-1 .5-.1 7-6.5 .5,0 3.1-2.9 .5,0 2-1.9 .5,0 2-1.9 .5-.1 2-1.9 .5,0 1.5-1.4 .5,0 1-.7 3.5-1.1z"/>
<path fill="#3400cf" d="M87.4,42.6l3.8-.5 2.5,.4 .9,.6 .6,.9 .2,1.1 0,1 -.6,2 -1.4,3 -13.8,25.5 -.7,1.5 -.2,1.5 .3,1 1.2,1.5 3.6,3 1.2,1.5 1.2,2.5 1,1.5 -.1,2 -8.2,15 -3.5,6 -.7,1.1 -.3,1 0,2 .3,6.1 .7,9.9 .7,7.5 .4,2 0,3 -.8,2 0,1 .8,1.5 3.7,4.9 2,3.3 7.1,13.8 2.4,5.4 1.6,4.6 .5,2 .1,1.5 -.2,1.3 -.5,.6 -1,.5 -1,.1 -4-.5 -5.5-1.6 -1-.4 -2-1.8 -.5-.1 -2-1.8 -.5-.1 -3.1-2.8 -.5-.1 -6-5.8 -.5-.1 -4.2-3.4 -.8-.9 -.2-.1 -3.1-3 -.2-.4 -8-8.6 -4-3.6 -4.5-4.4 -2-2.5 0-.5 -.5-.5 -.1-.5 -.5-.5 0-.5 -.5-.5 0-1 -.5-.5 0-.5 -.5-.5 0-.5 -.5-.5 -.1-1 -.4-.5 -.1-1 -.5-.5 0-1 -.5-.5 0-1 -.5-.5 0-1 -.5-.5 -.1-1.5 -.4-.5 -.1-1.5 -.5-.5 0-2.5 -.5-.5 0-3.5 -.5-.5 0-12.6 .5-.5 .1-3.5 .4-.5 .1-2.5 .5-.5 0-1.5 .5-.5 0-1.5 .5-.5 0-1 .5-.5 .1-1 .5-.5 0-1 .5-.5 0-1 .5-.5 0-1 .5-.5 0-.5 .5-.5 0-.5 .5-.5 .1-1 .5-.5 0-.5 .5-.5 0-.5 .5-.5 0-.2 2.2-2.8 4.3-4.3 4-3.7 8.5-9.3 5.5-5.2 .5-.2 2-1.7 .5-.1 6-5.8 .5-.1 3.1-2.8 .5-.1 2-1.8 .5-.1 2-1.8 3-1.1z"/>
<path fill="#1400ed" d="M84,45.6l3.2-.3 1.5,.2 1,.4 .8,.7 .4,.5 .2,1 0,1.5 -.7,3.5 -1.4,3.5 -6.3,12.7 -4.2,7.3 -.8,2 .2,1.5 .6,1 4.4,3.5 1.3,1.5 1.2,2.5 1,1.5 .1,1 .2,1 -8.3,16 -3.7,6.5 -.1,.5 -.3,.6 .2,6 .5,9.5 .7,8.3 .4,3.7 -.3,3 -1.2,2.5 .4,1.5 4.5,6 2.4,4 5.5,11 2.4,5.5 1,4 .1,2.5 -.5,1 -.7,.7 -1,.4 -1.5,.2 -3-.2 -4-.9 -2.5-.8 -1.5-1.3 -.5,0 -3.1-2.8 -.5-.1 -6-5.8 -.5,0 -.9-.9 -8-8 -4.7-5 -.2-.5 -1.4-1.5 -.1-.5 -1.4-1.5 -.2-.5 -.9-1 -.1-.5 -.9-1 -.2-.5 -1.9-2.5 -.1-.5 -.4-.5 -.1-.3 -6.7-9.7 -1.2-2 -2-4 -1.7-4.5 -.4-2 -.5-1.4 -.1-2.6 -.4-.5 0-12 .1-.6 .3-.5 .4-2.5 1.1-3.5 1.8-4 3-6 4.8-8 1.5-2 .6-1.5 .9-1 .1-.5 2-2.5 .1-.5 .9-1 .2-.5 1.4-1.5 .1-.5 1.4-1.5 .2-.5 2.8-3 9.8-10 1-.9 .5,0 6-5.8 .5-.1 3.1-2.8 .5,0 1.5-1.3 2.5-.8z"/>
<path fill="#000aff" d="M82.1,47.6l3.1,.1 1,.3 1,.6 .8,1 .5,1 .2,1.5 -.1,1.5 -1.3,4 -3.4,7.5 -3.2,6 -3.3,5.5 -.6,1.5 -.1,1 .3,1 .8,1 3.9,2.8 1.8,1.7 .6,1 .8,2 1,1.5 -.1,.5 .4,1.5 -7.7,15.5 -3.8,7 -.1,.5 -.3,.6 .6,16 .5,8.5 .4,3 -.5,2.5 -1.5,2.5 -.2,1 .7,1.5 4.8,6.5 2.5,4 2.3,4.5 2.1,4.5 2.3,6 .3,1.5 0,1.5 -.3,1.5 -.6,1 -1,.9 -1,.4 -2.5,.3 -3.5-.3 -3-.7 -1.5-.7 -2.6-2.2 -.5-.1 -6-5.7 -.5-.1 -3.9-3.8 -.1-.5 -5-5 -5.7-6.5 -2.8-3.5 -.2-.5 -.8-1 -.2-.5 -.9-1 -.1-.5 -.9-1 -1.2-2.5 -.8-1 -3.2-6 -4-8.5 -1.3-4 -.8-3 -.7-4 -.2-4 .1-4.1 .3-3 1.6-6 1.6-4.5 2.4-6 3.1-6.5 1.1-2 .8-1 1.3-2.5 .8-1 .2-.5 .8-1 .2-.5 .9-1 .2-.5 2.7-3.5 5.7-6.5 5-5 .1-.5 3.9-3.8 .5-.1 6-5.7 .5-.1 2.6-2.2 1.5-.7 2.5-.6z"/>
<path fill="#0028ff" d="M76.8,49.6l4.4-.4 1.5,.1 1.5,.4 1,.5 .8,.9 .6,1 .2,1.5 -.2,1.5 -.5,2 -2.4,6 -3.3,6.5 -4.2,7 -.7,2 .1,1 .7,1 4.9,3.3 1.8,1.7 .6,1 .4,1.5 1.2,1.5 0,1 .5,1 -6.7,14.5 -4.3,8.4 -.1,.6 -.4,.6 .5,16.5 .4,8 .4,3 -.9,2.5 -1.9,2.5 -.2,1 .6,1.5 5.1,7 2.5,4.1 3.4,6.9 2.3,6 .3,1.5 .1,1.5 -.2,1 -.6,1 -.8,.9 -1,.5 -1.5,.4 -1.5,.1 -3-.2 -2.5-.4 -2.1-.9 -2-1.4 -5.5-5.2 -.5-.1 -3.8-3.7 -.1-.5 -5-5 0-.5 -2.5-2.5 -.1-.4 -2-2.1 -3.7-5 -3.1-4.5 -2.4-4 -2.1-4 -2.3-5 -1.7-4.5 -1.5-5 -1.1-6 -.1-2.5 0-4.6 .2-3.5 .9-4.5 1.2-4.5 1.8-5 1.6-4 2.7-5.5 2.8-5 3.1-4.5 3.7-5 2-2.1 .1-.4 2.4-2.5 .1-.5 5-5 .1-.5 3.1-3 .7-.7 .5-.1 6-5.6 2.6-1.5z"/>
<path fill="#0046ff" d="M77.8,50.6l3.4,0 1.5,.3 1,.5 .7,.7 .6,1 .1,2 -.7,3 -1.7,4.5 -3.3,6.5 -4.2,7.2 -.6,1.3 -.1,1.5 .4,1 .4,.5 4.9,2.9 2,1.6 .7,1 .7,2 .7,1 .2,1 .5,1 0,.5 -6.6,15 -3.7,7.8 -.1,.7 -.4,.6 .3,18.5 .3,6.5 .3,2.5 -1.1,2.5 -2.3,2.5 -.2,1 .5,1.5 5.3,7.5 2.9,4.9 2.5,5.1 2,5.5 .5,3 -.2,1 -.6,1 -.7,.7 -1,.5 -1.5,.3 -1.5,.1 -3-.2 -2.5-.6 -1.8-.8 -2.3-1.5 -4-3.8 -.5-.1 -3.6-3.6 -.1-.5 -5.1-5 -.1-.5 -2.4-2.5 -.1-.5 -2-2 -.1-.5 -1.5-1.5 0-.5 -1.5-1.5 0-.5 -1-1 0-.4 -1-1.1 0-.4 -3-4.6 -3.1-6 -2.7-6 -1.7-5 -1.2-5 -.6-4.5 -.2-3.5 .1-5.1 .6-4 1-4.5 1.5-5 1.5-4 2-4.5 2.8-5.5 3-4.6 0-.4 1-1 0-.5 1-1 0-.5 1.5-1.5 0-.5 1.5-1.5 .1-.5 2-2 .1-.5 2.4-2.5 .1-.5 5-5 .2-.5 3.6-3.6 .5-.1 4-3.8 2.5-1.7 2.1-.8z"/>
<path fill="#0067ff" d="M75.7,52.1l2-.3 2,.1 1.1,.2 1.3,.5 .6,.5 .6,1 .1,2 -.7,3 -1.6,4 -3.2,6.5 -3.8,6.5 -.5,1.5 -.1,1.5 .4,1 .5,.5 5.3,2.8 2.1,1.7 .7,1 .7,2 .6,1 .2,1 .6,1 -6.2,15 -3.7,8.2 -.1,.8 -.5,.6 .2,18.5 .2,6.5 .2,2.5 -1.4,2.5 -2.5,2.5 -.2,1 .2,1 .8,1.5 4.5,6.5 2.5,4.5 2.5,5 1.9,5 .4,2.5 0,1 -.3,1 -.4,.6 -1,.6 -1.5,.5 -1.5,.1 -3-.3 -3.1-.8 -1.5-.7 -3.5-2.5 -5.5-4.9 -.1-.6 -5.1-5 -.1-.5 -2.5-2.5 0-.5 -2-2 -.1-.5 -1.5-1.5 -.1-.5 -1.4-1.5 -.1-.5 -.9-1 -.1-.5 -.9-1 -.1-.5 -.5-.5 0-.5 -1-1 0-.5 -.5-.5 0-.5 -1-1 0-.5 -.5-.5 0-.5 -.5-.5 0-.5 -.5-.5 0-.5 -.5-.5 0-.4 -1-1.6 0-.4 -1.5-3.1 -1.2-3 -1.6-5 -1-4.5 -.6-4 -.2-4 0-3.6 .4-4 1-5 1.2-4.5 1.5-4.5 .5-.8 0-.7 .5-.5 0-.5 1-1.8 0-.7 .5-.5 0-.5 .5-.5 0-.5 .5-.5 0-.5 .5-.5 0-.5 .5-.5 0-.5 .5-.5 0-.5 1-1 0-.5 .5-.5 0-.5 1-1 0-.5 .5-.5 .1-.5 .9-1 .1-.5 .9-1 .1-.5 1.4-1.5 .1-.5 1.5-1.5 .1-.5 2-2 0-.5 2.5-2.5 .1-.5 5.1-5 .1-.5 2-2 3.5-3 3.5-2.5 2-.9z"/>
<path fill="#0087ff" d="M76.1,53.6l2.3,0 1.8,.6 .5,.4 .5,1 .1,2 -.7,3 -1.6,4 -6.1,12 -.3,1.5 0,1 .4,1 .5,.5 5.7,2.7 2.2,1.8 .7,1 .5,1.5 .6,1 .1,1 .6,1 .1,.5 -5.7,14.5 -3.6,8.7 -.1,.8 -.5,.6 -.1,18.5 .2,6.5 .2,2.5 -1.7,2.5 -2.7,2.5 -.3,1 .2,1 .8,1.5 4.2,6.5 1.9,3.5 2.4,5 1.7,4.5 .4,2.5 0,1 -.3,1 -.3,.5 -1,.7 -2,.4 -3-.3 -3.1-.9 -2.9-1.4 -2.2-1.5 -4.4-3.7 0-.3 -5.1-5 -.1-.5 -2.5-2.5 -.1-.5 -1.9-2 -.1-.5 -1.6-1.5 0-.5 -1.5-1.5 0-.5 -1-1 0-.5 -1-1 0-.5 -.5-.5 -.1-.5 -.9-1 -.1-.5 -.4-.5 -.1-.5 -.9-1 0-.5 -.5-.5 -.1-.5 -.4-.5 -.1-.5 -.4-.5 -.1-.5 -.4-.5 -.1-.5 -.9-1.5 -.1-1 -1-1.5 0-.5 -.4-.5 -.1-.8 -.5-.7 0-.6 -1.5-3.9 -1.3-5 -.9-6 -.2-3.5 .1-4.6 .4-3.5 .9-5 .5-1.1 0-.9 .5-.8 .1-1.2 .4-.5 .1-1 .4-.5 .1-1 .4-.5 .1-1 .4-.5 .1-1 .9-1.5 .1-.5 .4-.5 .1-1 .9-1.5 .1-.5 .4-.5 .1-.5 .4-.5 .1-.5 .4-.5 .1-.5 .5-.5 0-.5 .9-1 .1-.5 .5-.5 0-.5 .9-1 .1-.5 .5-.5 0-.5 1-1 0-.5 1-1 0-.5 1.5-1.5 0-.5 1.6-1.5 .1-.5 1.9-2 .1-.5 2.5-2.5 .1-.5 6.1-6.2 4-3.3 2.5-1.6 3-1.2z"/>
<path fill="#00a8ff" d="M73,56.1l2.7-.3 1,.1 1,.5 .5,.4 .4,.8 .1,2 -.4,2.5 -.8,2.5 -2.1,5 -3.4,7 -.3,1.5 0,1 .5,1 .5,.5 .8,.5 4.7,1.9 2.4,1.6 .8,1 .8,2 .7,1 .3,1.5 .4,.5 -5.7,15.5 -3.2,8.1 -.1,.9 -.5,.6 -.3,18.5 .1,6.5 .2,2.5 -.3,.5 -1.7,2 -2.5,2 -.4,.5 -.3,1 .2,1 .7,1.5 3.7,6 1.6,3 2.4,5.5 .8,2.5 .4,2.5 -.1,2 -.4,.8 -.5,.4 -1,.5 -1,.1 -2.6-.2 -3.5-1.1 -3-1.4 -3-2.1 -3.5-3 -3-3 -.1-.5 -2.5-2.5 -.1-.5 -1.9-2 -.1-.5 -1.6-1.5 -.1-.5 -1.5-1.5 0-.5 -1-1 0-.5 -1-1 0-.5 -.5-.5 0-.5 -1-1 0-.5 -.5-.5 0-.5 -1-1 0-.5 -.5-.5 0-.5 -.5-.5 0-.5 -.5-.5 0-.5 -.5-.5 0-.5 -1-1.5 -.1-1 -.4-.5 -.1-.5 -.9-1.5 -.1-1 -.4-.5 -.1-1 -.4-.5 -.1-1 -.4-.5 -.1-1 -.4-.5 -.1-1.2 -.5-.8 0-1 -.5-1 -1-7 -.2-3.5 .2-6.1 .5-4 .5-1.2 .1-1.8 .4-.5 .1-1.5 .4-.5 .1-1.5 .4-.5 .1-1 .4-.5 .1-1 .4-.5 .1-1 .5-.5 0-1 1-1.5 0-.5 .5-.5 0-1 1-1.5 0-.5 .5-.5 0-.5 .5-.5 0-.5 .5-.5 0-.5 .5-.5 0-.5 1-1 0-.5 .5-.5 0-.5 1-1 0-.5 .5-.5 0-.5 1-1 0-.5 1-1 0-.5 1.5-1.5 .1-.5 1.6-1.5 .1-.5 1.9-2 .1-.5 2.5-2.5 .1-.5 4-3.9 3-2.5 2.5-1.7 3-1.4z"/>
<path fill="#00caff" d="M71,58.6l2.1-.2 1.6,.4 1,.8 .3,1 .2,1 -.3,2.5 -.9,3 -1.1,3 -2.8,6.5 -.3,1.5 .3,1.5 .7,1 .9,.5 5,1.8 2.5,1.7 .9,1 .8,2 .7,1 .1,1 .4,1 -5.6,16 -2.8,7.5 -.1,1 -.5,.6 -.5,18.5 0,6.5 .2,2.5 -.3,.5 -1.9,1.9 -2.7,2.1 -.4,.5 -.3,1 .2,1 .7,1.8 4.5,8.2 1.2,3 1.1,3.5 .3,2.5 -.3,1.5 -.7,1 -.5,.3 -1.6,.4 -2.5-.3 -3-.9 -3-1.3 -2.5-1.6 -2-1.6 -3-2.8 -2.5-2.7 -.1-.5 -1.9-2 -.1-.5 -1.7-1.5 0-.5 -1.5-1.5 0-.5 -1-1 -.1-.5 -.9-1 -.1-.5 -.4-.5 -.1-.5 -.9-1 -.1-.5 -.4-.5 -.1-.5 -.9-1 -.1-.5 -.4-.5 -.1-.5 -.4-.5 -.1-.5 -.4-.5 -.1-.5 -.4-.5 -.1-.5 -.9-1.5 -.1-1 -.5-.5 0-.5 -.9-1.5 -.1-1 -.4-.5 -.1-1 -.5-.5 -.1-1 -.4-.5 -.1-1 -.4-.5 -.1-1.5 -.4-.5 -.1-1.5 -.4-.5 -.1-2 -.4-1 -.1-2 -.2-1.5 -.3-.5 0-1 .1-8.6 .2-.5 .2-.9 .1-2.6 .4-.5 .1-2.5 .4-.5 .2-1.5 .4-.5 .1-1.5 .4-.5 .1-1 .4-.5 .1-1 .4-.5 .1-1 .4-.5 .1-1 .9-1.5 .1-.5 .4-.5 .1-1 .9-1.5 .1-.5 .4-.5 .1-.5 .4-.5 .1-.5 .4-.5 .1-.5 .4-.5 .1-.5 .9-1 .1-.5 .4-.5 .1-.5 .9-1 .1-.5 .4-.5 .1-.5 .9-1 .1-.5 .9-1 .1-.5 1.5-1.5 0-.5 1.6-1.5 .1-.5 2-2 .1-.5 3.5-3.7 3-2.6 3-2.1 3.5-1.6z"/>
<path fill="#00e8ff" d="M69,60.6l2.1-.2 1.5,.3 1.1,.9 .5,.9 .1,1.1 -.1,2 -.8,3 -3,8 -.3,1.5 .3,1.5 .8,1 .8,.5 5.2,1.8 1.5,.7 1.3,1 .8,1 .9,2 .7,1 .4,2 -6.3,18.5 -1.8,5 -.1,1 -.5,.6 -.7,19 -.1,6 .2,2.5 -.4,.6 -2,1.9 -2.7,2 -.4,.5 -.3,1 .1,1 .8,2.1 2.9,5.4 1.2,2.5 1,3 .5,2.5 .1,2 -.6,1.5 -1.1,.9 -1.5,.3 -2-.2 -3-.8 -3-1.4 -2.5-1.5 -2.5-2.1 -2.5-2.4 -3-3.4 -.1-.4 -1.7-1.5 0-.5 -1.5-1.5 0-.5 -1-1 0-.5 -1-1 0-.5 -.5-.5 0-.5 -1-1 0-.5 -.5-.5 -.1-.5 -.9-1 0-.5 -.5-.5 0-.5 -.5-.5 0-.5 -.5-.5 0-.5 -.5-.5 0-.5 -1-1.5 -.1-1 -.4-.5 -.1-.5 -.9-1.5 -.1-1 -.4-.5 -.1-1 -.4-.5 -.1-1 -.4-.5 -.1-1 -.4-.5 -.1-1.5 -.4-.5 -.2-1.5 -.4-.5 -.1-2.5 -.4-.5 -.1-3.3 -.4-.7 0-1 0-8.6 .4-.5 .1-3.5 .4-.5 .2-2.5 .4-.5 .1-1.5 .4-.5 .1-1.5 .4-.5 .1-1 .4-.5 .1-1 .5-.5 0-1 .5-.5 0-1 1-1.5 0-.5 .5-.5 0-1 1-1.5 0-.5 .5-.5 0-.5 .5-.5 0-.5 .5-.5 0-.5 .5-.5 0-.5 .9-1 .1-.5 .5-.5 0-.5 1-1 0-.5 .5-.5 0-.5 1-1 0-.5 1-1 0-.5 1.5-1.5 0-.5 1.7-1.5 .1-.5 4.5-4.8 3-2.6 2.5-1.7 3.5-1.6z"/>
<path fill="#00fbf3" d="M66.5,62.6l2.1-.4 2,.2 1.2,.7 .4,.5 .4,1 0,2 -.4,2.5 -2.6,8 -.1,1.5 .5,1.5 1.4,1 5.3,1.7 2.5,1.3 1.4,1.5 1.5,3 .5,1.5 -4.6,14.5 -3.3,9.5 -.1,1 -.5,.6 -.9,19 -.1,6 .2,2.5 -.4,.5 -1.8,1.6 -3.2,2.4 -.7,1 -.1,1 .6,2 3,6 1,2.5 .9,4 0,2 -.5,1.1 -1,.9 -1,.3 -1,.1 -2-.2 -2.5-.8 -3-1.4 -2.5-1.5 -3.5-3.1 -4-4.5 -.7-.4 -.1-.5 -1.5-1.5 0-.5 -1-1 0-.5 -1-1 0-.5 -.5-.5 0-.5 -1-1 0-.5 -.5-.5 0-.5 -1-1 0-.5 -.5-.5 0-.5 -.5-.5 0-.5 -.5-.5 0-.5 -.5-.5 0-.5 -.9-1.5 -.1-1 -.5-.5 0-.5 -.9-1.5 -.1-1 -.4-.5 -.1-1 -.5-.5 -.1-1 -.4-.5 -.1-1 -.4-.5 -.1-1.5 -.4-.5 -.1-1.5 -.4-.5 -.2-2.5 -.3-.5 -.2-3.5 -.4-.5 .1-9.6 .3-.5 .2-3.5 .4-.5 .1-2.5 .4-.5 .1-1.5 .5-.5 .1-1.5 .4-.5 .1-1 .4-.5 .1-1 .4-.5 .1-1 .4-.5 .1-1 .9-1.5 0-.5 .5-.5 .1-1 .9-1.5 0-.5 .5-.5 0-.5 .5-.5 0-.5 .5-.5 0-.5 .5-.5 0-.5 1-1 0-.5 .5-.5 0-.5 1-1 0-.5 .5-.5 0-.5 1-1 0-.5 1-1 0-.5 1.5-1.5 0-.5 .8-.5 4.5-5 2.5-2.1 2-1.4 3-1.5z"/>
<path fill="#00fed5" d="M65.6,64.1l2-.3 1.8,.3 .8,.5 .8,1.5 .2,2 -.3,2 -2,7 0,1.5 .5,1.5 1.2,1 6.1,1.9 2.2,1.1 1.4,1.5 1.4,2.5 .8,2 -7.8,23.9 -.1,1.1 -.5,.6 -1,18.5 -.2,6.5 .1,2.5 -.3,.5 -2.1,1.7 -3.3,2.3 -.6,1 -.1,1 .4,1.5 3.2,7.5 .9,3.5 0,2 -.5,1.5 -1,.9 -1.5,.4 -2-.2 -2.5-.7 -3-1.4 -2-1.2 -3.5-2.8 -3.5-3.9 -.5,.1 -.2-.2 -.1-.5 -1.4-1.5 -.1-.5 -.9-1 -.1-.5 -.9-1 -.1-.5 -.5-.5 0-.5 -.9-1 -.1-.5 -.4-.5 -.1-.5 -.9-1 -.1-.5 -.4-.5 -.1-.5 -.4-.5 -.1-.5 -.4-.5 -.1-.5 -.4-.5 -.1-.5 -.9-1.5 -.1-1 -.4-.5 -.1-.5 -.9-1.5 -.1-1 -.4-.5 -.1-1 -.4-.5 -.1-1 -.4-.5 -.1-1 -.4-.5 -.1-1.5 -.4-.5 -.2-1.5 -.4-.5 -.1-2.5 -.4-.5 -.1-3.5 -.4-.5 0-.5 0-9.1 .4-.5 .1-3.5 .4-.5 .2-2.5 .4-.5 .1-1.5 .4-.5 .1-1.5 .4-.5 .1-1 .4-.5 .1-1 .4-.5 .1-1 .5-.5 0-1 1-1.5 0-.5 .4-.5 .1-1 .9-1.5 .1-.5 .4-.5 .1-.5 .4-.5 .1-.5 .4-.5 .1-.5 .4-.5 .1-.5 .9-1 0-.5 .5-.5 .1-.5 .9-1 0-.5 .5-.5 .1-.5 .9-1 .1-.5 .9-1 .1-.5 1.4-1.5 .1-.5 .2-.2 .5,0 4-4.3 2.5-2.1 2-1.2 3-1.4z"/>
<path fill="#00ffb8" d="M64.5,65.6l1.6-.2 1.7,.2 .8,.4 .5,.6 .5,1 .2,1.5 -.1,1.5 -1.5,7 .1,1.5 .4,1 1.2,1 6.3,1.8 2.5,1.2 1.4,1.5 1.4,2.5 .8,2 -7.6,23.9 -.1,1.1 -.5,.6 -1.2,19 -.2,6 .1,2.5 -.4,.5 -2.8,2.2 -2.8,1.8 -.7,1 0,1 .3,1.5 2.7,7 .6,3 -.1,1.7 -.5,1.3 -1,.8 -1.5,.4 -2-.2 -2.5-.8 -2.5-1.2 -2.5-1.5 -2.5-2.1 -3-3.2 0,.3 -.5,.2 -.2-.2 0-.5 -1.5-1.5 0-.5 -1-1 0-.5 -1-1 0-.5 -.5-.5 -.1-.5 -.9-1 0-.5 -.5-.5 -.1-.5 -.9-1 0-.5 -.5-.5 0-.5 -.5-.5 0-.5 -.5-.5 0-.5 -.5-.5 0-.5 -1-1.5 0-1 -.5-.5 0-.5 -.9-1.5 -.1-1 -.5-.5 0-1 -.5-.5 -.1-1 -.4-.5 -.1-1 -.4-.5 -.1-1.5 -.4-.5 -.1-1.5 -.4-.5 -.2-2.5 -.3-.5 -.2-3.5 -.4-.5 0-1 0-8.6 .4-.5 .2-3.5 .4-.5 .1-2.5 .4-.5 .1-1.5 .5-.5 .1-1.5 .4-.5 .1-1 .4-.5 .1-1 .4-.5 .1-1 .4-.5 .1-1 .9-1.5 0-.5 .5-.5 0-1 1-1.5 0-.5 .5-.5 0-.5 .5-.5 0-.5 .5-.5 0-.5 .5-.5 0-.5 .9-1 .1-.5 .4-.5 .1-.5 .9-1 .1-.5 .5-.5 0-.5 1-1 0-.5 1-1 0-.5 1.5-1.5 0-.5 .2-.2 .5,.2 0,.2 3.5-3.7 3-2.2 3.5-1.9z"/>
<path fill="#00ff95" d="M62.4,67.6l2.2-.4 1.5,.2 1.3,.7 .6,1 .2,1 .1,1.5 -1,6 .2,1.5 .8,1.5 .7,.5 1.1,.4 5.6,1.4 2.7,1.2 1.5,1.5 .7,1.5 .7,1 .3,1 .6,1 -7.5,23.8 -.1,1.2 -.5,.6 -1.4,19.5 -.3,5.5 .1,2.5 -3.1,2.5 -3.3,2 -.6,1 -.1,1 .3,2 2.1,6 .3,2.5 -.2,1.5 -.7,1 -1.1,.7 -1,.1 -1.5-.1 -1.5-.3 -3.5-1.6 -3.5-2.3 -3.1-3 -.4,0 -.1,.5 -.4,.2 -.2-.7 -1.5-1.5 0-.5 -1-1 0-.5 -1-1 0-.5 -.5-.5 0-.5 -1-1 0-.5 -.5-.5 0-.5 -.9-1 -.1-.5 -.4-.5 -.1-.5 -.4-.5 -.1-.5 -.4-.5 -.1-.5 -.4-.5 -.1-.5 -.9-1.5 -.1-1 -.4-.5 -.1-.5 -.9-1.5 -.1-1 -.4-.5 -.1-1 -.4-.5 -.1-1 -.4-.5 -.1-1 -.4-.5 -.1-1.5 -.4-.5 -.2-1.5 -.3-.5 -.2-2.5 -.4-.5 -.1-3.5 -.4-.5 0-9.6 .4-.5 .1-3.5 .4-.5 .2-2.5 .4-.5 .1-1.5 .4-.5 .1-1.5 .4-.5 .1-1 .4-.5 .1-1 .5-.5 0-1 .5-.5 0-1 .9-1.5 .1-.5 .4-.5 .1-1 .9-1.5 .1-.5 .4-.5 .1-.5 .4-.5 0-.5 .5-.5 0-.5 .5-.5 0-.5 1-1 0-.5 .5-.5 0-.5 1-1 0-.5 .5-.5 0-.5 1-1 0-.5 1-1 0-.5 1.5-1.5 .2-.7 .4,.2 .1,.5 .3,0 2.2-2.3 2.5-1.9 3-1.7z"/>
<path fill="#00ff73" d="M61.9,69.1l1.7-.2 1.3,.2 .9,.5 .7,1 .4,2 -.4,5.5 .4,1.5 .6,1 .7,.5 1.2,.5 5.8,1.3 2.9,1.2 1.5,1.5 1.5,2.5 .3,1 .6,1 -7.3,23.8 -.1,1.2 -.5,.6 -1.6,18.5 -.3,6 0,3 -3.1,2.4 -3,1.6 -1.1,1 -.3,1 .2,2 1.5,6 .1,2 -.2,1 -.7,.9 -1,.6 -1,.1 -2.5-.4 -3-1.3 -3-1.9 -3-2.7 -.6,.7 -.1,.5 -.3,.1 -.2-.6 -1.4-1.5 -.1-.5 -.9-1 -.1-.5 -.9-1 -.1-.5 -.4-.5 -.1-.5 -.9-1 -.1-.5 -.4-.5 -.1-.5 -.9-1 0-.5 -.5-.5 0-.5 -.5-.5 0-.5 -.5-.5 0-.5 -.5-.5 0-.5 -.9-1.5 -.1-1 -.5-.5 0-.5 -.4-.5 -.1-.5 -.4-.5 -.1-1 -.4-.5 -.1-1 -.4-.5 -.1-1 -.4-.5 -.1-1 -.4-.5 -.2-1.5 -.4-.5 -.1-1.5 -.4-.5 -.1-2.5 -.4-.5 -.2-3.5 -.4-.5 0-1.5 .1-8.1 .3-.5 .2-3.5 .4-.5 .1-2.5 .5-.5 .1-1.5 .4-.5 .1-1.3 .4-.7 .1-1 .4-.5 .1-1 .4-.5 .1-1 .4-.5 .1-1 .4-.5 .1-.5 .4-.5 0-.5 .5-.5 0-1 1-1.5 0-.5 .5-.5 0-.5 .5-.5 0-.5 .5-.5 0-.5 .4-.5 .1-.5 .9-1 .1-.5 .4-.5 .1-.5 .9-1 0-.5 .5-.5 .1-.5 .9-1 .1-.5 .9-1 .1-.5 1.4-1.5 .2-.6 .3,.1 .1,.5 .6,.5 2-1.9 2.5-1.8 2.5-1.3z"/>
<path fill="#00ff52" d="M61.3,70.6l1.3-.1 1,.2 1,.6 .5,.8 .4,1.5 .1,4.5 .5,1.5 .6,1 .6,.5 1.1,.5 6.3,1.3 2,.6 1.1,.6 1.6,1.5 1.5,2.5 .9,2 -7.1,23.7 -.1,1.3 -.5,.6 -1.8,19 -.4,8.5 -3.3,2.4 -3.2,1.6 -1,1 -.3,1 0,1.5 .2,2 .7,3.5 -.1,2 -.4,1 -.6,.5 -.8,.3 -1,.1 -2-.3 -2.5-1.1 -2.5-1.6 -2.5-2.1 -.6,.2 0,.5 -.6,.5 -.1,.5 -.2,.1 -.1-.6 -1.5-1.5 0-.5 -1-1 0-.5 -1-1 0-.5 -.5-.5 0-.5 -1-1 0-.5 -.5-.5 0-.5 -1-1 0-.5 -.5-.5 0-.5 -.5-.5 0-.5 -.4-.5 -.1-.5 -.4-.5 -.1-.5 -.4-.5 0-.5 -.5-.8 -.1-.7 -.4-.6 -2.5-6.9 -.5-1.5 -.1-1 -.4-.7 -.1-1.3 -.4-.6 -.2-2.4 -.4-.5 -.1-3.5 -.4-.5 -.1-3 .1-6.6 .4-.5 .2-3.5 .3-.5 .2-2 .4-1 .1-.8 2-6.3 1.5-4.4 .4-.5 .1-.8 .4-.7 .1-.5 .4-.5 .1-.5 .4-.5 0-.5 .5-.5 0-.5 .5-.5 0-.5 .5-.5 0-.5 1-1 0-.5 .5-.5 0-.5 1-1 0-.5 .5-.5 0-.5 1-1 0-.5 1-1 0-.5 1.5-1.5 .1-.6 .2,.1 .1,.5 .6,.5 .1,.5 .4,0 2.1-1.8 2.5-1.6 2-1z"/>
<path fill="#00ff32" d="M60.6,72.1l1,0 1,.2 1,.8 .6,1.5 .6,4 .7,1.5 .9,1 1.7,.7 6.6,1.2 2.8,1.1 .7,.5 .9,1 1.7,2.5 .8,2 -6.9,23.6 -.1,1.4 -.5,.6 -2,18.7 -.5,8.8 -3,2.1 -3.9,1.9 -1,1 -.3,1 -.1,2 .2,4 -.1,1.5 -.3,.7 -.5,.5 -.5,.3 -1,.2 -2-.3 -2-.9 -2-1.2 -2.2-1.8 -.3,0 -.1,.5 -.5,.5 -.1,.5 -.6,.5 -.2,.6 -.1-.6 -1.4-1.5 -.1-.5 -1-1 0-.5 -1-1 0-.5 -.5-.5 0-.5 -1-1 0-.5 -.5-.5 0-.5 -.9-1 -.1-.5 -.4-.5 -.1-.5 -.4-.6 0-.4 -1-2 -4-10.7 -1.5-5.2 -.1-1.6 -.4-.8 -.2-3.2 -.3-.5 -.1-3.5 .1-6.1 .3-.5 .2-2.8 .4-1.2 .1-1.1 2-6.7 2.5-7.2 1.1-3 .4-.5 0-.5 .4-.5 .1-.5 .4-.5 .1-.5 .4-.5 .1-.5 .9-1 0-.5 .5-.5 0-.5 1-1 0-.5 .5-.5 0-.5 1-1 0-.5 1-1 0-.5 1.5-1.5 .1-.6 .2,.6 .6,.5 .1,.5 .6,.5 0,.4 2-1.7 2-1.3 2-.9z"/>
<path fill="#00ff14" d="M51.1,74.1l.1,.5 .6,.5 .1,.5 .6,.5 0,.5 .6,.4 2.5-1.8 2.5-1.2 2-.4 1.5,.3 .5,.4 .7,.8 1.3,4 .6,1 .9,1 1.5,.7 6.5,1.1 2.1,.5 1.6,.7 .9,.6 .7,.9 1.7,2.5 .8,2 -6.7,23.6 -.1,1.4 -.5,.6 -2,16.9 -.7,10.6 -3.3,2.2 -3.1,1.3 -1.6,1 -.6,1 -.3,1.5 -.6,5 -.7,1 -1.1,.4 -1,0 -1.5-.4 -2-1 -2-1.5 -.5,0 -.6,.5 -.1,.5 -.5,.5 -.1,.5 -.6,.5 -.1,.5 0-.5 -1.5-1.5 0-.5 -1-1 -.1-.5 -.9-1 -.1-.5 -.4-.5 -.1-.5 -.9-1 0-.5 -.5-.5 0-.5 -.5-.5 -1-2.1 -5-12.9 -2-6.8 -.5-2.5 -.1-2.2 -.3-.5 -.2-5.1 .2-4.5 .3-.5 .1-1.8 .5-2.4 1-3.6 4.5-13 2-5 .9-1.2 .1-.5 .4-.5 .1-.5 .9-1 .1-.5 .4-.5 .1-.5 .9-1 .1-.5 .9-1 .1-.5 1.5-1.5z"/>
<path fill="#0eff00" d="M51.1,74.6l0-.2 0,.2 .7,.5 0,.5 .6,.5 0,.5 1.2,1.1 2-1.4 2-.9 1.5-.3 1.5,.3 1,.9 2.2,3.8 1.6,1.5 1.5,.5 5.2,.6 2.6,.6 2,.7 1,.5 1,1 1.7,2.6 .4,1 .3,.5 .1,.5 -6.5,23.5 -.1,1.5 -.5,.6 -2.3,18.5 -.7,9 -3,1.9 -3.8,1.6 -1.6,1 -.5,1 -1.6,4.8 -.5,.8 -.5,.3 -1,.2 -1.5-.2 -1.5-.7 -2-1.2 -.1,.5 -1.1,1 -.1,.5 -.5,.5 -.1,.5 -.6,.6 -3-4.2 -2.5-4.4 -1.5-3.4 -5-12.9 -1.5-4.8 -.7-2.9 -.5-4 -.2-4 .4-6.2 1-4.6 3.8-10.8 2.2-6.6 1.5-3.6 1.2-2.3 .8-1 0-.5 1.5-2 0-.4 1-1.1 0-.3z"/>
<path fill="#38ff00" d="M51,75.1l.1-.1 .6,.1 0,.5 .6,.5 0,.5 1.2,1 .1,.6 .5,.1 1.5-.9 1.5-.6 2-.1 1.5,.7 2.7,3.2 1.1,1 .7,.3 1.5,.4 6,.6 2.6,.6 1.5,.6 1,.6 .8,.9 1.7,2.5 .4,1 .4,.5 0,.5 -6.3,23.5 -.1,1.5 -.5,.6 -2.5,18.5 -.8,9 -3.2,2 -4.1,1.5 -.9,.5 -1,1 -2,3.8 -1,.8 -1,.3 -1-.1 -2.5-1.2 0,.4 -.6,.5 -.1,.5 -1.1,1 -.1,.5 -.5,.5 -.1,.5 -.4,0 -1.6-2 -3-4.8 -1.5-3.3 -2.3-6.4 -3.2-7.4 -1.5-4.3 -1-4.1 -.5-3.5 -.2-3.7 .1-3.6 .3-3 .8-3.7 1-3.1 3.4-8.7 2.6-8 1-2.5 2.5-4.5z"/>
<path fill="#63ff00" d="M51.5,75.6l.1-.1 .6,.6 0,.5 1.1,1 .1,.5 .6,.5 .1,.5 2.5-.9 2-.2 1.5,.7 2.7,2.4 1.6,1 2.2,.4 6,.6 2.1,.4 1.7,.6 .9,.5 1,1 1.5,2 1.1,2 -6.2,23.9 -.1,1.6 -.5,.6 -2.5,17.5 -1,10 -3.5,2 -4.4,1.5 -.9,.5 -2.2,2.7 -1.5,1.3 -1.5,.3 -2-.6 0,.3 -.6,.5 -.1,.5 -.6,.5 0,.5 -1.1,1 -.1,.5 -.5,.2 -2-2.1 -2.5-4.1 -3.3-8.5 -4.7-10.6 -1-3.1 -1-4.3 -.4-3.5 -.1-3 .3-5.6 .9-4 1-3 4.3-10.1 2.5-8.1 1-2.4 1.5-2.7 1.5-2.1z"/>
<path fill="#8dff00" d="M51.8,77.1l.3-.2 .5,.2 .6,.5 0,.5 .6,.5 .1,.5 .6,.5 .1,.5 2-.8 1.5,0 1.5,.5 3.5,2.2 1,.4 1.5,.2 6,.4 2.6,.5 1.9,.6 1.1,.6 .9,.9 1.6,2 1.1,2 -6.1,23.9 -.2,1.6 -.4,.6 -2.5,16.5 -1,8 -.1,2.5 -.2,.5 -3.7,2 -4.8,1.5 -.8,.5 -1.9,1.9 -1.5,.8 -1,.2 -1.5-.2 0,.3 -.7,.5 0,.5 -.6,.5 -.1,.5 -.5,.5 -.1,.5 -.5,.2 -1.5-1.1 -1-.9 -2-2.9 -3.6-8.3 -4.6-9.5 -1.3-3.5 -1-3.7 -.6-3.3 -.2-4 .4-6.1 .5-2.5 .9-3 5-11.5 3-8.6 1-2.3 2-3.1z"/>
<path fill="#b8ff00" d="M52.3,78.6l.8-.5 .6,.5 0,.5 .6,.5 .1,.5 .7,.7 1.5-.5 1.5,.1 1.5,.4 2.5,1.3 1.4,.5 8.1,.5 2,.4 2.1,.6 1.1,.5 1.2,1 1.5,2 .7,1.5 .5,.5 -6,23.8 -.2,1.7 -.4,.6 -3,19.2 -.8,7.8 -.2,.5 -.5,.3 -2.5,1.3 -6,1.8 -3,2.1 -1,.3 -1.5,.2 -.7,.5 0,.5 -.6,.5 -.1,.5 -.6,.7 -1.5-.8 -1-.8 -2.2-2.6 -7.7-15 -1.9-4.5 -1.2-3.8 -.8-3.7 -.3-4 .1-3.6 .3-3 .8-3 1-3 4.9-10.8 3.9-9.7 2.1-3.1z"/>
<path fill="#e2ff00" d="M53.3,79.6l.3-.1 .6,.1 0,.5 .7,.5 .1,.5 .6,.4 1-.2 1.5,0 5,1.5 8.5,.4 3.9,.9 1.2,.6 1,.8 1.7,2.1 1.1,2 -5.8,23.8 -.2,1.7 -.4,.6 -3,18.5 -1,8.5 -.5,.6 -3,1.5 -5.3,1.4 -1.4,.5 -1.8,1.1 -1,.3 -1,.1 -.1,.5 -1.3,1 -.1,.5 -.5,.1 -1-.3 -1.5-.9 -2.2-2.4 -1.8-2.8 -5.3-9.7 -2.5-5.5 -1.4-4 -.8-4 -.3-4.5 .1-3.1 .3-3 .9-3.5 1.2-3 8.7-19 2.1-2.9 1.5-1.4z"/>
<path fill="#fff400" d="M54.2,80.6l.4,0 .1,.5 1.4,1 2-.1 4.5,1.1 9,.2 3.6,.8 1.5,.7 1,.9 1.6,1.9 1.1,2 -5.7,23.7 -.2,1.8 -.4,.6 -3,18 -1,6.5 -.1,2.5 -.4,.5 -3.5,1.7 -6,1.3 -2,.9 -1.5,.3 -.8,.8 -.1,.5 -.6,.4 -1-.1 -1.5-.6 -1.5-1.1 -1-1 -2.2-3.1 -5.2-9 -2.4-5 -1.6-4.5 -.8-4 -.3-4.5 .1-4.1 .7-3.5 1.3-4 3-6.5 4.9-10.3 1.5-2.7 1.1-1.5 1.4-1.5 1-.7z"/>
<path fill="#ffd100" d="M54.7,81.6l.4,0 .7,.5 .3,.6 2.5,0 3.5,.6 8.5,.1 4.1,.7 1.5,.6 1.2,.9 1.8,2 1,2 -5.5,23.7 -.2,1.8 -.4,.6 -3.4,19.5 -.9,7.5 -.7,.6 -3,1.4 -2,.5 -5.4,1 -1.6,.5 -.7,.5 -.3,.6 -1,.2 -1-.1 -1.5-.6 -1.5-1 -1-1.1 -2.5-3.4 -4.6-7.6 -2.6-5.5 -1.5-4.5 -.7-3.5 -.4-4.5 .3-5.1 .8-3.5 1.4-3.5 5-10.5 2.8-5.7 2-3 2-2 1.5-.9z"/>
<path fill="#ffad00" d="M54.5,82.6l1.1-.2 1,1 1.5-.1 4,.3 7.5-.2 2,.1 2.6,.5 1.6,.6 1.4,.9 1.9,2.1 1,2 -5.4,23.6 -.2,1.9 -.4,.6 -3.4,19 -1.1,8 -.5,.5 -3.5,1.5 -2,.5 -6,.8 -.5,.2 -.3,.5 -.7,.5 -.5,0 -1.5-.1 -1.5-.6 -1-.7 -1.5-1.4 -2.8-3.7 -4-6.5 -2.4-5 -1.6-4.5 -.8-3.5 -.4-4.5 .2-4.6 .6-3.5 1.5-4 3-6.5 4-8 2.2-3.6 1-1.2 1.5-1.4z"/>
<path fill="#ff8800" d="M55.7,83.1l.4,0 .3,.5 .7,.2 4,.1 8-.4 2.5,.1 2,.4 2.1,.7 1.5,1 1.8,1.9 1,2 -5.3,23.6 -.2,1.9 -.4,.6 -.5,2.3 -3.1,17.2 -1.1,7.5 -.8,.6 -3.5,1.4 -2,.4 -5.5,.5 -1,.8 -1,.1 -1.5-.1 -1-.4 -1.5-1 -1.5-1.4 -2.5-3.2 -4.2-6.7 -2.6-5.5 -1.4-4 -.7-3.5 -.4-4.5 .4-5.6 1-3.5 3.3-7.5 3.3-6.5 2.3-4.2 2-2.8 2.5-2 1.5-.7z"/>
<path fill="#ff6100" d="M67.9,83.6l4.2,.2 2.1,.4 1.5,.6 1.5,1 1.7,1.8 .9,2 -5.1,23.5 -.2,2 -.4,.6 -1,5 -3,15.5 -.8,6.5 -1.2,.7 -4,1.4 -6.5,.4 -.5,.5 -.5,.1 -2,0 -1-.2 -1.5-.8 -1.5-1.3 -1.5-1.7 -2.3-3.1 -2.5-4 -2.6-5 -1.9-5 -1-4.5 -.2-5.6 .5-4.5 1.6-5 3.5-7.5 4.7-8.5 1.2-1.6 1.5-1.6 2-1.4 2-.7 .5-.1 1,.7z"/>
<path fill="#ff3900" d="M63.2,84.1l3.4-.3 3.5-.1 2.5,.3 2.1,.5 1.5,.7 1.5,1.3 1.1,1.1 .9,2 -5,23.5 -.2,2 -.4,.6 -2.5,12 -1.9,10.5 -.6,4.5 -1.5,.8 -3.5,1.1 -2.5,.3 -3.5,0 -1,.4 -2,.1 -1.5-.4 -1-.5 -1.5-1.1 -1.5-1.6 -4.1-5.6 -1.6-2.5 -1.5-3 -2-5 -1.1-4 -.5-5 .3-5.6 .6-2.5 1.1-3 3-6.5 4.1-7.5 2.7-4 2-1.9 2.5-1.2 1.5-.3 .3,.4 .7,.2z"/>
<path fill="#ff1200" d="M64.2,84.1l2.9-.3 3,0 2.5,.3 2.1,.5 2,1.1 1.5,1.4 .5,.5 .9,2 -4.9,23.4 -.2,2.1 -.4,.6 -2.9,14 -1.7,8.5 -.6,4.5 -.8,.5 -2,.7 -2.5,.7 -2.5,.1 -3,0 -1,.2 -2,0 -1-.2 -1.5-.7 -1.5-1.2 -1.5-1.5 -2-2.5 -2.1-3.1 -1.6-2.5 -1.5-3 -1.9-5 -1.1-4 -.4-5 .4-5.1 .4-2 1-3 3-6.5 4.7-8.5 2.6-3.4 2-1.7 2.5-1.1 1-.1 1,.3z"/>
<path fill="#ff0000" d="M65.2,84.1l2.9-.2 2.5,0 2,.3 2.1,.5 2,1.1 1.9,1.8 .9,2 -4.8,23.4 -.2,2.1 -.4,.6 -3.6,16.5 -1.3,7 -.5,3.5 -3.1,1.3 -2.5,.5 -5.5,.1 -2.5-.2 -1.5-.4 -1.5-.9 -1.5-1.2 -1.5-1.6 -4.3-6.1 -2.4-4.5 -1.6-4 -1.2-4.5 -.4-5 .4-5.6 1.6-5 3-6.5 4.1-7 1.3-2 1.5-1.8 2-1.7 2-1 2-.4 .5,.2z"/>
<path fill="#ff0000" d="M66.1,84.1l2.5-.1 2.5,0 3.6,.8 2,1.1 1.8,1.7 .9,2 -4.7,23.3 -.2,2.2 -.4,.6 -3,13.5 -1.9,9 -.6,4.5 -3,1.1 -2.5,.6 -5.5,0 -2-.3 -1.5-.4 -1.5-.7 -1.5-1.1 -1.5-1.5 -2-2.5 -2.3-3.2 -2.5-4.5 -1.9-5 -1.1-4 -.4-5 .4-5.6 1.6-5 3-6.5 3.9-6.5 3-4 2.3-1.8 2-.9z"/>
<path fill="#ffffff" d="M63.8,84.6l5.3-.5 2.5,.2 2,.4 2.1,.9 2,1.4 .6,.6 .8,1.5 .1,.5 -4.5,23.2 -.2,2.3 -.4,.6 -3,12.5 -3,14.5 -2,.7 -2.5,.6 -2,.2 -3.5-.2 -3.5-.8 -1.5-.7 -1.5-1 -3.2-3.3 -3.6-5 -2.5-5 -1.1-3 -.8-3 -.6-4.5 .1-5.1 .4-2.5 .9-3 2.6-6 3-5.5 3.8-5.3 2-1.9 2.5-1.6 2-.7z"/>
<ellipse cx="74.15" cy="115.40" rx="26.45" ry="27.44" fill="#000"/>
<path fill="#000" d="M74.2,89.8 76.7,90.1 79.3,90.4 81.9,90.7 84.5,91.0 87.1,91.3 89.7,91.1 92.3,90.0 94.9,92.0 97.5,90.9 100.1,91.5 102.7,89.7 105.3,90.9 107.9,89.0 110.5,89.2 113.1,85.6 115.7,84.4 118.3,80.2 120.9,78.0 123.5,73.4 126.1,71.8 128.7,67.2 131.2,64.8 133.8,62.7 136.4,63.7 139.0,61.8 141.6,62.3 144.2,60.9 146.8,62.5 149.4,61.0 152.0,61.6 151.4,179.7 148.8,178.3 146.2,179.0 143.6,176.7 141.0,177.3 138.4,176.0 135.8,176.6 133.2,174.2 130.6,174.8 128.0,173.4 125.4,174.0 122.8,171.4 120.2,172.0 117.7,170.5 115.1,171.0 112.5,168.4 109.9,168.8 107.3,167.1 104.7,167.4 102.1,166.4 99.5,165.3 96.9,164.3 94.3,163.2 91.7,162.0 89.1,160.9 86.5,159.7 83.9,158.4 81.3,157.1 78.7,155.8 76.1,154.4 73.5,152.9 70.9,151.4 68.3,149.8 65.7,148.1 63.2,146.3 60.6,144.4 59.3,143.4 58.1,142.4 56.4,140.9Z"/>
<g fill="none">
<path d="M159.8,233.4 154.5,230.8 149.2,228.2 144.2,225.7 139.2,223.1 134.3,220.5 129.6,218.0 124.9,215.4 120.4,212.8 116.0,210.3 111.8,207.7 107.6,205.2 103.6,202.6 99.6,200.0 95.8,197.5 92.1,194.9 88.6,192.3 85.1,189.8 81.8,187.2 78.5,184.6 75.4,182.1 72.5,179.5 69.6,176.9 66.8,174.4 64.2,171.8 61.7,169.3 59.3,166.7 57.0,164.1 54.8,161.6 52.8,159.0 50.8,156.4 49.0,153.9 47.3,151.3 45.7,148.7 44.3,146.2 42.9,143.6 41.7,141.0 40.6,138.5 39.6,135.9 38.7,133.4 37.9,130.8 37.3,128.2 36.8,125.7 36.4,123.1 36.1,120.5 35.9,118.0 35.8,115.4 35.9,112.8 36.1,110.3 36.4,107.7 36.8,105.1 37.3,102.6 37.9,100.0 38.7,97.4 39.6,94.9 40.6,92.3 41.7,89.8 42.9,87.2 44.3,84.6 45.7,82.1 47.3,79.5 49.0,76.9 50.8,74.4 52.8,71.8 54.8,69.2 57.0,66.7 59.3,64.1 61.7,61.5 64.2,59.0 66.8,56.4 69.6,53.9 72.5,51.3 75.4,48.7 78.5,46.2 81.8,43.6 85.1,41.0 88.6,38.5 92.1,35.9 95.8,33.3 99.6,30.8 103.6,28.2 107.6,25.6 111.8,23.1 116.0,20.5 120.4,18.0 124.9,15.4 129.6,12.8 134.3,10.3 139.2,7.7 144.2,5.1 149.2,2.6 154.5,0.0 159.8,-2.6" stroke="#f2f2f2" stroke-width="1.1"/>
<path d="M155.7,47.4 151.9,48.4 148.1,49.4 144.4,50.4 140.8,51.4 137.3,52.5 133.8,53.5 130.3,54.6 127.0,55.6 123.7,56.7 120.4,57.7 117.3,58.8 114.2,59.9 111.1,61.0 108.2,62.1 105.3,63.2 102.4,64.3 99.6,65.4 96.9,66.5 94.3,67.6 91.7,68.8 89.2,69.9 86.7,71.0 84.3,72.2 82.0,73.3 79.8,74.5 77.6,75.6 75.5,76.8 73.4,78.0 71.4,79.1 69.5,80.3 67.6,81.5 65.8,82.7 64.1,83.8 62.4,85.0 60.8,86.2 59.3,87.4 57.8,88.6 56.4,89.8 55.1,91.0 53.8,92.2 52.6,93.4 51.5,94.6 50.4,95.8 49.4,97.0 48.4,98.3 47.5,99.5 46.7,100.7 46.0,101.9 45.3,103.1 44.7,104.4 44.1,105.6 43.6,106.8 43.2,108.0 42.8,109.3 42.5,110.5 42.3,111.7 42.1,112.9 42.1,114.2 42.0,115.4 42.1,116.6 42.1,117.9 42.3,119.1 42.5,120.3 42.8,121.5 43.2,122.8 43.6,124.0 44.1,125.2 44.7,126.4 45.3,127.7 46.0,128.9 46.7,130.1 47.5,131.3 48.4,132.5 49.4,133.8 50.4,135.0 51.5,136.2 52.6,137.4 53.8,138.6 55.1,139.8 56.4,141.0 57.8,142.2 59.3,143.4 60.8,144.6 62.4,145.8 64.1,147.0 65.8,148.1 67.6,149.3 69.5,150.5 71.4,151.7 73.4,152.8 75.5,154.0 77.6,155.2 79.8,156.3 82.0,157.5 84.3,158.6 86.7,159.8 89.2,160.9 91.7,162.0 94.3,163.2 96.9,164.3 99.6,165.4 102.4,166.5 105.3,167.6 108.2,168.7 111.1,169.8 114.2,170.9 117.3,172.0 120.4,173.1 123.7,174.1 127.0,175.2 130.3,176.2 133.8,177.3 137.3,178.3 140.8,179.4 144.4,180.4 148.1,181.4 151.9,182.4 155.7,183.4" stroke="#e0a000" stroke-width="1.2"/>
<ellipse cx="74.15" cy="115.40" rx="40.29" ry="41.80" stroke="#e4e4e4" stroke-width="1.1" stroke-dasharray="1 2.58" stroke-linecap="butt"/>
<ellipse cx="74.15" cy="115.40" rx="24.72" ry="25.64" stroke="#d8520a" stroke-width="1.1"/>
</g>
</g>
<text class="n" transform="translate(8.0,18.0) scale(1,1.16)" text-anchor="start">All</text>
<g>
<text class="t" transform="translate(-3.0,17.0) scale(1,1.16)" text-anchor="end">4</text>
<text class="t" transform="translate(-3.0,68.3) scale(1,1.16)" text-anchor="end">2</text>
<text class="t" transform="translate(-3.0,119.6) scale(1,1.16)" text-anchor="end">0</text>
<text class="t" transform="translate(-3.0,170.9) scale(1,1.16)" text-anchor="end">-2</text>
<text class="t" transform="translate(-3.0,222.2) scale(1,1.16)" text-anchor="end">-4</text>
<text class="t" transform="translate(0.1,245.0) scale(1,1.16)" text-anchor="middle">-3</text>
<text class="t" transform="translate(24.8,245.0) scale(1,1.16)" text-anchor="middle">-2</text>
<text class="t" transform="translate(49.5,245.0) scale(1,1.16)" text-anchor="middle">-1</text>
<text class="t" transform="translate(74.2,245.0) scale(1,1.16)" text-anchor="middle">0</text>
<text class="t" transform="translate(98.9,245.0) scale(1,1.16)" text-anchor="middle">1</text>
<text class="t" transform="translate(123.6,245.0) scale(1,1.16)" text-anchor="middle">2</text>
<text class="t" transform="translate(148.3,245.0) scale(1,1.16)" text-anchor="middle">3</text>
<text class="l" transform="translate(74.2,257.1) scale(1,1.16)" text-anchor="middle">X (R<tspan dy="2" font-size="6.3" font-style="italic" stroke-width="0">M</tspan><tspan dy="-2">)</tspan></text>
<text class="l" transform="translate(-20.4,115.9) rotate(-90) scale(1,1.16)" text-anchor="middle">Z (R<tspan dy="2" font-size="6.3" font-style="italic" stroke-width="0">M</tspan><tspan dy="-2">)</tspan></text>
</g>
<g>
<rect x="161.4" y="30.1" width="14.4" height="200.7" fill="url(#cb)"/>
<rect x="161.4" y="30.1" width="14.4" height="1" fill="#e8e8e8"/>
<rect x="161.4" y="30.1" width="14.4" height="200.7" fill="none" stroke="#999" stroke-width="0.5"/>
<path d="M161.4,210.7h1.6M175.8,210.7h-1.6" stroke="#000" stroke-opacity=".45" stroke-width=".7"/>
<path d="M161.4,190.7h1.6M175.8,190.7h-1.6" stroke="#000" stroke-opacity=".45" stroke-width=".7"/>
<path d="M161.4,170.6h1.6M175.8,170.6h-1.6" stroke="#000" stroke-opacity=".45" stroke-width=".7"/>
<path d="M161.4,150.5h1.6M175.8,150.5h-1.6" stroke="#000" stroke-opacity=".45" stroke-width=".7"/>
<path d="M161.4,130.4h1.6M175.8,130.4h-1.6" stroke="#000" stroke-opacity=".45" stroke-width=".7"/>
<path d="M161.4,110.4h1.6M175.8,110.4h-1.6" stroke="#000" stroke-opacity=".45" stroke-width=".7"/>
<path d="M161.4,90.3h1.6M175.8,90.3h-1.6" stroke="#000" stroke-opacity=".45" stroke-width=".7"/>
<path d="M161.4,70.2h1.6M175.8,70.2h-1.6" stroke="#000" stroke-opacity=".45" stroke-width=".7"/>
<path d="M161.4,50.2h1.6M175.8,50.2h-1.6" stroke="#000" stroke-opacity=".45" stroke-width=".7"/>
<text class="t" transform="translate(179.2,230.9) scale(1,1.16)" text-anchor="start">0.0</text>
<text class="t" transform="translate(179.2,194.2) scale(1,1.16)" text-anchor="start">2.0</text>
<text class="t" transform="translate(179.2,154.0) scale(1,1.16)" text-anchor="start">4.0</text>
<text class="t" transform="translate(179.2,113.9) scale(1,1.16)" text-anchor="start">6.0</text>
<text class="t" transform="translate(179.2,73.7) scale(1,1.16)" text-anchor="start">8.0</text>
<text class="t" transform="translate(179.2,37.0) scale(1,1.16)" text-anchor="start">10.0</text>
<text class="u" transform="translate(176.9,12.6) scale(1,1.16)" text-anchor="middle">•10<tspan dy="-5" font-size="8.3" stroke-width=".1">-15</tspan></text>
<text class="u" transform="translate(150.0,21.6) scale(1,1.16)" text-anchor="start">erg cm<tspan dy="-5" font-size="8.3" stroke-width=".1">-3</tspan><tspan dy="5">s</tspan><tspan dy="-5" font-size="8.3" stroke-width=".1">-1</tspan></text>
</g>
</g>
</svg></body></html>
